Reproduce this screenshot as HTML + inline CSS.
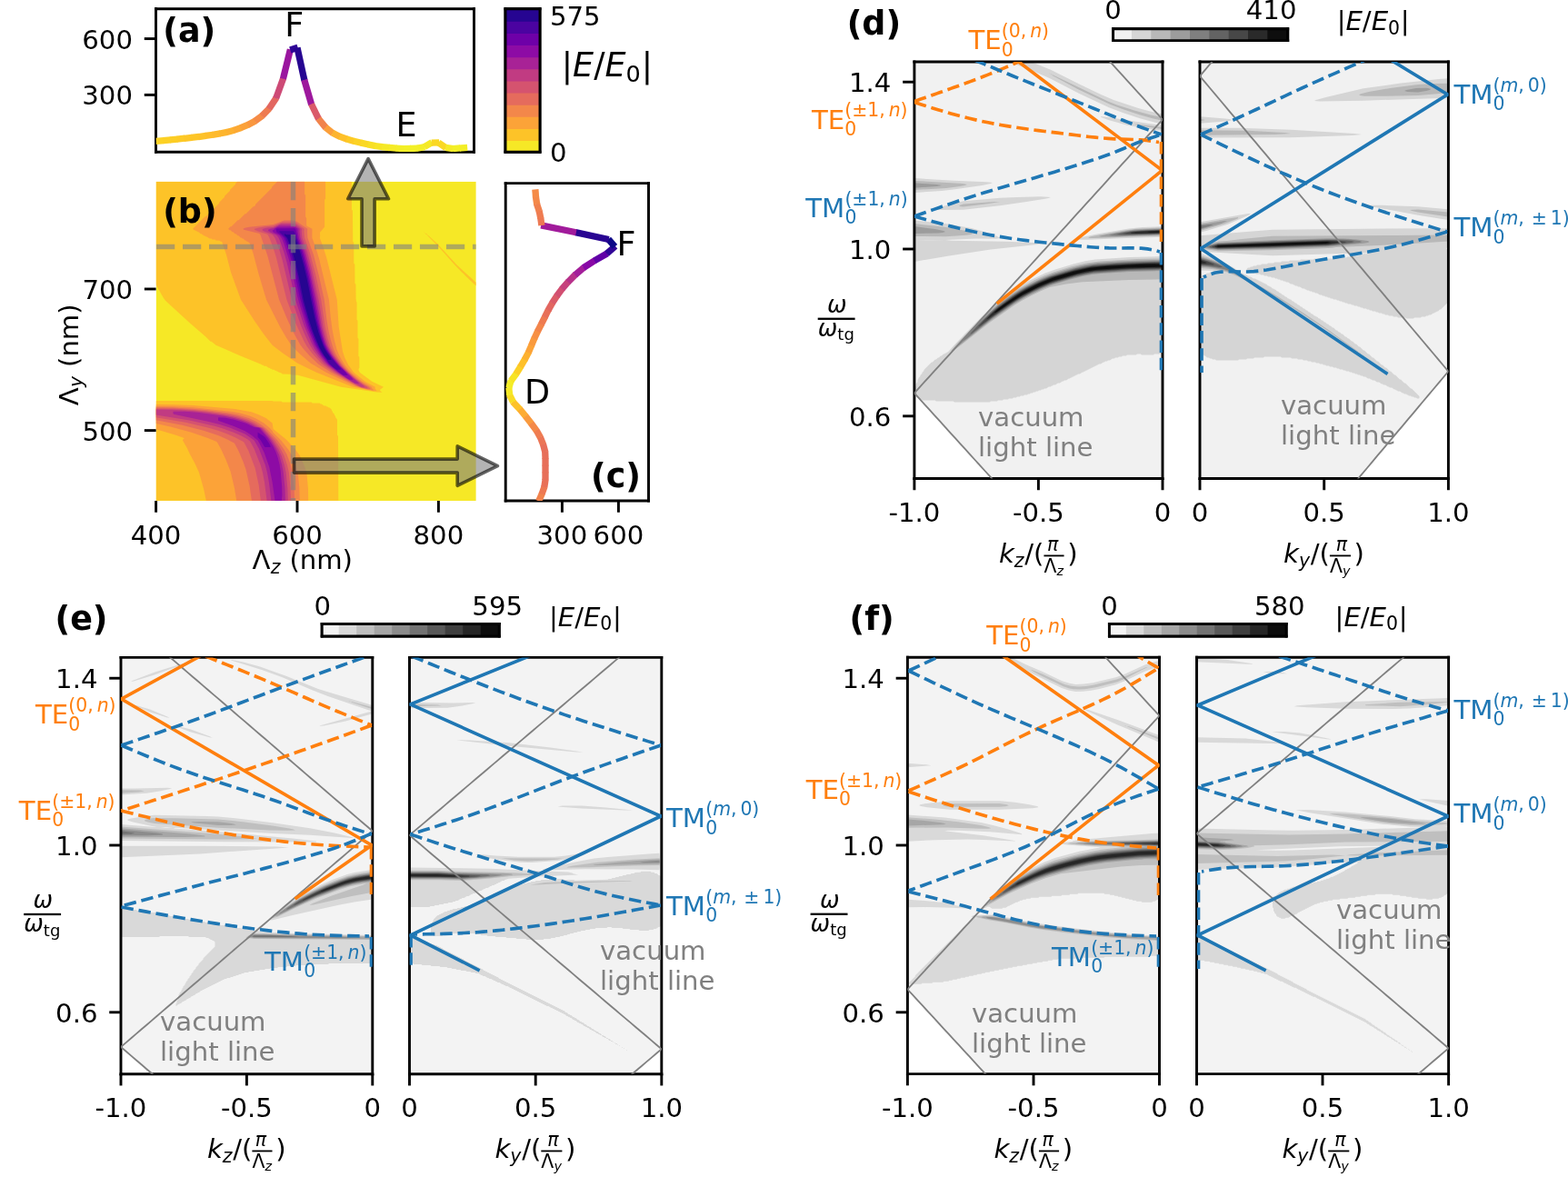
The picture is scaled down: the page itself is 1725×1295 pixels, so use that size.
<!DOCTYPE html>
<html><head><meta charset="utf-8"><title>figure</title><style>html,body{margin:0;padding:0;background:#fff;overflow:hidden}svg{display:block}</style></head><body>
<svg width="1725" height="1295" viewBox="0 0 496.8 372.96" version="1.1"><defs><style type="text/css">*{stroke-linejoin: round; stroke-linecap: butt}</style></defs><g id="figure_1"><g id="patch_1"><path d="M 0 372.96 L 496.8 372.96 496.8 0 0 0 z" style="fill: #ffffff"/></g><g id="axes_1"><g id="patch_2"><path d="M 49.39 48.15 L 150.19 48.15 150.19 2.79 49.39 2.79 49.39 48.15 z" style="fill: none"/></g><g id="matplotlib.axis_1"/><g id="matplotlib.axis_2"><g id="ytick_1"><g id="line2d_1"><defs><path id="m9aed2ce525" d="M 0 0 L -3.67 0" style="stroke: #000000; stroke-width: 0.84"/></defs><g><use xlink:href="#m9aed2ce525" x="49.39" y="12.27" style="stroke: #000000; stroke-width: 0.84"/></g></g><g id="text_1"><text style="font-size: 8.4px; font-family: 'DejaVu Sans', sans-serif; text-anchor: end" x="42.04" y="15.46" transform="rotate(-0 42.04 15.46)">600</text></g></g><g id="ytick_2"><g id="line2d_2"><g><use xlink:href="#m9aed2ce525" x="49.39" y="30.07" style="stroke: #000000; stroke-width: 0.84"/></g></g><g id="text_2"><text style="font-size: 8.4px; font-family: 'DejaVu Sans', sans-serif; text-anchor: end" x="42.04" y="33.26" transform="rotate(-0 42.04 33.26)">300</text></g></g></g><g id="patch_3"><path d="M 49.39 48.15 L 49.39 2.79" style="fill: none; stroke: #000000; stroke-width: 0.84; stroke-linejoin: miter; stroke-linecap: square"/></g><g id="patch_4"><path d="M 150.19 48.15 L 150.19 2.79" style="fill: none; stroke: #000000; stroke-width: 0.84; stroke-linejoin: miter; stroke-linecap: square"/></g><g id="patch_5"><path d="M 49.39 48.15 L 150.19 48.15" style="fill: none; stroke: #000000; stroke-width: 0.84; stroke-linejoin: miter; stroke-linecap: square"/></g><g id="patch_6"><path d="M 49.39 2.79 L 150.19 2.79" style="fill: none; stroke: #000000; stroke-width: 0.84; stroke-linejoin: miter; stroke-linecap: square"/></g><g id="LineCollection_1"><path d="M 49.42 44.76 L 51.86 44.53" clip-path="url(#pc8ce5147f1)" style="fill: none; stroke: #fcd225; stroke-width: 2.1"/><path d="M 51.66 44.55 L 54.1 44.31" clip-path="url(#pc8ce5147f1)" style="fill: none; stroke: #fcd025; stroke-width: 2.1"/><path d="M 53.9 44.33 L 56.33 44.08" clip-path="url(#pc8ce5147f1)" style="fill: none; stroke: #fccd25; stroke-width: 2.1"/><path d="M 56.13 44.1 L 58.57 43.84" clip-path="url(#pc8ce5147f1)" style="fill: none; stroke: #fdca26; stroke-width: 2.1"/><path d="M 58.37 43.86 L 60.81 43.59" clip-path="url(#pc8ce5147f1)" style="fill: none; stroke: #fdc627; stroke-width: 2.1"/><path d="M 60.61 43.62 L 63.05 43.33" clip-path="url(#pc8ce5147f1)" style="fill: none; stroke: #fdc527; stroke-width: 2.1"/><path d="M 62.85 43.35 L 65.28 43.02" clip-path="url(#pc8ce5147f1)" style="fill: none; stroke: #fdc229; stroke-width: 2.1"/><path d="M 65.09 43.05 L 67.52 42.7" clip-path="url(#pc8ce5147f1)" style="fill: none; stroke: #febd2a; stroke-width: 2.1"/><path d="M 67.32 42.73 L 69.76 42.32" clip-path="url(#pc8ce5147f1)" style="fill: none; stroke: #feba2c; stroke-width: 2.1"/><path d="M 69.56 42.35 L 72 41.86" clip-path="url(#pc8ce5147f1)" style="fill: none; stroke: #fdb52e; stroke-width: 2.1"/><path d="M 71.8 41.9 L 74.23 41.24" clip-path="url(#pc8ce5147f1)" style="fill: none; stroke: #fdb130; stroke-width: 2.1"/><path d="M 74.04 41.29 L 76.46 40.46" clip-path="url(#pc8ce5147f1)" style="fill: none; stroke: #fca934; stroke-width: 2.1"/><path d="M 76.27 40.53 L 78.7 39.51" clip-path="url(#pc8ce5147f1)" style="fill: none; stroke: #fba139; stroke-width: 2.1"/><path d="M 78.51 39.59 L 80.93 38.3" clip-path="url(#pc8ce5147f1)" style="fill: none; stroke: #f9973f; stroke-width: 2.1"/><path d="M 80.75 38.39 L 83.15 36.65" clip-path="url(#pc8ce5147f1)" style="fill: none; stroke: #f58b47; stroke-width: 2.1"/><path d="M 82.99 36.77 L 85.37 34.36" clip-path="url(#pc8ce5147f1)" style="fill: none; stroke: #ee7b51; stroke-width: 2.1"/><path d="M 85.22 34.51 L 87.57 30.97" clip-path="url(#pc8ce5147f1)" style="fill: none; stroke: #e26660; stroke-width: 2.1"/><path d="M 87.46 31.14 L 89.77 24.79" clip-path="url(#pc8ce5147f1)" style="fill: none; stroke: #cd4a76; stroke-width: 2.1"/><path d="M 89.7 24.98 L 91.99 15.64" clip-path="url(#pc8ce5147f1)" style="fill: none; stroke: #9a169f; stroke-width: 2.1"/><path d="M 91.94 15.83 L 94.37 15.06" clip-path="url(#pc8ce5147f1)" style="fill: none; stroke: #2f0596; stroke-width: 2.1"/><path d="M 94.18 15.12 L 96.46 25.51" clip-path="url(#pc8ce5147f1)" style="fill: none; stroke: #260591; stroke-width: 2.1"/><path d="M 96.41 25.31 L 98.71 33.17" clip-path="url(#pc8ce5147f1)" style="fill: none; stroke: #9d189d; stroke-width: 2.1"/><path d="M 98.65 32.98 L 100.98 37.76" clip-path="url(#pc8ce5147f1)" style="fill: none; stroke: #da5a6a; stroke-width: 2.1"/><path d="M 100.89 37.58 L 103.25 40.5" clip-path="url(#pc8ce5147f1)" style="fill: none; stroke: #f1834c; stroke-width: 2.1"/><path d="M 103.13 40.35 L 105.52 42.27" clip-path="url(#pc8ce5147f1)" style="fill: none; stroke: #fb9f3a; stroke-width: 2.1"/><path d="M 105.36 42.14 L 107.78 43.34" clip-path="url(#pc8ce5147f1)" style="fill: none; stroke: #fdb42f; stroke-width: 2.1"/><path d="M 107.6 43.25 L 110.03 44.12" clip-path="url(#pc8ce5147f1)" style="fill: none; stroke: #fec029; stroke-width: 2.1"/><path d="M 109.84 44.05 L 112.27 44.76" clip-path="url(#pc8ce5147f1)" style="fill: none; stroke: #fdca26; stroke-width: 2.1"/><path d="M 112.08 44.7 L 114.51 45.3" clip-path="url(#pc8ce5147f1)" style="fill: none; stroke: #fcd225; stroke-width: 2.1"/><path d="M 114.32 45.25 L 116.75 45.81" clip-path="url(#pc8ce5147f1)" style="fill: none; stroke: #fad824; stroke-width: 2.1"/><path d="M 116.55 45.77 L 118.99 46.26" clip-path="url(#pc8ce5147f1)" style="fill: none; stroke: #f8df25; stroke-width: 2.1"/><path d="M 118.79 46.22 L 121.23 46.57" clip-path="url(#pc8ce5147f1)" style="fill: none; stroke: #f7e425; stroke-width: 2.1"/><path d="M 121.03 46.54 L 123.47 46.8" clip-path="url(#pc8ce5147f1)" style="fill: none; stroke: #f5e926; stroke-width: 2.1"/><path d="M 123.27 46.78 L 125.71 47" clip-path="url(#pc8ce5147f1)" style="fill: none; stroke: #f5eb27; stroke-width: 2.1"/><path d="M 125.5 46.98 L 127.94 47.11" clip-path="url(#pc8ce5147f1)" style="fill: none; stroke: #f3ee27; stroke-width: 2.1"/><path d="M 127.74 47.1 L 130.18 47.09" clip-path="url(#pc8ce5147f1)" style="fill: none; stroke: #f3f027; stroke-width: 2.1"/><path d="M 129.98 47.09 L 132.42 46.95" clip-path="url(#pc8ce5147f1)" style="fill: none; stroke: #f3f027; stroke-width: 2.1"/><path d="M 132.22 46.96 L 134.65 46.54" clip-path="url(#pc8ce5147f1)" style="fill: none; stroke: #f3ee27; stroke-width: 2.1"/><path d="M 134.46 46.58 L 136.87 45.12" clip-path="url(#pc8ce5147f1)" style="fill: none; stroke: #f5e926; stroke-width: 2.1"/><path d="M 136.69 45.23 L 139.13 45.21" clip-path="url(#pc8ce5147f1)" style="fill: none; stroke: #fad824; stroke-width: 2.1"/><path d="M 138.93 45.22 L 141.33 46.87" clip-path="url(#pc8ce5147f1)" style="fill: none; stroke: #fad824; stroke-width: 2.1"/><path d="M 141.17 46.76 L 143.61 47.15" clip-path="url(#pc8ce5147f1)" style="fill: none; stroke: #f5eb27; stroke-width: 2.1"/><path d="M 143.41 47.12 L 145.85 46.94" clip-path="url(#pc8ce5147f1)" style="fill: none; stroke: #f3f027; stroke-width: 2.1"/><path d="M 145.64 46.96 L 148.08 46.74" clip-path="url(#pc8ce5147f1)" style="fill: none; stroke: #f3ee27; stroke-width: 2.1"/></g></g><g id="axes_2"><g id="patch_7"><path d="M 160.13 48.15 L 171.07 48.15 171.07 2.79 160.13 2.79 160.13 48.15 z" style="fill: none"/></g><g id="matplotlib.axis_3"/><g id="matplotlib.axis_4"/><g id="patch_8"><path d="M 160.13 48.15 L 160.13 2.79" style="fill: none; stroke: #000000; stroke-width: 0.84; stroke-linejoin: miter; stroke-linecap: square"/></g><g id="patch_9"><path d="M 171.07 48.15 L 171.07 2.79" style="fill: none; stroke: #000000; stroke-width: 0.84; stroke-linejoin: miter; stroke-linecap: square"/></g><g id="patch_10"><path d="M 160.13 48.15 L 171.07 48.15" style="fill: none; stroke: #000000; stroke-width: 0.84; stroke-linejoin: miter; stroke-linecap: square"/></g><g id="patch_11"><path d="M 160.13 2.79 L 171.07 2.79" style="fill: none; stroke: #000000; stroke-width: 0.84; stroke-linejoin: miter; stroke-linecap: square"/></g></g><g id="axes_3"><g id="patch_12"><path d="M 49.42 158.69 L 150.85 158.69 150.85 57.54 49.42 57.54 49.42 158.69 z" style="fill: none"/></g><g id="patch_13"><path d="M 49.42 57.54 L 150.85 57.54 150.85 158.69 49.42 158.69 z" clip-path="url(#p224a8b85fa)" style="fill: #f6e826"/></g><g id="patch_14"><path d="M 49.71 57.54 L 111.44 57.54 111.44 66.47 111.73 66.76 111.81 76.55 112.09 76.84 112.12 83.46 112.41 83.75 112.45 89.8 112.73 90.09 112.78 94.64 112.89 95.56 113.06 95.85 113.05 101.32 113.33 101.61 113.33 107.08 113.6 107.37 113.57 112.84 113.85 113.13 113.87 116.58 113.62 116.87 113.64 117.35 114.01 118.02 114.35 118.31 117.88 120.9 121.53 122.63 120.42 123.49 120.42 123.78 121.06 124.36 119.4 124.26 108.06 122.63 94.36 118.89 92.33 118.83 92.04 118.57 89.45 118.52 89.16 118.25 88.3 117.97 88.01 117.69 87.72 117.68 87.44 117.41 87.15 117.4 86.86 117.13 86.28 117.12 86 116.84 85.71 116.84 85.42 116.56 85.13 116.55 84.27 116 83.69 115.99 83.4 115.71 83.12 115.71 82.83 115.48 76.33 112.84 68.41 109.38 66.99 108.23 66.7 108.23 65.26 106.8 59.94 102.18 52.41 95.27 51.78 94.41 49.42 90.19 49.42 57.54 49.71 57.54 z M 134.38 73.55 L 134.58 73.67 134.38 73.73 134.38 73.55 z M 134.67 73.81 L 135.33 74.25 135.24 74.46 134.64 73.96 134.67 73.81 z M 135.53 74.43 L 138.74 77.41 144.75 83.92 150.8 89.53 150.8 90.57 147.34 87.28 143.88 83.73 139.03 78.28 135.3 74.53 135.53 74.43 z M 49.71 126.99 L 86.28 127.01 86.57 127.14 89.16 127.14 89.45 127.43 98.67 127.43 98.96 127.72 101.26 127.72 101.55 128.01 101.84 128.01 102.7 128.58 103.28 128.58 103.56 128.87 103.85 128.87 104.14 129.16 104.43 129.16 105.1 129.83 105.1 130.12 105.39 130.41 105.39 130.69 105.96 131.27 105.96 131.56 106.25 131.85 106.25 132.13 106.83 133 106.85 137.89 107.13 138.18 107.22 158.63 49.42 158.63 49.42 127.09 49.71 126.99 z" clip-path="url(#p224a8b85fa)" style="fill: #fdc328"/></g><g id="patch_15"><path d="M 75.05 57.69 L 75.2 57.54 103.13 57.54 103.13 63.01 102.84 63.3 102.84 71.94 101.36 73.67 101.43 74.82 101.32 75.4 102.5 78.57 103.47 81.73 106.78 94.98 107.34 103.62 108.57 111.4 109.25 113.41 110.39 115.72 112.07 118.02 115.68 120.9 118.85 122.63 118.83 123.21 119.36 123.78 119.12 123.9 118.25 123.91 111.63 122.54 100.26 118.02 94.32 115.14 89.67 111.97 86.28 109.38 83.59 105.93 80.77 101.89 76.32 94.98 73.17 86.34 71.67 80.58 70.29 76.55 69.87 76.53 69.58 76.24 68.43 76.2 68.14 75.91 67.28 75.89 66.99 75.6 66.41 75.59 65.55 75 65.26 75 64.97 74.7 64.68 74.7 63.82 74.11 63.53 74.1 62.96 73.53 62.67 73.53 62.38 73.24 62.09 73.24 61.8 72.95 61.52 72.95 61.08 72.52 64.97 68.63 65.26 68.63 69.44 64.45 69.44 64.17 71.16 62.44 71.16 62.15 72.89 60.42 72.89 60.13 74.62 58.41 74.62 58.12 75.05 57.69 z M 119.4 123.96 L 119.81 124.07 119.4 124.08 119.4 123.96 z M 49.71 128.19 L 55.18 128.21 61.23 128.44 74.48 129.6 79.66 130.55 81.96 131.39 84.27 132.51 86.28 134.07 86.57 135.94 90.73 139.33 93.39 142.21 94.91 144.23 96.23 147.11 97.16 149.7 97.62 154.89 97.68 158.63 65.32 158.63 64.52 154.89 63.05 149.7 61.74 146.82 60.17 143.94 59.24 141.93 57.91 139.62 57.87 139.33 58.37 139.05 58.16 138.76 55.73 137.89 49.42 135.99 49.42 128.2 49.71 128.19 z" clip-path="url(#p224a8b85fa)" style="fill: #fca338"/></g><g id="patch_16"><path d="M 87.72 57.69 L 87.87 57.54 96.51 57.54 96.51 61.57 96.8 61.86 96.8 68.77 97.08 69.06 97.12 71.37 97.23 71.65 98.91 72.52 98.89 75.4 100.16 78.85 101.11 82.02 104.23 94.98 104.72 100.25 105.28 104.49 105.87 107.51 106.73 110.82 107.31 112.27 108.17 113.9 109.32 115.74 110.46 117.16 111.57 118.31 114.74 120.9 117.67 122.63 117.98 123.21 118.31 123.49 118.25 123.66 115.95 123.32 112.78 122.48 103.36 118.02 98.48 115.14 95.11 112.26 92.48 109.67 90.75 107.08 88.74 103.62 84.39 94.98 81.81 86.34 80.31 80.58 79.16 77.13 78.51 76.51 78.22 76.5 77.93 76.2 77.64 76.18 77.07 75.59 76.78 75.58 76.49 75.29 76.2 75.28 75.63 74.68 75.34 74.68 74.76 74.1 74.48 74.1 73.9 73.53 73.61 73.53 73.04 72.95 72.75 72.95 72.32 72.52 73.04 71.8 73.32 71.8 75.34 69.78 75.63 69.78 77.64 67.77 77.93 67.77 80.24 65.46 80.52 65.46 80.96 65.03 80.96 64.74 86.14 59.56 86.14 59.27 87.72 57.69 z M 49.71 128.74 L 55.18 128.81 61.23 129.1 73.61 130.47 75.92 130.91 79.08 131.74 81.1 132.6 83.69 134.1 85.42 135.59 86.28 136.49 86.57 137.12 89.11 139.62 91.38 142.5 92.45 144.23 93.6 147.11 94.37 149.7 94.85 154.6 94.96 158.63 74.94 158.63 74.27 154.6 73.04 149.4 71.6 145.75 70.11 142.5 68.85 140.2 68.52 139.91 65.67 138.76 60.66 137.03 54.29 135.3 49.42 134.24 49.42 128.75 49.71 128.74 z" clip-path="url(#p224a8b85fa)" style="fill: #f3874a"/></g><g id="patch_17"><path d="M 90.03 69.85 L 92.62 69.83 93.48 69.99 94.35 70.43 97.43 72.52 97.35 73.38 97.47 75.4 99.37 80.87 101.14 87.78 102.74 94.98 103.51 101.32 104.14 105.02 104.75 107.65 105.63 110.53 106.43 112.26 107.28 113.7 108.68 115.72 109.65 116.87 110.75 118.02 113.08 120.04 115.08 121.52 116.93 122.63 117.38 123.21 117.1 123.35 116.24 123.27 114.22 122.76 112.78 122.18 104.92 118.02 100.93 115.43 98.18 112.84 95.87 110.25 95.04 109.09 93.13 105.64 91.08 101.32 88.43 94.98 84.8 81.16 82.45 74.25 82.01 73.96 77.27 72.81 77.01 72.52 77.61 72.23 78.98 71.94 86.57 71.11 90.03 69.85 z M 49.71 129.12 L 54.6 129.2 60.65 129.5 65.55 129.97 72.46 130.9 75.34 131.47 78.8 132.48 80.81 133.41 82.83 134.65 84.43 135.88 87.73 139.33 89.64 141.93 90.85 143.94 91.93 146.82 92.7 149.7 93.21 154.89 93.32 158.63 79.75 158.63 79.08 154.03 77.93 148.85 77.07 146.41 75.66 143.08 74.31 140.49 72.19 139.33 69.29 138.03 64.51 136.45 57.73 134.73 49.42 133.13 49.42 129.12 49.71 129.12 z" clip-path="url(#p224a8b85fa)" style="fill: #e56b5d"/></g><g id="patch_18"><path d="M 89.45 70.41 L 93.2 70.41 94.06 70.83 96.39 72.52 96.32 73.38 96.5 75.4 98.23 80.29 100.03 87.21 101.72 94.98 103.02 103.62 103.85 107.21 104.72 109.98 106.19 112.84 108.72 116.29 110.42 118.02 112.69 120.04 114.8 121.64 116.36 122.63 116.52 122.96 116.24 123.05 115.37 122.96 114.51 122.74 112.78 121.97 106.16 118.21 102.91 116.01 101.81 115.14 98.9 111.97 97.18 109.67 96.22 107.94 93.69 102.47 90.85 94.98 87.44 81.32 86.48 78.28 85.26 75.11 84.73 74.25 81.96 73.38 80.6 72.81 80.68 72.52 81.96 72.15 84.27 71.77 86.57 71.56 89.45 70.41 z M 49.71 129.44 L 55.47 129.56 61.23 129.89 66.41 130.46 72.46 131.35 75.34 131.99 78.51 132.97 80.52 133.93 82.65 135.3 83.51 135.59 86.92 139.33 88.72 141.93 89.94 144.23 91 147.4 91.53 149.7 92.02 154.6 92.16 158.63 82.63 158.63 81.96 153.6 80.81 148.28 78.71 142.79 77.33 140.2 77 139.91 74.19 138.47 71.48 137.32 69.11 136.45 66.14 135.59 58.8 133.86 49.42 132.29 49.42 129.44 49.71 129.44 z" clip-path="url(#p224a8b85fa)" style="fill: #d5536f"/></g><g id="patch_19"><path d="M 88.59 71.07 L 89.16 70.85 92.91 70.85 93.77 71.2 95.59 72.52 95.54 73.38 95.77 75.4 97.33 79.72 98.81 85.19 100.96 94.98 102.41 103.75 103.28 107.22 104.14 109.85 105.58 112.56 108.15 116.01 112.2 119.88 115.32 122.34 115.37 122.5 115.71 122.63 114.51 122.64 112.49 121.64 106.73 118.19 103.85 116.15 102.64 115.14 100.84 113.13 99.29 111.11 98.19 109.38 96.77 106.5 95.42 103.33 92.46 94.98 89.45 82.36 88.59 79.4 87.44 76.21 87.09 75.4 86.5 74.53 86.12 74.25 83.81 73.38 83.27 73.09 83.06 72.81 83.45 72.52 84.43 72.23 86.57 71.97 88.59 71.07 z M 49.71 129.77 L 54.38 129.83 60.05 130.12 65.26 130.64 71.31 131.53 74.48 132.2 77.36 133.05 79.66 134 81.8 135.3 83.03 135.59 84.88 137.61 86.49 139.62 88.16 142.21 89.24 144.52 90.12 147.4 90.6 149.7 91.12 154.89 91.23 158.63 84.56 158.63 83.81 152.87 83.22 149.7 82.58 147.4 80.52 142.17 79.27 139.91 78.51 139.27 76.6 138.18 74.02 137.03 70.88 135.88 67.99 135.01 60.08 133.19 49.42 131.5 49.42 129.77 49.71 129.77 z" clip-path="url(#p224a8b85fa)" style="fill: #c13b82"/></g><g id="patch_20"><path d="M 88.59 71.36 L 92.91 71.36 93.48 71.55 94.92 72.52 94.89 73.38 95.19 75.4 96.75 79.72 98.23 85.19 100.35 94.98 101.84 103.42 102.7 106.82 103.53 109.38 105.04 112.26 107.63 115.72 109.33 117.45 113.44 121.19 113.72 121.48 113.64 121.61 112.49 121.49 110.76 120.47 106.91 118.02 103.87 115.72 102.48 114.28 100.86 112.26 99.69 110.53 98.75 108.81 96.29 103.05 93.7 95.27 90.89 83.14 90.01 80.01 88.88 76.73 88.32 75.4 87.63 74.53 85.78 73.67 84.94 73.09 85 72.81 85.63 72.52 86.57 72.35 88.59 71.36 z M 54.89 130.4 L 58.6 130.41 62.53 130.69 71.03 131.85 73.79 132.42 76.49 133.19 78.8 134.04 81.06 135.3 82.59 135.59 85.74 139.33 87.53 142.21 88.45 144.23 89.29 147.11 89.79 149.7 90.29 154.89 90.39 158.63 85.93 158.63 85.23 152.87 84.66 149.7 84.05 147.4 82.06 142.21 80.6 139.62 79.95 139.08 77.64 137.53 73.02 135.59 69.35 134.44 65.55 133.47 55.04 131.27 54.82 130.98 54.89 130.4 z" clip-path="url(#p224a8b85fa)" style="fill: #a82296"/></g><g id="patch_21"><path d="M 88.01 71.9 L 92.91 71.86 93.48 72.02 94.3 72.52 94.33 73.38 94.71 75.4 96.53 80.58 98.16 86.92 99.84 94.98 101.26 102.75 102.12 106.17 102.99 108.87 104.14 111.3 105.87 113.82 107.66 116.01 111.5 119.75 111.92 120.38 110.76 120.3 109.9 119.78 107.24 118.02 104.29 115.72 103.43 114.85 101.61 112.55 99.68 109.38 97.34 103.91 95.07 97 94.27 94.12 92.91 87.59 91.76 82.91 90.03 77.32 89.38 75.69 89.02 75.11 88.47 74.53 86.78 73.67 86.41 73.38 86.29 73.09 86.86 72.71 86.94 72.52 88.01 71.9 z M 69.29 132.26 L 71.47 132.42 74.22 133 77.92 134.15 80.52 135.39 82.11 135.59 84.8 138.76 86.48 141.35 87.35 143.08 88.01 144.97 88.55 147.11 88.89 149.13 89.32 154.02 89.4 156.9 89.23 158.63 87.11 158.63 86.3 152.87 85.32 147.97 83.69 143.32 81.75 139.62 79.66 137.85 77.64 136.57 74.48 135.19 69.12 133.29 69.12 132.42 69.29 132.26 z" clip-path="url(#p224a8b85fa)" style="fill: #8d0ba5"/></g><g id="patch_22"><path d="M 87.72 72.4 L 93.2 72.38 93.62 72.52 94.23 74.82 94.27 75.4 95.83 79.72 97.1 84.33 98.05 88.36 100.76 102.18 101.55 105.36 102.65 108.81 103.58 110.82 105.09 113.13 107.18 115.72 109.53 118.02 110.19 118.94 108.75 118.84 107.5 118.02 104.31 115.43 102.02 112.55 100.31 109.67 98.21 104.77 95.97 97.86 95.01 94.41 92.91 84.62 91.18 78.53 89.96 75.4 89.12 74.53 87.76 73.67 87.58 73.38 87.48 72.52 87.72 72.4 z M 81.68 137.02 L 83.4 138.07 83.98 138.58 85.13 140.25 85.68 141.35 85.71 141.7 83.98 141.7 83.69 141.41 82.66 139.62 81.66 138.47 81.68 137.02 z" clip-path="url(#p224a8b85fa)" style="fill: #6e00a8"/></g><g id="patch_23"><path d="M 88.59 73.24 L 92.91 73.24 93.2 73.46 93.48 74.03 95.43 79.72 96.65 84.13 97.58 88.07 100.27 101.61 101.85 107.37 102.58 109.38 103.66 111.4 105.51 113.99 107.94 116.87 107.88 117.12 106.73 117.12 105.58 116.33 104.3 115.14 101.62 111.4 99.91 107.94 97.96 102.76 95.92 95.85 94.06 87 92.04 79.4 90.53 75.4 88.67 73.67 88.46 73.38 88.59 73.24 z" clip-path="url(#p224a8b85fa)" style="fill: #4b03a1"/></g><g id="patch_24"><path d="M 90.32 74.11 L 90.6 74.35 92.91 74.35 93.31 74.82 94.94 79.43 96.36 84.59 97.23 88.33 99.65 100.45 100.89 105.35 102.56 109.96 103.72 111.97 104.75 113.41 105 114.05 103.85 114.05 102.63 112.55 101.15 109.96 99.12 105.06 97.71 100.74 96.13 94.98 94.64 87.48 93.2 81.69 92.33 78.84 91.18 75.77 90.99 75.4 90.16 74.53 90.16 74.25 90.32 74.11 z" clip-path="url(#p224a8b85fa)" style="fill: #260591"/></g><g id="matplotlib.axis_5"><g id="xtick_1"><g id="line2d_3"><defs><path id="m3f14504601" d="M 0 0 L 0 3.67" style="stroke: #000000; stroke-width: 0.84"/></defs><g><use xlink:href="#m3f14504601" x="49.42" y="158.69" style="stroke: #000000; stroke-width: 0.84"/></g></g><g id="text_3"><text style="font-size: 8.4px; font-family: 'DejaVu Sans', sans-serif; text-anchor: middle" x="49.42" y="172.42" transform="rotate(-0 49.42 172.42)">400</text></g></g><g id="xtick_2"><g id="line2d_4"><g><use xlink:href="#m3f14504601" x="94.18" y="158.69" style="stroke: #000000; stroke-width: 0.84"/></g></g><g id="text_4"><text style="font-size: 8.4px; font-family: 'DejaVu Sans', sans-serif; text-anchor: middle" x="94.18" y="172.42" transform="rotate(-0 94.18 172.42)">600</text></g></g><g id="xtick_3"><g id="line2d_5"><g><use xlink:href="#m3f14504601" x="138.93" y="158.69" style="stroke: #000000; stroke-width: 0.84"/></g></g><g id="text_5"><text style="font-size: 8.4px; font-family: 'DejaVu Sans', sans-serif; text-anchor: middle" x="138.93" y="172.42" transform="rotate(-0 138.93 172.42)">800</text></g></g></g><g id="matplotlib.axis_6"><g id="ytick_3"><g id="line2d_6"><g><use xlink:href="#m9aed2ce525" x="49.42" y="91.58" style="stroke: #000000; stroke-width: 0.84"/></g></g><g id="text_6"><text style="font-size: 8.4px; font-family: 'DejaVu Sans', sans-serif; text-anchor: end" x="42.07" y="94.78" transform="rotate(-0 42.07 94.78)">700</text></g></g><g id="ytick_4"><g id="line2d_7"><g><use xlink:href="#m9aed2ce525" x="49.42" y="136.4" style="stroke: #000000; stroke-width: 0.84"/></g></g><g id="text_7"><text style="font-size: 8.4px; font-family: 'DejaVu Sans', sans-serif; text-anchor: end" x="42.07" y="139.59" transform="rotate(-0 42.07 139.59)">500</text></g></g></g><g id="line2d_8"><path d="M 49.54 78.22 L 150.85 78.22" clip-path="url(#p224a8b85fa)" style="fill: none; stroke-dasharray: 5.83,2.52; stroke-dashoffset: 0; stroke: #808080; stroke-opacity: 0.6; stroke-width: 1.57"/></g><g id="line2d_9"><path d="M 92.88 57.6 L 92.88 158.69" clip-path="url(#p224a8b85fa)" style="fill: none; stroke-dasharray: 5.83,2.52; stroke-dashoffset: 0; stroke: #808080; stroke-opacity: 0.6; stroke-width: 1.57"/></g></g><g id="axes_4"><g id="patch_25"><path d="M 160.19 158.69 L 205.49 158.69 205.49 58.06 160.19 58.06 160.19 158.69 z" style="fill: none"/></g><g id="matplotlib.axis_7"><g id="xtick_4"><g id="line2d_10"><g><use xlink:href="#m3f14504601" x="178.1" y="158.69" style="stroke: #000000; stroke-width: 0.84"/></g></g><g id="text_8"><text style="font-size: 8.4px; font-family: 'DejaVu Sans', sans-serif; text-anchor: middle" x="178.1" y="172.42" transform="rotate(-0 178.1 172.42)">300</text></g></g><g id="xtick_5"><g id="line2d_11"><g><use xlink:href="#m3f14504601" x="195.96" y="158.69" style="stroke: #000000; stroke-width: 0.84"/></g></g><g id="text_9"><text style="font-size: 8.4px; font-family: 'DejaVu Sans', sans-serif; text-anchor: middle" x="195.96" y="172.42" transform="rotate(-0 195.96 172.42)">600</text></g></g></g><g id="matplotlib.axis_8"/><g id="patch_26"><path d="M 160.19 158.69 L 160.19 58.06" style="fill: none; stroke: #000000; stroke-width: 0.84; stroke-linejoin: miter; stroke-linecap: square"/></g><g id="patch_27"><path d="M 205.49 158.69 L 205.49 58.06" style="fill: none; stroke: #000000; stroke-width: 0.84; stroke-linejoin: miter; stroke-linecap: square"/></g><g id="patch_28"><path d="M 160.19 158.69 L 205.49 158.69" style="fill: none; stroke: #000000; stroke-width: 0.84; stroke-linejoin: miter; stroke-linecap: square"/></g><g id="patch_29"><path d="M 160.19 58.06 L 205.49 58.06" style="fill: none; stroke: #000000; stroke-width: 0.84; stroke-linejoin: miter; stroke-linecap: square"/></g><g id="LineCollection_2"><path d="M 170.67 158.8 L 171.75 156.38" clip-path="url(#pe16f4d7ecf)" style="fill: none; stroke: #f1834c; stroke-width: 2.1"/><path d="M 171.67 156.56 L 172.53 154.13" clip-path="url(#pe16f4d7ecf)" style="fill: none; stroke: #ed7953; stroke-width: 2.1"/><path d="M 172.46 154.32 L 172.83 151.88" clip-path="url(#pe16f4d7ecf)" style="fill: none; stroke: #e97158; stroke-width: 2.1"/><path d="M 172.8 152.08 L 172.8 149.64" clip-path="url(#pe16f4d7ecf)" style="fill: none; stroke: #e76f5a; stroke-width: 2.1"/><path d="M 172.8 149.84 L 172.8 147.4" clip-path="url(#pe16f4d7ecf)" style="fill: none; stroke: #e76f5a; stroke-width: 2.1"/><path d="M 172.8 147.6 L 172.8 145.16" clip-path="url(#pe16f4d7ecf)" style="fill: none; stroke: #e76f5a; stroke-width: 2.1"/><path d="M 172.8 145.36 L 172.71 142.92" clip-path="url(#pe16f4d7ecf)" style="fill: none; stroke: #e76f5a; stroke-width: 2.1"/><path d="M 172.72 143.12 L 172.06 140.68" clip-path="url(#pe16f4d7ecf)" style="fill: none; stroke: #e76f5a; stroke-width: 2.1"/><path d="M 172.11 140.88 L 171.15 138.45" clip-path="url(#pe16f4d7ecf)" style="fill: none; stroke: #eb7556; stroke-width: 2.1"/><path d="M 171.22 138.64 L 169.86 136.22" clip-path="url(#pe16f4d7ecf)" style="fill: none; stroke: #ef7c51; stroke-width: 2.1"/><path d="M 169.96 136.4 L 168.17 133.99" clip-path="url(#pe16f4d7ecf)" style="fill: none; stroke: #f48948; stroke-width: 2.1"/><path d="M 168.29 134.16 L 166.43 131.76" clip-path="url(#pe16f4d7ecf)" style="fill: none; stroke: #f99a3e; stroke-width: 2.1"/><path d="M 166.56 131.92 L 164.59 129.52" clip-path="url(#pe16f4d7ecf)" style="fill: none; stroke: #fdac33; stroke-width: 2.1"/><path d="M 164.71 129.67 L 162.45 127.29" clip-path="url(#pe16f4d7ecf)" style="fill: none; stroke: #fdc229; stroke-width: 2.1"/><path d="M 162.59 127.43 L 161.39 125.01" clip-path="url(#pe16f4d7ecf)" style="fill: none; stroke: #f9dc24; stroke-width: 2.1"/><path d="M 161.48 125.19 L 161.18 122.75" clip-path="url(#pe16f4d7ecf)" style="fill: none; stroke: #f5e926; stroke-width: 2.1"/><path d="M 161.2 122.95 L 161.93 120.52" clip-path="url(#pe16f4d7ecf)" style="fill: none; stroke: #f4ed27; stroke-width: 2.1"/><path d="M 161.87 120.71 L 163.65 118.31" clip-path="url(#pe16f4d7ecf)" style="fill: none; stroke: #f7e425; stroke-width: 2.1"/><path d="M 163.53 118.47 L 165 116.06" clip-path="url(#pe16f4d7ecf)" style="fill: none; stroke: #fcd025; stroke-width: 2.1"/><path d="M 164.9 116.23 L 166.33 113.82" clip-path="url(#pe16f4d7ecf)" style="fill: none; stroke: #fec029; stroke-width: 2.1"/><path d="M 166.23 113.99 L 167.5 111.57" clip-path="url(#pe16f4d7ecf)" style="fill: none; stroke: #fdb130; stroke-width: 2.1"/><path d="M 167.4 111.75 L 168.45 109.32" clip-path="url(#pe16f4d7ecf)" style="fill: none; stroke: #fca338; stroke-width: 2.1"/><path d="M 168.37 109.51 L 169.36 107.08" clip-path="url(#pe16f4d7ecf)" style="fill: none; stroke: #f99a3e; stroke-width: 2.1"/><path d="M 169.29 107.27 L 170.42 104.85" clip-path="url(#pe16f4d7ecf)" style="fill: none; stroke: #f79044; stroke-width: 2.1"/><path d="M 170.34 105.03 L 171.56 102.61" clip-path="url(#pe16f4d7ecf)" style="fill: none; stroke: #f3854b; stroke-width: 2.1"/><path d="M 171.47 102.79 L 172.67 100.37" clip-path="url(#pe16f4d7ecf)" style="fill: none; stroke: #ee7b51; stroke-width: 2.1"/><path d="M 172.58 100.55 L 173.78 98.13" clip-path="url(#pe16f4d7ecf)" style="fill: none; stroke: #e87059; stroke-width: 2.1"/><path d="M 173.69 98.31 L 175.04 95.89" clip-path="url(#pe16f4d7ecf)" style="fill: none; stroke: #e26660; stroke-width: 2.1"/><path d="M 174.95 96.07 L 176.5 93.66" clip-path="url(#pe16f4d7ecf)" style="fill: none; stroke: #db5c68; stroke-width: 2.1"/><path d="M 176.39 93.82 L 178.18 91.42" clip-path="url(#pe16f4d7ecf)" style="fill: none; stroke: #d24f71; stroke-width: 2.1"/><path d="M 178.06 91.58 L 180.13 89.19" clip-path="url(#pe16f4d7ecf)" style="fill: none; stroke: #c6417d; stroke-width: 2.1"/><path d="M 180 89.34 L 182.37 86.96" clip-path="url(#pe16f4d7ecf)" style="fill: none; stroke: #b7318a; stroke-width: 2.1"/><path d="M 182.22 87.1 L 185.01 84.73" clip-path="url(#pe16f4d7ecf)" style="fill: none; stroke: #a31e9a; stroke-width: 2.1"/><path d="M 184.86 84.86 L 188.5 82.51" clip-path="url(#pe16f4d7ecf)" style="fill: none; stroke: #8808a6; stroke-width: 2.1"/><path d="M 188.33 82.62 L 192.43 80.28" clip-path="url(#pe16f4d7ecf)" style="fill: none; stroke: #6100a7; stroke-width: 2.1"/><path d="M 192.26 80.38 L 194.95 78.01" clip-path="url(#pe16f4d7ecf)" style="fill: none; stroke: #310597; stroke-width: 2.1"/><path d="M 194.8 78.14 L 192.75 75.75" clip-path="url(#pe16f4d7ecf)" style="fill: none; stroke: #0d0887; stroke-width: 2.1"/><path d="M 192.89 75.9 L 182.34 73.62" clip-path="url(#pe16f4d7ecf)" style="fill: none; stroke: #280592; stroke-width: 2.1"/><path d="M 182.54 73.66 L 171.42 71.38" clip-path="url(#pe16f4d7ecf)" style="fill: none; stroke: #a11b9b; stroke-width: 2.1"/><path d="M 171.62 71.42 L 171.28 68.98" clip-path="url(#pe16f4d7ecf)" style="fill: none; stroke: #ed7953; stroke-width: 2.1"/><path d="M 171.31 69.18 L 170.81 66.74" clip-path="url(#pe16f4d7ecf)" style="fill: none; stroke: #ef7c51; stroke-width: 2.1"/><path d="M 170.85 66.94 L 170.04 64.51" clip-path="url(#pe16f4d7ecf)" style="fill: none; stroke: #f0804e; stroke-width: 2.1"/><path d="M 170.11 64.7 L 169.75 62.26" clip-path="url(#pe16f4d7ecf)" style="fill: none; stroke: #f48849; stroke-width: 2.1"/><path d="M 169.78 62.46 L 169.59 60.01" clip-path="url(#pe16f4d7ecf)" style="fill: none; stroke: #f58b47; stroke-width: 2.1"/></g></g><g id="axes_5"><g id="patch_30"><path d="M 289.7 151.63 L 368.35 151.63 368.35 19.58 289.7 19.58 289.7 151.63 z" style="fill: none"/></g><g id="patch_31"><path d="M 289.7 19.3 L 368.61 19.3 368.61 151.78 314.37 151.78 313.8 151.2 313.8 150.91 310.92 148.03 310.92 147.74 308.04 144.86 308.04 144.58 305.16 141.7 305.16 141.41 302.28 138.53 302.28 138.24 299.68 135.65 299.68 135.36 296.8 132.48 296.8 132.19 293.92 129.31 293.92 129.02 290.97 126.14 290.97 125.86 289.41 124.22 289.41 19.3 289.7 19.3 z" clip-path="url(#p5f57fae615)" style="fill: #f1f1f1"/></g><g id="patch_32"><path d="M 321.38 19.3 L 325.67 19.3 327.72 20.01 332.9 22.08 342.23 26.78 348.84 29.95 352.84 31.68 360.65 34.27 364.93 35.42 368.32 36.16 368.52 37.44 368.38 39.17 368.32 39.29 366.02 38.78 361.41 37.55 355.94 35.79 351.33 34.06 341.83 29.57 332.51 24.77 326.56 22.18 321.38 20.2 321.22 19.3 321.38 19.3 z M 348.74 36.83 L 351.33 37.14 363.89 39.17 368.32 39.67 368.52 40.32 368.47 41.18 368.32 41.5 366.88 41.33 357.09 39.69 351.17 38.02 348.9 37.15 348.74 36.83 z M 289.7 56.47 L 302.08 57.27 312.74 57.65 314.47 57.89 313.86 58.18 311.12 58.75 302.08 60.07 298.34 60.48 289.7 61.03 289.51 60.19 289.46 58.75 289.51 57.31 289.7 56.47 z M 322.24 62.49 L 329.73 62.31 332.9 62.49 332.16 62.78 330.7 63.07 325.19 63.94 316.77 65.16 305.25 66.43 298.34 66.5 297.19 66.41 296.88 66.24 297.01 65.95 298.68 65.38 305.25 63.75 316.77 62.71 322.24 62.49 z M 289.7 69.82 L 299.49 70.84 308.13 72.38 313.73 74.02 315.95 74.88 316.77 75.46 315.62 75.66 309.28 75.61 299.49 76.03 290.21 76.03 295.75 76.13 299.49 76.03 301.51 76.25 318.79 76.56 327.23 76.9 331.17 77.18 313.89 79.06 300.64 81.07 289.7 82.91 289.54 79.49 289.7 76.03 289.51 74.88 289.46 72.86 289.51 70.85 289.7 69.82 z M 361.99 72 L 368.32 71.76 368.54 72.29 368.59 73.44 368.54 74.59 368.32 75.12 356.8 75.42 344.71 75.95 342.4 75.95 341.5 75.74 341.76 75.46 342.73 75.17 347.59 74.16 357.67 72.4 361.99 72 z M 357.96 81.5 L 368.32 81.23 368.44 81.5 368.61 85.68 368.61 111.6 368.32 111.6 367.46 112.18 365.73 112.18 365.44 112.46 361.7 112.46 361.41 112.18 360.26 112.18 359.97 112.46 357.09 112.46 356.8 112.75 355.65 112.75 355.36 113.04 354.5 113.04 354.21 113.33 353.35 113.33 353.06 113.62 352.48 113.62 351.62 114.19 351.04 114.19 350.76 114.48 350.18 114.48 349.89 114.77 349.6 114.77 348.74 115.34 348.16 115.34 347.88 115.63 347.59 115.63 347.3 115.92 347.01 115.92 346.72 116.21 346.44 116.21 346.15 116.5 345.86 116.5 345.57 116.78 345.28 116.78 345 117.07 344.71 117.07 344.42 117.36 344.13 117.36 343.84 117.65 343.56 117.65 343.27 117.94 342.98 117.94 342.12 118.51 341.54 118.51 341.25 118.8 340.96 118.8 340.68 119.09 340.39 119.09 340.1 119.38 339.81 119.38 339.52 119.66 339.24 119.66 338.95 119.95 338.66 119.95 337.8 120.53 337.22 120.53 336.93 120.82 336.64 120.82 335.78 121.39 335.2 121.39 334.34 121.97 333.76 121.97 333.48 122.26 333.19 122.26 332.9 122.54 332.32 122.54 331.46 123.12 330.88 123.12 330.6 123.41 330.02 123.41 329.73 123.7 329.16 123.7 328.87 123.98 328.29 123.98 328 124.27 327.43 124.27 327.14 124.56 326.56 124.56 326.28 124.85 325.7 124.85 325.41 125.14 324.55 125.14 324.26 125.42 323.4 125.42 323.11 125.71 322.24 125.71 321.96 126 321.09 126 320.8 126.29 319.65 126.29 319.36 126.58 317.92 126.58 317.64 126.86 316.2 126.86 315.91 127.15 313.89 127.15 313.6 127.44 302.37 127.44 302.08 127.15 296.61 127.15 296.32 126.86 292.29 126.86 292 126.58 291.43 126.49 291.08 126.14 291.08 125.86 289.93 124.7 289.84 122.69 290.13 122.4 290.13 121.82 290.71 120.96 290.71 120.38 291 120.1 291 119.81 291.57 119.23 291.57 118.94 292.15 118.37 292.15 118.08 292.72 117.5 292.72 117.22 295.17 114.77 295.46 114.77 296.32 113.9 296.61 113.9 297.19 113.33 297.48 113.33 298.05 112.75 298.34 112.75 298.92 112.18 299.2 112.18 299.49 111.89 299.78 111.89 300.07 111.6 300.36 111.53 303.33 108.29 311.01 100.38 315.91 95.69 319.36 93.11 322.24 91.17 326.28 88.86 331.17 86.54 334.34 85.36 340.1 83.66 343.84 82.76 347.01 82.24 357.96 81.5 z" clip-path="url(#p5f57fae615)" style="fill: #d5d5d5"/></g><g id="patch_33"><path d="M 331.75 23.02 L 332.07 23.04 331.75 23.02 z M 332.32 23.27 L 332.75 23.33 332.61 23.4 332.32 23.27 z M 332.9 23.5 L 333.44 23.62 333.19 23.72 332.84 23.62 332.9 23.5 z M 333.48 23.67 L 351.04 32.09 353.92 33.24 359.4 35.01 364.58 36.42 368.32 37.21 368.32 38.23 364.86 37.44 360.8 36.29 355.62 34.56 351.8 33.12 341.43 28.22 333.4 23.9 333.48 23.67 z M 358.24 39.15 L 359.44 39.17 358.24 39.15 z M 359.68 39.34 L 368.32 40.31 368.32 40.9 362.55 40.03 359.54 39.46 359.68 39.34 z M 289.7 57.29 L 304.96 58.17 306.43 58.46 305.71 58.75 304.17 59.04 299.78 59.62 289.7 60.21 289.55 58.75 289.7 57.29 z M 315.04 63.93 L 316.78 63.94 313.3 64.51 305.25 65.51 303.98 65.38 304.01 65.09 305.25 64.67 315.04 63.93 z M 289.7 70.88 L 298.63 71.84 301.57 72.29 306.01 73.15 307.84 73.73 308.16 74.02 307.61 74.3 306.12 74.5 299.78 74.92 289.7 74.87 289.54 72.86 289.7 70.88 z M 364.29 72.28 L 368.32 72.15 368.56 73.44 368.32 74.73 357.96 75.01 347.59 75.47 344.94 75.46 344.92 75.17 345.95 74.88 356.23 73 359.97 72.5 364.29 72.28 z M 360.26 82.08 L 368.32 81.9 368.56 83.81 368.47 87.55 368.32 88.52 357.67 88.67 342.98 89.36 337.8 89.99 332.61 91.03 329.87 92.16 326.88 93.6 323.65 95.33 321.32 96.77 313.11 102.53 303.81 109.89 301.8 111.23 301.51 111.34 301.35 111.17 303.24 108.86 309.57 102.4 313.03 98.98 316.2 96.11 322.53 91.66 327.72 88.8 330.88 87.34 333.76 86.22 339.52 84.49 344.13 83.38 348.45 82.77 360.26 82.08 z" clip-path="url(#p5f57fae615)" style="fill: #b8b8b8"/></g><g id="patch_34"><path d="M 289.7 57.99 L 296.81 58.46 298.36 58.75 296.81 59.04 289.7 59.51 289.7 57.99 z M 289.7 71.73 L 296.21 72.58 299.02 73.15 299.51 73.44 298.64 73.73 297.19 73.84 289.7 74.02 289.7 71.73 z M 363.72 72.56 L 368.32 72.41 368.52 73.44 368.32 74.47 352.2 75.01 349.03 75.04 348.09 74.88 350.54 74.3 357.67 73.03 359.97 72.75 363.72 72.56 z M 365.73 82.37 L 368.32 82.34 368.52 83.81 368.32 85.85 357.9 86.11 348.76 86.69 346.12 86.98 343.02 87.55 338.56 88.7 333.83 90.14 330.84 91.3 324.94 94.18 321.09 96.48 313.34 101.95 304.68 108.88 303.35 109.73 303.06 109.73 304.43 108 310.15 102.2 313.6 98.84 316.2 96.54 319.65 94.01 323.11 91.74 326.28 89.97 330.31 88.02 333.48 86.76 337.8 85.42 342.12 84.25 345.28 83.6 347.88 83.26 354.21 82.81 365.73 82.37 z" clip-path="url(#p5f57fae615)" style="fill: #9c9c9c"/></g><g id="patch_35"><path d="M 361.7 72.86 L 368.32 72.62 368.49 73.44 368.32 74.26 353.64 74.72 351.35 74.59 353.26 74.02 356.8 73.36 359.68 72.98 361.7 72.86 z M 357.96 82.93 L 368.32 82.67 368.49 83.81 368.32 85.52 357.18 85.82 346.44 86.61 344.24 86.98 340.52 87.84 332.91 90.14 330.1 91.3 327.09 92.74 324.35 94.18 321.48 95.9 314.47 100.8 306.12 107.42 304.96 108.14 304.91 108 305.66 107.14 310.12 102.53 313.6 99.15 316.2 96.86 319.65 94.34 322.82 92.24 325.12 90.9 328.58 89.14 331.75 87.74 334.34 86.8 340.1 85.09 343.56 84.26 347.88 83.58 357.96 82.93 z" clip-path="url(#p5f57fae615)" style="fill: #7f7f7f"/></g><g id="patch_36"><path d="M 365.16 72.86 L 368.32 72.77 368.45 73.44 368.32 74.11 355.65 74.44 353.55 74.3 355.78 73.73 358.82 73.25 365.16 72.86 z M 366.6 82.94 L 368.32 82.93 368.45 83.81 368.32 85.26 357.65 85.54 346.44 86.35 340.61 87.55 334.69 89.28 332.22 90.14 327.13 92.45 321.97 95.33 314.5 100.51 307.84 105.68 307.56 105.81 307.48 105.7 309.83 103.1 313.66 99.36 316.2 97.13 318.79 95.22 322.24 92.87 325.12 91.16 329.16 89.14 332.61 87.66 340.96 85.13 346.44 84.02 355.94 83.3 366.6 82.94 z" clip-path="url(#p5f57fae615)" style="fill: #636363"/></g><g id="patch_37"><path d="M 362.28 73.14 L 368.32 72.93 368.41 73.44 368.32 73.95 359.97 74.19 356.8 74.18 355.79 74.02 358.59 73.44 362.28 73.14 z M 363.72 83.22 L 368.32 83.17 368.41 83.81 368.32 85.02 358.24 85.27 346.72 86.07 343.84 86.56 340.81 87.26 332.61 89.76 328 91.78 322.99 94.46 318.61 97.34 310.72 103.11 310.15 103.46 310.03 103.39 312.13 101.09 315.33 98.11 320.8 94.05 323.4 92.39 325.99 90.95 329.73 89.11 332.9 87.79 340.68 85.44 346.15 84.29 353.92 83.65 363.72 83.22 z" clip-path="url(#p5f57fae615)" style="fill: #474747"/></g><g id="patch_38"><path d="M 365.16 73.15 L 368.32 73.07 368.32 73.81 359.97 74.03 358.53 73.95 358.19 73.73 359.97 73.43 365.16 73.15 z M 361.41 83.52 L 368.32 83.4 368.32 84.79 357.38 85.09 346.72 85.84 341.25 86.92 332.9 89.42 328.87 91.14 323.68 93.82 319.65 96.38 313.32 100.82 312.74 101.16 312.6 101.09 313.93 99.65 316.2 97.61 322.29 93.31 324.84 91.79 328.02 90.14 333.4 87.84 340.1 85.82 345.57 84.61 351.04 84.07 361.41 83.52 z" clip-path="url(#p5f57fae615)" style="fill: #2a2a2a"/></g><g id="patch_39"><path d="M 363.43 73.44 L 368.32 73.29 368.34 73.44 368.32 73.59 364.29 73.56 363.43 73.44 z M 360.26 73.72 L 361.99 73.73 360.26 73.72 z M 360.26 83.81 L 368.32 83.66 368.32 84.53 356.8 84.85 347.59 85.47 344.13 86 341.54 86.58 333.76 88.85 330.02 90.33 324.26 93.22 320.52 95.52 316.2 98.55 315.33 99.07 315.02 99.07 316.17 97.92 318.48 96.19 323.63 92.74 329.14 89.86 334.13 87.84 339.95 86.11 345 84.95 350.1 84.38 360.26 83.81 z" clip-path="url(#p5f57fae615)" style="fill: #0e0e0e"/></g><g id="matplotlib.axis_9"><g id="xtick_6"><g id="line2d_12"><g><use xlink:href="#m3f14504601" x="289.7" y="151.63" style="stroke: #000000; stroke-width: 0.84"/></g></g><g id="text_10"><text style="font-size: 8.4px; font-family: 'DejaVu Sans', sans-serif; text-anchor: middle" x="289.7" y="165.36" transform="rotate(-0 289.7 165.36)">-1.0</text></g></g><g id="xtick_7"><g id="line2d_13"><g><use xlink:href="#m3f14504601" x="329.01" y="151.63" style="stroke: #000000; stroke-width: 0.84"/></g></g><g id="text_11"><text style="font-size: 8.4px; font-family: 'DejaVu Sans', sans-serif; text-anchor: middle" x="329.01" y="165.36" transform="rotate(-0 329.01 165.36)">-0.5</text></g></g><g id="xtick_8"><g id="line2d_14"><g><use xlink:href="#m3f14504601" x="368.35" y="151.63" style="stroke: #000000; stroke-width: 0.84"/></g></g><g id="text_12"><text style="font-size: 8.4px; font-family: 'DejaVu Sans', sans-serif; text-anchor: middle" x="368.35" y="165.36" transform="rotate(-0 368.35 165.36)">0</text></g></g></g><g id="matplotlib.axis_10"><g id="ytick_5"><g id="line2d_15"><g><use xlink:href="#m9aed2ce525" x="289.7" y="25.98" style="stroke: #000000; stroke-width: 0.84"/></g></g><g id="text_13"><text style="font-size: 8.4px; font-family: 'DejaVu Sans', sans-serif; text-anchor: end" x="282.35" y="29.17" transform="rotate(-0 282.35 29.17)">1.4</text></g></g><g id="ytick_6"><g id="line2d_16"><g><use xlink:href="#m9aed2ce525" x="289.7" y="78.91" style="stroke: #000000; stroke-width: 0.84"/></g></g><g id="text_14"><text style="font-size: 8.4px; font-family: 'DejaVu Sans', sans-serif; text-anchor: end" x="282.35" y="82.1" transform="rotate(-0 282.35 82.1)">1.0</text></g></g><g id="ytick_7"><g id="line2d_17"><g><use xlink:href="#m9aed2ce525" x="289.7" y="131.85" style="stroke: #000000; stroke-width: 0.84"/></g></g><g id="text_15"><text style="font-size: 8.4px; font-family: 'DejaVu Sans', sans-serif; text-anchor: end" x="282.35" y="135.04" transform="rotate(-0 282.35 135.04)">0.6</text></g></g></g><g id="patch_40"><path d="M 289.7 151.63 L 289.7 19.58" style="fill: none; stroke: #000000; stroke-width: 0.84; stroke-linejoin: miter; stroke-linecap: square"/></g><g id="patch_41"><path d="M 368.35 151.63 L 368.35 19.58" style="fill: none; stroke: #000000; stroke-width: 0.84; stroke-linejoin: miter; stroke-linecap: square"/></g><g id="patch_42"><path d="M 289.7 151.63 L 368.35 151.63" style="fill: none; stroke: #000000; stroke-width: 0.84; stroke-linejoin: miter; stroke-linecap: square"/></g><g id="patch_43"><path d="M 289.7 19.58 L 368.35 19.58" style="fill: none; stroke: #000000; stroke-width: 0.84; stroke-linejoin: miter; stroke-linecap: square"/></g><g id="line2d_18"><path d="M 289.7 124.57 L 291.3 122.8 292.91 121.03 294.51 119.26 296.12 117.49 297.72 115.72 299.33 113.95 300.94 112.19 302.54 110.42 304.15 108.65 305.75 106.88 307.36 105.11 308.96 103.34 310.57 101.57 312.17 99.8 313.78 98.03 315.38 96.26 316.99 94.5 318.59 92.73 320.2 90.96 321.8 89.19 323.41 87.42 325.01 85.65 326.62 83.88 328.22 82.11 329.83 80.34 331.43 78.57 333.04 76.81 334.64 75.04 336.25 73.27 337.85 71.5 339.46 69.73 341.06 67.96 342.67 66.19 344.27 64.42 345.88 62.65 347.48 60.88 349.09 59.12 350.7 57.35 352.3 55.58 353.91 53.81 355.51 52.04 357.12 50.27 358.72 48.5 360.33 46.73 361.93 44.96 363.54 43.19 365.14 41.43 366.75 39.66 368.35 37.89" clip-path="url(#p5f57fae615)" style="fill: none; stroke: #808080; stroke-width: 0.53; stroke-linecap: square"/></g><g id="line2d_19"><path d="M 289.7 124.57 L 291.3 126.34 292.91 128.11 294.51 129.87 296.12 131.64 297.72 133.41 299.33 135.18 300.94 136.95 302.54 138.72 304.15 140.49 305.75 142.26 307.36 144.03 308.96 145.8 310.57 147.56 312.17 149.33 313.78 151.1 315.38 152.87 316.99 154.64 318.59 156.41 320.2 158.18 321.8 159.95 323.41 161.72 325.01 163.49 326.62 165.25 328.22 167.02 329.83 168.79 331.43 170.56 333.04 172.33 334.64 174.1 336.25 175.87 337.85 177.64 339.46 179.41 341.06 181.18 342.67 182.94 344.27 184.71 345.88 186.48 347.48 188.25 349.09 190.02 350.7 191.79 352.3 193.56 353.91 195.33 355.51 197.1 357.12 198.87 358.72 200.63 360.33 202.4 361.93 204.17 363.54 205.94 365.14 207.71 366.75 209.48 368.35 211.25" clip-path="url(#p5f57fae615)" style="fill: none; stroke: #808080; stroke-width: 0.53; stroke-linecap: square"/></g><g id="line2d_20"><path d="M 333.07 -1 L 334.64 0.74 336.25 2.51 337.85 4.28 339.46 6.05 341.06 7.82 342.67 9.58 344.27 11.35 345.88 13.12 347.48 14.89 349.09 16.66 350.7 18.43 352.3 20.2 353.91 21.97 355.51 23.74 357.12 25.5 358.72 27.27 360.33 29.04 361.93 30.81 363.54 32.58 365.14 34.35 366.75 36.12 368.35 37.89" clip-path="url(#p5f57fae615)" style="fill: none; stroke: #808080; stroke-width: 0.53; stroke-linecap: square"/></g><g id="line2d_21"><path d="M 321.98 19.01 L 368.21 54" clip-path="url(#p5f57fae615)" style="fill: none; stroke: #ff7f0e; stroke-width: 1.05; stroke-linecap: square"/></g><g id="line2d_22"><path d="M 368.21 54 L 316.22 95.9" clip-path="url(#p5f57fae615)" style="fill: none; stroke: #ff7f0e; stroke-width: 1.05; stroke-linecap: square"/></g><g id="line2d_23"><path d="M 289.73 32.11 L 290.62 31.8 291.5 31.49 292.39 31.18 293.28 30.87 294.17 30.56 295.06 30.25 295.95 29.93 296.83 29.62 297.72 29.31 298.61 28.99 299.5 28.68 300.38 28.37 301.27 28.05 302.16 27.74 303.04 27.42 303.93 27.1 304.81 26.78 305.7 26.46 306.58 26.14 307.47 25.81 308.35 25.48 309.23 25.15 310.11 24.82 310.99 24.48 311.87 24.14 312.74 23.8 313.62 23.45 314.49 23.1 315.36 22.74 316.23 22.38 317.1 22.01 317.96 21.64 318.83 21.27 319.69 20.9 320.55 20.52 321.42 20.15 322.28 19.77 323.14 19.39 324 19.01" clip-path="url(#p5f57fae615)" style="fill: none; stroke-dasharray: 3.88,1.68; stroke-dashoffset: 0; stroke: #ff7f0e; stroke-width: 1.05"/></g><g id="line2d_24"><path d="M 289.73 32.4 L 291.65 33.02 293.57 33.64 295.5 34.24 297.43 34.84 299.36 35.42 301.3 35.98 303.25 36.52 305.2 37.03 307.16 37.52 309.13 37.98 311.1 38.42 313.08 38.83 315.06 39.22 317.05 39.58 319.04 39.93 321.03 40.25 323.03 40.55 325.03 40.83 327.03 41.1 329.03 41.36 331.04 41.61 333.04 41.85 335.05 42.1 337.05 42.35 339.06 42.6 341.06 42.85 343.07 43.1 345.07 43.33 347.08 43.54 349.09 43.73 351.1 43.89 353.12 44.01 355.14 44.09 357.16 44.14 359.18 44.2 361.2 44.3 363.21 44.47 365.21 44.74 367.2 45.07" clip-path="url(#p5f57fae615)" style="fill: none; stroke-dasharray: 3.88,1.68; stroke-dashoffset: 0; stroke: #ff7f0e; stroke-width: 1.05"/></g><g id="line2d_25"><path d="M 367.92 44.93 L 367.92 78.05" clip-path="url(#p5f57fae615)" style="fill: none; stroke-dasharray: 3.88,1.68; stroke-dashoffset: 0; stroke: #ff7f0e; stroke-width: 1.05"/></g><g id="line2d_26"><path d="M 308.74 19.01 L 310.25 19.64 311.76 20.27 313.27 20.9 314.78 21.53 316.29 22.16 317.81 22.79 319.32 23.41 320.83 24.04 322.35 24.66 323.86 25.28 325.38 25.9 326.9 26.51 328.42 27.12 329.94 27.73 331.46 28.34 332.98 28.95 334.5 29.55 336.02 30.16 337.54 30.76 339.07 31.36 340.59 31.97 342.11 32.57 343.63 33.18 345.15 33.79 346.67 34.4 348.19 35.02 349.7 35.63 351.22 36.25 352.73 36.87 354.25 37.49 355.77 38.1 357.29 38.7 358.82 39.3 360.35 39.88 361.89 40.44 363.43 41 364.97 41.54 366.52 42.09 368.06 42.62" clip-path="url(#p5f57fae615)" style="fill: none; stroke-dasharray: 3.88,1.68; stroke-dashoffset: 0; stroke: #1f77b4; stroke-width: 1.05"/></g><g id="line2d_27"><path d="M 289.73 68.54 L 291.72 67.83 293.72 67.13 295.71 66.42 297.71 65.72 299.71 65.03 301.71 64.34 303.72 63.66 305.73 63 307.74 62.34 309.76 61.7 311.78 61.07 313.8 60.45 315.83 59.84 317.86 59.24 319.89 58.64 321.92 58.05 323.95 57.46 325.99 56.86 328.02 56.27 330.05 55.68 332.08 55.08 334.11 54.47 336.13 53.87 338.16 53.25 340.18 52.63 342.21 52 344.23 51.36 346.24 50.71 348.25 50.04 350.25 49.34 352.23 48.6 354.2 47.82 356.15 47.01 358.1 46.17 360.05 45.36 362.03 44.6 364.03 43.91 366.04 43.25 368.06 42.62" clip-path="url(#p5f57fae615)" style="fill: none; stroke-dasharray: 3.88,1.68; stroke-dashoffset: 0; stroke: #1f77b4; stroke-width: 1.05"/></g><g id="line2d_28"><path d="M 289.73 68.54 L 291.67 69.1 293.62 69.65 295.56 70.19 297.51 70.72 299.46 71.25 301.42 71.75 303.38 72.24 305.35 72.71 307.32 73.16 309.3 73.58 311.28 73.99 313.26 74.37 315.25 74.73 317.25 75.07 319.24 75.39 321.24 75.68 323.25 75.96 325.25 76.21 327.26 76.45 329.27 76.67 331.28 76.89 333.29 77.1 335.3 77.3 337.31 77.51 339.32 77.71 341.33 77.9 343.34 78.09 345.35 78.25 347.36 78.4 349.38 78.51 351.41 78.59 353.43 78.62 355.47 78.61 357.5 78.59 359.53 78.59 361.55 78.67 363.56 78.88 365.53 79.26 367.49 79.78" clip-path="url(#p5f57fae615)" style="fill: none; stroke-dasharray: 3.88,1.68; stroke-dashoffset: 0; stroke: #1f77b4; stroke-width: 1.05"/></g><g id="line2d_29"><path d="M 367.92 80.06 L 367.92 118.08" clip-path="url(#p5f57fae615)" style="fill: none; stroke-dasharray: 3.88,1.68; stroke-dashoffset: 0; stroke: #1f77b4; stroke-width: 1.05"/></g></g><g id="axes_6"><g id="patch_44"><path d="M 380.16 151.63 L 458.9 151.63 458.9 19.58 380.16 19.58 380.16 151.63 z" style="fill: none"/></g><g id="patch_45"><path d="M 380.16 19.3 L 459.07 19.3 459.07 117.31 458.88 117.5 458.88 117.79 457.44 119.23 457.44 119.52 455.71 121.25 455.71 121.54 454.27 122.98 454.27 123.26 452.83 124.7 452.83 124.99 451.39 126.43 451.39 126.72 449.66 128.45 449.66 128.74 448.22 130.18 448.22 130.46 446.78 131.9 446.78 132.19 445.06 133.92 445.06 134.21 443.62 135.65 443.62 135.94 442.18 137.38 442.18 137.66 440.45 139.39 440.45 139.68 439.01 141.12 439.01 141.41 437.57 142.85 437.57 143.14 435.84 144.86 435.84 145.15 434.4 146.59 434.4 146.88 432.96 148.32 432.96 148.61 431.23 150.34 431.23 150.62 430.08 151.78 379.87 151.78 379.87 19.3 380.16 19.3 z" clip-path="url(#p3cb20e0768)" style="fill: #f1f1f1"/></g><g id="patch_46"><path d="M 455.9 25.05 L 458.78 24.84 458.95 25.92 459 27.94 458.95 29.95 458.78 31.03 432 31.88 418.18 32.08 416.45 31.97 416.99 31.68 420.1 30.82 432 28.03 443.81 26.37 455.9 25.05 z M 380.16 36.9 L 387.36 37.49 389.5 37.73 390.53 38.02 389.5 38.3 387.36 38.54 380.16 39.13 379.96 38.02 380.16 36.9 z M 380.16 40.5 L 392.54 40.51 408.96 41.11 429.27 42.34 431.42 42.62 428.35 42.91 408.96 43.56 380.16 43.6 379.94 42.05 380.16 40.5 z M 433.73 65.05 L 438.05 65.02 449.28 65.47 458.78 66.28 458.98 67.39 458.94 69.12 458.78 69.66 449.28 68.16 435.61 65.66 434.24 65.38 433.44 65.09 433.73 65.05 z M 395.42 67.67 L 396.29 67.68 395.46 68.26 389.09 71.03 382.46 73.05 380.16 73.64 380.04 73.44 379.92 71.42 380.16 70.36 395.42 67.67 z M 424.22 72.57 L 458.78 72.33 458.97 74.3 458.91 77.76 458.78 78.58 458.21 78.62 458.68 79.2 458.66 79.49 459.07 79.92 459.07 95.18 458.64 95.62 458.64 95.9 456.48 98.06 456.19 98.06 455.62 98.64 455.33 98.64 455.04 98.93 454.75 98.93 454.46 99.22 454.18 99.22 453.31 99.79 452.74 99.79 452.45 100.08 451.87 100.08 451.58 100.37 450.43 100.37 450.14 100.66 448.13 100.66 447.84 100.94 445.54 100.94 445.25 100.66 442.94 100.66 442.66 100.37 441.5 100.37 441.22 100.08 440.06 100.08 439.78 99.79 438.91 99.79 438.62 99.5 438.05 99.5 437.76 99.22 436.9 99.22 436.61 98.93 436.03 98.93 435.74 98.64 434.88 98.64 434.59 98.35 434.02 98.35 433.73 98.06 433.15 98.06 432.86 97.78 432 97.78 431.71 97.49 431.14 97.49 430.85 97.2 430.27 97.2 429.98 96.91 429.12 96.91 428.83 96.62 428.26 96.62 427.97 96.34 427.1 96.34 426.82 96.05 426.24 96.05 425.95 95.76 425.38 95.76 425.09 95.47 424.51 95.47 424.22 95.18 423.65 95.18 423.36 94.9 422.5 94.9 422.21 94.61 421.63 94.61 421.34 94.32 420.77 94.32 420.48 94.03 419.9 94.03 419.62 93.74 419.04 93.74 418.75 93.46 418.18 93.46 417.31 92.88 416.74 92.88 416.45 92.59 415.87 92.59 415.58 92.3 415.01 92.3 414.72 92.02 414.14 92.02 413.86 91.73 413.57 91.73 413.28 91.44 412.7 91.44 411.84 90.86 411.26 90.86 410.98 90.58 410.4 90.58 410.11 90.29 409.82 90.29 409.54 90 408.96 90 408.1 89.42 407.52 89.42 407.23 89.14 406.66 89.14 406.37 88.85 405.79 88.85 405.5 88.56 404.93 88.56 404.64 88.27 404.06 88.27 403.78 87.98 402.91 87.98 402.62 87.7 401.76 87.7 401.47 87.41 400.61 87.41 400.32 87.12 399.46 87.12 399.17 86.83 398.02 86.83 397.73 86.54 396.86 86.54 396.58 86.26 396 86.26 395.71 85.97 395.14 85.97 394.99 85.82 394.99 85.25 395.42 84.82 396 84.82 396.29 84.53 396.86 84.53 397.15 84.24 398.02 84.24 398.3 83.95 399.46 83.95 399.74 83.66 401.47 83.66 401.76 83.38 403.49 83.38 403.78 83.09 405.79 83.09 406.08 82.8 408.38 82.8 408.67 82.51 411.84 82.51 412.13 82.22 416.16 82.22 416.45 81.93 422.5 81.93 422.78 81.63 426.53 81.64 426.82 81.33 428.83 81.34 429.12 81.03 430.56 81.03 430.85 80.71 431.71 80.72 432 80.39 433.15 80.4 433.15 80.11 403.2 81.02 380.16 79.73 380.11 79.49 379.98 76.9 380.16 74.63 403.2 72.77 424.22 72.57 z M 434.07 80.06 L 434.31 80.06 434.07 80.06 z M 380.16 80.22 L 383.62 81.42 388.22 83.41 390.82 84.79 394.27 87 394.85 87.12 395.71 87.7 396.29 87.7 397.15 88.27 397.73 88.27 398.02 88.56 398.3 88.56 398.59 88.85 398.88 88.85 399.17 89.14 399.46 89.14 399.74 89.42 400.03 89.42 400.32 89.71 400.61 89.71 400.9 90 401.18 90 401.76 90.58 402.05 90.58 402.34 90.86 402.62 90.86 403.2 91.44 403.49 91.44 403.78 91.73 404.06 91.73 404.64 92.3 404.93 92.3 405.5 92.88 405.79 92.88 406.37 93.46 406.66 93.46 407.23 94.03 407.52 94.03 408.1 94.61 408.38 94.61 408.67 94.9 408.96 94.9 409.54 95.47 409.82 95.47 410.4 96.05 410.69 96.05 411.26 96.62 411.55 96.62 412.13 97.2 412.42 97.2 412.99 97.78 413.28 97.78 413.86 98.35 414.14 98.35 414.72 98.93 415.01 98.93 415.58 99.5 415.87 99.5 416.45 100.08 416.74 100.08 417.02 100.37 417.31 100.37 417.89 100.94 418.18 100.94 418.75 101.52 419.04 101.52 419.62 102.1 419.9 102.1 420.48 102.67 420.77 102.67 421.34 103.25 421.63 103.25 422.21 103.82 422.5 103.82 423.36 104.69 423.65 104.69 424.22 105.26 424.51 105.26 425.09 105.84 425.38 105.84 426.24 106.7 426.53 106.7 427.1 107.28 427.39 107.28 428.26 108.14 428.54 108.14 429.41 109.01 429.7 109.01 430.56 109.87 430.85 109.87 432 111.02 432.29 111.02 433.44 112.18 433.73 112.18 434.88 113.33 435.17 113.33 436.32 114.48 436.61 114.48 437.76 115.63 438.05 115.63 438.91 116.5 439.2 116.5 440.35 117.65 440.64 117.65 441.79 118.8 442.08 118.8 443.52 120.24 443.81 120.24 444.96 121.39 445.25 121.39 446.98 123.12 447.26 123.12 449.71 125.57 449.71 126.14 449.57 126.29 448.99 126.29 448.7 126 448.13 126 447.84 125.71 447.26 125.71 446.98 125.42 446.4 125.42 446.11 125.14 445.82 125.14 445.54 124.85 444.96 124.85 444.67 124.56 444.38 124.56 443.52 123.98 442.94 123.98 442.66 123.7 442.37 123.7 442.08 123.41 441.79 123.41 440.93 122.83 440.35 122.83 440.06 122.54 439.78 122.54 438.91 121.97 438.34 121.97 438.05 121.68 437.76 121.68 436.9 121.1 436.32 121.1 435.46 120.53 434.88 120.53 434.59 120.24 434.3 120.24 434.02 119.95 433.44 119.95 432.58 119.38 432 119.38 431.71 119.09 431.14 119.09 430.85 118.8 430.27 118.8 429.98 118.51 429.41 118.51 429.12 118.22 428.54 118.22 428.26 117.94 427.68 117.94 427.39 117.65 426.53 117.65 426.24 117.36 425.66 117.36 425.38 117.07 424.51 117.07 424.22 116.78 423.65 116.78 423.36 116.5 422.5 116.5 422.21 116.21 421.34 116.21 421.06 115.92 420.19 115.92 419.9 115.63 419.33 115.63 419.04 115.34 418.18 115.34 417.89 115.06 417.02 115.06 416.74 114.77 415.58 114.77 415.3 114.48 414.43 114.48 414.14 114.19 412.99 114.19 412.7 113.9 411.26 113.9 410.98 113.62 409.25 113.62 408.96 113.33 406.08 113.33 405.79 113.04 400.61 113.04 400.32 113.33 397.44 113.33 397.15 113.62 395.14 113.62 394.85 113.9 392.54 113.9 392.26 114.19 385.34 114.19 385.06 113.9 384.19 113.9 383.9 113.62 383.33 113.62 383.04 113.33 382.46 113.33 381.89 112.75 381.6 112.75 380.74 111.89 380.45 111.89 380.02 111.46 380.02 111.17 379.87 111.02 379.87 88.27 380.74 87.41 381.02 87.41 381.31 87.12 381.6 87.12 382.46 86.54 383.04 86.54 383.33 86.24 384.19 86.23 384.31 86.11 384.16 85.82 380.16 85.65 379.97 84.96 379.89 82.94 379.97 80.93 380.16 80.22 z" clip-path="url(#p3cb20e0768)" style="fill: #d5d5d5"/></g><g id="patch_47"><path d="M 454.46 26.48 L 458.78 26.39 458.78 29.48 449.28 30.22 438.91 30.44 432.29 30.42 430.76 30.24 430.71 29.95 431.39 29.66 433.68 29.09 440.46 27.94 449.28 26.81 454.46 26.48 z M 380.16 37.66 L 381.89 38.02 380.16 38.37 380.16 37.66 z M 380.16 41.28 L 395.42 41.39 407.06 42.05 408.96 42.34 403.78 42.65 380.16 42.82 380.16 41.28 z M 446.69 66.52 L 449.28 66.39 458.78 67.24 458.78 68.7 449.28 67.24 447.35 66.82 446.69 66.52 z M 392.26 68.83 L 392.31 69.12 391.77 69.41 387.94 70.94 380.74 73.02 380.16 73.15 380.06 72.86 379.98 71.71 380.16 70.85 388.8 69.32 392.26 68.83 z M 442.37 74.59 L 458.78 74.42 458.78 76.49 452.31 76.9 436.86 77.76 423.31 78.34 422.21 78.53 417.89 78.75 402.34 79.26 385.92 79.54 382.18 78.96 381.03 78.62 380.74 78.34 381.02 77.98 381.89 77.56 382.75 77.25 383.41 77.18 383.62 76.99 384.52 76.9 384.77 76.7 385.72 76.61 385.92 76.45 388.78 76.32 393.47 75.74 403.2 74.84 442.37 74.59 z M 380.16 80.91 L 382.75 81.68 385.63 82.77 389.09 84.29 391.68 85.74 397.73 89.68 405.22 94.14 413.28 99.36 421.32 104.83 430.4 111.46 430.27 111.61 429.98 111.47 420.48 104.71 410.98 98.42 404.06 94.06 397.73 90.35 391.38 87.26 388.39 86.11 383.98 85.25 380.16 84.98 379.93 82.94 380.16 80.91 z M 430.56 111.61 L 430.8 111.74 430.56 111.84 430.4 111.74 430.56 111.61 z M 430.85 111.81 L 431.19 112.03 431.14 112.26 430.78 112.03 430.85 111.81 z M 431.42 112.24 L 431.55 112.32 431.42 112.44 431.18 112.32 431.42 112.24 z M 431.71 112.48 L 431.96 112.61 431.71 112.68 431.6 112.61 431.71 112.48 z M 432 112.68 L 432.34 112.9 432.29 113.05 431.96 112.9 432 112.68 z M 432.58 113.11 L 432.7 113.18 432.58 113.28 432.4 113.18 432.58 113.11 z M 432.86 113.36 L 433.12 113.47 432.86 113.52 432.86 113.36 z M 433.15 113.61 L 433.49 113.76 433.44 113.87 433.14 113.76 433.15 113.61 z M 433.73 113.98 L 433.85 114.05 433.73 114.12 433.6 114.05 433.73 113.98 z M 434.02 114.24 L 434.26 114.34 434.02 114.37 434.02 114.24 z M 434.59 114.59 L 434.59 114.7 434.39 114.62 434.59 114.59 z M 434.88 114.85 L 434.99 114.91 434.88 114.96 434.79 114.91 434.88 114.85 z M 435.17 115.14 L 435.37 115.2 435.17 115.14 z M 435.74 115.46 L 435.62 115.49 435.74 115.46 z M 436.03 115.73 L 436.12 115.78 436.03 115.73 z" clip-path="url(#p3cb20e0768)" style="fill: #b8b8b8"/></g><g id="patch_48"><path d="M 448.7 27.9 L 451.87 27.88 452.49 27.94 453.35 28.22 452.98 28.51 451.9 28.8 449.28 29.21 445.94 29.09 444.96 28.8 445.56 28.51 448.7 27.9 z M 387.94 69.96 L 388.8 69.98 386.93 70.85 380.16 72.82 380.03 72 380.16 71.18 387.94 69.96 z M 414.14 75.74 L 420.48 75.54 425.95 75.62 429.98 75.87 433.32 76.32 433.92 76.61 433.32 76.9 432 77.12 420.48 78.26 403.2 78.88 385.92 79.23 382.75 78.78 382.07 78.62 381.54 78.34 381.74 78.05 382.46 77.74 385.92 76.86 403.2 76.07 414.14 75.74 z M 380.16 81.33 L 383.9 82.47 388.8 84.49 392.2 86.4 395.14 88.46 394.57 88.42 390.53 86.56 387.55 85.54 383.62 84.83 380.16 84.56 379.97 82.94 380.16 81.33 z" clip-path="url(#p3cb20e0768)" style="fill: #9c9c9c"/></g><g id="patch_49"><path d="M 383.04 71.11 L 384.42 71.14 382.99 71.71 380.16 72.51 380.16 71.49 383.04 71.11 z M 412.99 76.03 L 420.48 75.8 423.94 75.84 427.97 75.99 430.77 76.32 431.52 76.61 430.77 76.9 420.48 77.99 403.2 78.61 385.92 79.01 383.33 78.65 382.38 78.34 382.49 78.05 383.18 77.76 385.92 77.08 412.99 76.03 z M 380.16 81.65 L 383.04 82.47 385.87 83.52 389.11 84.96 391.04 86.11 390.82 86.24 390.53 86.18 387.94 85.33 385.34 84.81 382.45 84.38 380.16 84.24 380.01 82.94 380.16 81.65 z" clip-path="url(#p3cb20e0768)" style="fill: #7f7f7f"/></g><g id="patch_50"><path d="M 420.19 76.02 L 426.53 76.18 428.15 76.32 429.12 76.61 428.23 76.9 426.12 77.18 420.48 77.78 403.2 78.41 385.92 78.82 383.62 78.45 383.25 78.34 383.23 78.05 385.92 77.27 403.2 76.54 420.19 76.02 z M 380.16 81.92 L 384.43 83.23 386.47 84.1 387.36 84.67 386.5 84.69 382.75 84.15 380.16 83.97 380.04 82.94 380.16 81.92 z" clip-path="url(#p3cb20e0768)" style="fill: #636363"/></g><g id="patch_51"><path d="M 417.02 76.31 L 420.48 76.21 423.36 76.28 426.63 76.61 425.99 76.9 420.48 77.59 403.2 78.22 385.92 78.65 384.17 78.34 383.98 78.05 385.92 77.44 417.02 76.31 z M 380.16 82.18 L 382.84 82.94 384.83 83.81 384.19 83.98 380.16 83.71 380.16 82.18 z" clip-path="url(#p3cb20e0768)" style="fill: #474747"/></g><g id="patch_52"><path d="M 413.57 76.6 L 420.48 76.41 423.85 76.61 423.89 76.9 420.48 77.39 403.2 78.03 385.92 78.48 385.14 78.34 384.74 78.05 385.92 77.62 388.86 77.47 413.57 76.6 z M 380.16 82.45 L 382.45 83.23 381.89 83.44 380.16 83.44 380.16 82.45 z" clip-path="url(#p3cb20e0768)" style="fill: #2a2a2a"/></g><g id="patch_53"><path d="M 410.69 76.9 L 420.48 76.64 421.68 76.9 420.06 77.18 403.2 77.83 385.92 78.25 385.52 78.05 385.92 77.85 386.93 77.76 410.69 76.9 z" clip-path="url(#p3cb20e0768)" style="fill: #0e0e0e"/></g><g id="matplotlib.axis_11"><g id="xtick_9"><g id="line2d_30"><g><use xlink:href="#m3f14504601" x="380.16" y="151.63" style="stroke: #000000; stroke-width: 0.84"/></g></g><g id="text_16"><text style="font-size: 8.4px; font-family: 'DejaVu Sans', sans-serif; text-anchor: middle" x="380.16" y="165.36" transform="rotate(-0 380.16 165.36)">0</text></g></g><g id="xtick_10"><g id="line2d_31"><g><use xlink:href="#m3f14504601" x="419.53" y="151.63" style="stroke: #000000; stroke-width: 0.84"/></g></g><g id="text_17"><text style="font-size: 8.4px; font-family: 'DejaVu Sans', sans-serif; text-anchor: middle" x="419.53" y="165.36" transform="rotate(-0 419.53 165.36)">0.5</text></g></g><g id="xtick_11"><g id="line2d_32"><g><use xlink:href="#m3f14504601" x="458.9" y="151.63" style="stroke: #000000; stroke-width: 0.84"/></g></g><g id="text_18"><text style="font-size: 8.4px; font-family: 'DejaVu Sans', sans-serif; text-anchor: middle" x="458.9" y="165.36" transform="rotate(-0 458.9 165.36)">1.0</text></g></g></g><g id="matplotlib.axis_12"/><g id="patch_54"><path d="M 380.16 151.63 L 380.16 19.58" style="fill: none; stroke: #000000; stroke-width: 0.84; stroke-linejoin: miter; stroke-linecap: square"/></g><g id="patch_55"><path d="M 458.9 151.63 L 458.9 19.58" style="fill: none; stroke: #000000; stroke-width: 0.84; stroke-linejoin: miter; stroke-linecap: square"/></g><g id="patch_56"><path d="M 380.16 151.63 L 458.9 151.63" style="fill: none; stroke: #000000; stroke-width: 0.84; stroke-linejoin: miter; stroke-linecap: square"/></g><g id="patch_57"><path d="M 380.16 19.58 L 458.9 19.58" style="fill: none; stroke: #000000; stroke-width: 0.84; stroke-linejoin: miter; stroke-linecap: square"/></g><g id="line2d_33"><path d="M 380.16 24.12 L 381.77 22.22 383.37 20.31 384.98 18.4 386.59 16.49 388.19 14.58 389.8 12.67 391.41 10.76 393.02 8.85 394.62 6.94 396.23 5.03 397.84 3.12 399.44 1.21 401.05 -0.7 401.3 -1" clip-path="url(#p3cb20e0768)" style="fill: none; stroke: #808080; stroke-width: 0.53; stroke-linecap: square"/></g><g id="line2d_34"><path d="M 380.16 211.25 L 381.77 209.34 383.37 207.43 384.98 205.52 386.59 203.61 388.19 201.7 389.8 199.79 391.41 197.88 393.02 195.97 394.62 194.06 396.23 192.15 397.84 190.24 399.44 188.33 401.05 186.43 402.66 184.52 404.26 182.61 405.87 180.7 407.48 178.79 409.08 176.88 410.69 174.97 412.3 173.06 413.91 171.15 415.51 169.24 417.12 167.33 418.73 165.42 420.33 163.51 421.94 161.6 423.55 159.69 425.15 157.78 426.76 155.87 428.37 153.97 429.97 152.06 431.58 150.15 433.19 148.24 434.8 146.33 436.4 144.42 438.01 142.51 439.62 140.6 441.22 138.69 442.83 136.78 444.44 134.87 446.04 132.96 447.65 131.05 449.26 129.14 450.86 127.23 452.47 125.32 454.08 123.41 455.69 121.51 457.29 119.6 458.9 117.69" clip-path="url(#p3cb20e0768)" style="fill: none; stroke: #808080; stroke-width: 0.53; stroke-linecap: square"/></g><g id="line2d_35"><path d="M 380.16 24.12 L 381.77 26.03 383.37 27.94 384.98 29.85 386.59 31.76 388.19 33.67 389.8 35.58 391.41 37.49 393.02 39.4 394.62 41.31 396.23 43.22 397.84 45.13 399.44 47.04 401.05 48.95 402.66 50.86 404.26 52.77 405.87 54.68 407.48 56.59 409.08 58.49 410.69 60.4 412.3 62.31 413.91 64.22 415.51 66.13 417.12 68.04 418.73 69.95 420.33 71.86 421.94 73.77 423.55 75.68 425.15 77.59 426.76 79.5 428.37 81.41 429.97 83.32 431.58 85.23 433.19 87.14 434.8 89.05 436.4 90.95 438.01 92.86 439.62 94.77 441.22 96.68 442.83 98.59 444.44 100.5 446.04 102.41 447.65 104.32 449.26 106.23 450.86 108.14 452.47 110.05 454.08 111.96 455.69 113.87 457.29 115.78 458.9 117.69" clip-path="url(#p3cb20e0768)" style="fill: none; stroke: #808080; stroke-width: 0.53; stroke-linecap: square"/></g><g id="line2d_36"><path d="M 380.45 78.77 L 458.64 29.95" clip-path="url(#p3cb20e0768)" style="fill: none; stroke: #1f77b4; stroke-width: 1.05; stroke-linecap: square"/></g><g id="line2d_37"><path d="M 458.64 29.95 L 440.64 19.01" clip-path="url(#p3cb20e0768)" style="fill: none; stroke: #1f77b4; stroke-width: 1.05; stroke-linecap: square"/></g><g id="line2d_38"><path d="M 380.45 78.77 L 439.2 118.22" clip-path="url(#p3cb20e0768)" style="fill: none; stroke: #1f77b4; stroke-width: 1.05; stroke-linecap: square"/></g><g id="line2d_39"><path d="M 380.45 42.62 L 381.79 42.03 383.13 41.43 384.47 40.84 385.81 40.24 387.15 39.64 388.49 39.04 389.83 38.44 391.17 37.84 392.5 37.23 393.84 36.62 395.17 36.01 396.5 35.39 397.83 34.77 399.16 34.15 400.49 33.53 401.82 32.9 403.15 32.28 404.48 31.66 405.8 31.03 407.13 30.41 408.46 29.79 409.79 29.17 411.13 28.55 412.46 27.94 413.79 27.33 415.13 26.72 416.47 26.12 417.8 25.52 419.14 24.92 420.48 24.32 421.83 23.72 423.17 23.13 424.51 22.54 425.85 21.95 427.2 21.36 428.54 20.77 429.89 20.18 431.23 19.6 432.58 19.01" clip-path="url(#p3cb20e0768)" style="fill: none; stroke-dasharray: 3.88,1.68; stroke-dashoffset: 0; stroke: #1f77b4; stroke-width: 1.05"/></g><g id="line2d_40"><path d="M 380.45 42.62 L 382.39 43.57 384.32 44.51 386.26 45.45 388.2 46.39 390.14 47.33 392.08 48.26 394.03 49.19 395.98 50.11 397.93 51.02 399.89 51.93 401.84 52.82 403.81 53.71 405.78 54.59 407.75 55.45 409.73 56.31 411.71 57.15 413.7 57.98 415.7 58.8 417.69 59.6 419.7 60.4 421.71 61.18 423.72 61.95 425.74 62.7 427.76 63.45 429.79 64.17 431.82 64.89 433.86 65.6 435.9 66.29 437.94 66.97 439.99 67.64 442.04 68.31 444.09 68.97 446.14 69.62 448.2 70.26 450.26 70.9 452.31 71.54 454.37 72.18 456.44 72.81 458.5 73.44" clip-path="url(#p3cb20e0768)" style="fill: none; stroke-dasharray: 3.88,1.68; stroke-dashoffset: 0; stroke: #1f77b4; stroke-width: 1.05"/></g><g id="line2d_41"><path d="M 458.5 73.44 L 456.56 74.02 454.62 74.59 452.68 75.16 450.74 75.72 448.8 76.27 446.85 76.8 444.9 77.31 442.94 77.8 440.98 78.26 439.01 78.69 437.03 79.1 435.05 79.49 433.06 79.85 431.08 80.21 429.08 80.55 427.09 80.88 425.1 81.21 423.11 81.55 421.11 81.88 419.12 82.23 417.13 82.57 415.15 82.93 413.16 83.29 411.18 83.67 409.2 84.05 407.22 84.44 405.24 84.83 403.26 85.19 401.27 85.52 399.27 85.79 397.25 85.99 395.22 86.1 393.17 86.1 391.1 86.05 389.05 86.03 387.03 86.13 385.06 86.42 383.16 87 381.31 87.84" clip-path="url(#p3cb20e0768)" style="fill: none; stroke-dasharray: 3.88,1.68; stroke-dashoffset: 0; stroke: #1f77b4; stroke-width: 1.05"/></g><g id="line2d_42"><path d="M 380.74 88.13 L 380.74 118.08" clip-path="url(#p3cb20e0768)" style="fill: none; stroke-dasharray: 3.88,1.68; stroke-dashoffset: 0; stroke: #1f77b4; stroke-width: 1.05"/></g></g><g id="axes_7"><g id="patch_58"><path d="M 38.3 340.33 L 118.02 340.33 118.02 208.34 38.3 208.34 38.3 340.33 z" style="fill: none"/></g><g id="patch_59"><path d="M 38.3 208.05 L 118.08 208.05 118.08 340.53 48.58 340.53 47.81 339.76 47.52 339.76 45.5 337.75 45.22 337.75 43.49 336.02 43.2 336.02 41.47 334.29 41.18 334.29 39.46 332.56 39.17 332.56 38.02 331.41 38.02 208.05 38.3 208.05 z" clip-path="url(#pf8c3f317d9)" style="fill: #f3f3f3"/></g><g id="patch_60"><path d="M 72.29 208.9 L 73.03 208.92 72.29 208.9 z M 73.44 209.08 L 77.13 209.78 82.37 211.22 91.01 214.35 100.8 218.33 117.79 223.45 117.99 224.18 117.81 225.33 117.94 225.62 117.85 226.2 109.44 228.53 102.55 229.94 101.38 230.03 101.21 229.94 117.75 225.33 103.68 220.53 99.07 218.74 89.28 214.55 82.94 212.26 73.16 209.2 73.44 209.08 z M 60.77 209.48 L 60.61 209.49 60.77 209.48 z M 59.62 209.76 L 60.05 209.78 59.62 209.76 z M 58.75 210.02 L 59.3 210.07 58.75 210.17 58.52 210.07 58.75 210.02 z M 57.6 210.34 L 58.46 210.19 58.51 210.36 48.96 213.84 42.34 215.85 41.76 215.94 41.51 215.83 49.05 212.95 57.6 210.34 z M 40.9 216.09 L 41.46 216.12 40.9 216.09 z M 40.32 216.38 L 40.13 216.4 40.32 216.38 z M 42.34 223.3 L 42.62 223.32 42.34 223.3 z M 42.91 223.53 L 43.59 223.6 47.52 224.79 53.72 227.35 52.99 227.35 47.52 225.65 42.84 223.6 42.91 223.53 z M 54.14 227.6 L 54.37 227.64 54.14 227.6 z M 54.43 229.63 L 54.79 229.65 54.43 229.63 z M 55.3 229.85 L 60.48 231.12 66.68 233.4 66.82 233.55 67.45 233.68 66.65 233.68 60.48 231.98 55.06 229.94 55.3 229.85 z M 100.22 230.22 L 100.94 230.23 100.22 230.22 z M 67.97 233.94 L 67.73 233.97 67.97 233.94 z M 42.91 249.81 L 53.28 249.65 54.53 249.81 50.64 250.68 46.37 251.34 38.3 251.88 38.09 250.96 38.16 250.1 38.3 249.82 42.91 249.81 z M 47.52 258.44 L 48.96 258.26 65.66 258.63 69.12 258.76 75.74 259.4 86.4 260.68 98.21 262.42 106.02 263.92 111.96 265.36 111.46 265.5 110.59 265.47 98.21 264.6 86.4 264.06 55.58 262.33 54.96 262.48 69.98 263.57 92.66 265.65 100.23 266.52 100.17 266.8 72 266.75 38.3 266.41 38.11 265.65 38.04 263.92 38.12 261.91 38.3 261.21 48.38 261.98 49.67 261.91 48.1 261.78 42.11 260.47 40.39 259.89 40.48 259.6 41.48 259.32 47.52 258.44 z M 50.95 262.2 L 52.99 262.3 54.83 262.2 52.42 262.07 50.95 262.2 z M 38.3 268.03 L 63.36 268.02 87.84 268.3 91.54 268.53 63.36 270.54 38.3 271.68 38.13 269.97 38.3 268.03 z M 117.22 275.71 L 118.08 275.62 118.08 284.94 112.61 285.76 107.65 286.68 93.6 289.77 86.4 291.55 85.35 291.57 85.31 291.28 85.5 291 86.98 289.59 91.58 286.23 95.04 283.94 101.38 280.51 105.41 278.74 110.02 277.08 112.61 276.43 117.22 275.71 z M 38.3 287.68 L 38.88 287.68 39.17 287.97 41.18 287.97 41.47 288.26 43.2 288.26 43.49 288.55 45.5 288.55 45.79 288.84 47.52 288.84 47.81 289.12 49.25 289.12 49.54 289.41 50.69 289.41 50.98 289.7 52.13 289.7 52.42 289.99 53.57 289.99 53.86 290.28 55.01 290.28 55.3 290.56 56.45 290.56 56.74 290.85 58.18 290.85 58.46 291.14 59.62 291.14 59.9 291.43 61.34 291.43 61.63 291.72 63.07 291.72 63.36 292 64.8 292 65.09 292.29 66.24 292.29 66.53 292.58 67.97 292.58 68.26 292.87 69.7 292.87 69.98 293.16 71.14 293.16 71.42 293.44 72.86 293.44 73.15 293.73 74.59 293.73 74.88 294.02 76.32 294.02 76.61 294.31 77.76 294.31 78.05 294.6 79.49 294.6 79.78 294.88 81.79 294.88 82.08 295.17 84.96 295.17 85.25 295.46 88.13 295.46 88.42 295.64 117.79 296.32 118.04 297.04 117.94 305.11 117.79 305.25 104.26 305.25 103.97 305.54 98.5 305.54 98.21 305.83 93.89 305.83 93.6 306.12 91.01 306.12 90.72 306.4 88.13 306.4 87.84 306.69 85.82 306.69 85.54 306.98 84.1 306.98 83.81 307.27 82.37 307.27 82.08 307.56 80.64 307.56 80.35 307.84 78.91 307.84 78.62 308.13 77.47 308.13 77.18 308.42 76.61 308.42 76.32 308.71 75.74 308.71 75.46 309 74.88 309 74.59 309.28 74.02 309.28 73.73 309.57 73.15 309.57 72.86 309.86 72 309.86 71.71 310.15 71.14 310.15 70.85 310.44 70.56 310.44 70.27 310.72 69.98 310.72 69.7 311.01 69.41 311.01 69.12 311.3 68.83 311.3 68.54 311.59 68.26 311.59 67.97 311.88 67.68 311.88 67.39 312.16 67.1 312.16 66.82 312.45 66.53 312.45 66.24 312.74 65.95 312.74 65.66 313.03 65.38 313.03 65.09 313.32 64.8 313.32 64.51 313.6 64.22 313.6 63.94 313.89 63.65 313.89 63.07 314.47 62.78 314.47 62.5 314.76 62.21 314.76 61.63 315.33 61.34 315.33 61.06 315.62 60.77 315.62 60.19 316.2 59.9 316.2 59.62 316.48 59.33 316.48 58.75 317.06 58.46 317.06 58.18 317.35 57.89 317.35 57.31 317.92 57.02 317.92 56.74 318.21 56.45 318.21 55.87 318.79 55.73 318.64 55.73 318.07 56.02 317.78 56.02 317.2 56.3 316.92 56.3 316.05 56.59 315.76 56.59 315.19 56.88 314.9 56.88 314.61 57.46 314.04 57.46 313.75 57.74 313.46 57.74 313.17 58.03 312.88 58.03 312.6 58.61 312.02 58.61 311.73 58.9 311.44 58.9 311.16 59.47 310.58 59.47 310.29 60.05 309.72 60.05 309.43 60.62 308.85 60.62 308.56 61.2 307.99 61.2 307.7 62.06 306.84 62.06 306.55 62.93 305.68 62.93 305.4 64.37 303.96 64.37 303.67 68.11 299.92 68.11 298.48 67.68 298.05 67.39 298.05 67.1 297.76 66.82 297.76 65.95 297.19 65.38 297.19 65.09 296.9 59.9 296.9 59.62 296.61 50.69 296.61 50.4 296.9 38.3 296.9 38.16 296.76 38.16 287.83 38.3 287.68 z" clip-path="url(#pf8c3f317d9)" style="fill: #d9d9d9"/></g><g id="patch_61"><path d="M 109.73 221.86 L 110.04 221.88 109.73 221.86 z M 110.59 222.11 L 111.1 222.16 110.88 222.23 110.41 222.16 110.59 222.11 z M 111.46 222.35 L 117.79 224.08 117.79 224.62 111.19 222.45 111.46 222.35 z M 38.3 250.34 L 44.35 250.43 45.79 250.68 43.74 250.96 38.3 251.36 38.3 250.34 z M 48.1 259.28 L 48.96 259.17 55.3 259.24 69.12 259.6 76.9 260.4 86.31 261.62 91.64 262.48 92.97 262.77 93.59 263.06 91.01 263.19 85.41 263.06 69.12 262.26 48.96 260.96 46.79 260.47 45.96 260.18 45.74 259.89 46.37 259.6 48.1 259.28 z M 38.3 261.94 L 68.39 264.21 77.52 265.08 81.54 265.65 78.62 265.91 69.7 265.96 38.3 265.68 38.1 263.92 38.3 261.94 z M 116.93 276.28 L 118.08 276.16 118.08 282.77 111.46 283.94 99.32 286.68 98.21 286.75 98.14 286.68 99.33 286.1 105.12 283.8 115.97 280.05 114.93 280.05 114.62 280.25 113.3 280.34 110.67 280.92 107.09 282.07 100.25 284.66 93.85 287.54 88.13 290.44 86.4 290.97 86.29 290.71 87.55 289.48 93.02 285.66 95.9 283.9 101.38 281.02 105.98 279.05 110.02 277.62 112.61 276.97 116.93 276.28 z M 80.35 295.85 L 83.52 295.8 117.79 296.62 117.95 297.33 117.79 297.81 80.64 297.49 78.34 297.24 77.88 297.04 78.91 296.35 80.35 295.85 z" clip-path="url(#pf8c3f317d9)" style="fill: #bfbfbf"/></g><g id="patch_62"><path d="M 60.77 260.45 L 63.94 260.34 69.12 260.39 72.24 260.76 73.99 261.04 74.88 261.33 73.15 261.47 69.12 261.47 61.62 260.76 60.53 260.47 60.77 260.45 z M 38.3 262.44 L 60.27 264.21 64.89 264.79 64.93 265.08 58.18 265.27 38.3 265.18 38.16 263.92 38.3 262.44 z M 117.5 276.57 L 118.08 276.51 118.08 279.33 114.57 279.76 111.59 280.34 107.73 281.49 99.49 284.66 93.86 287.25 88.13 290.16 87.55 290.31 87.26 290.23 87.51 289.84 88.17 289.27 94.46 285.03 98.5 282.8 102.53 280.81 106.85 279.06 110.3 277.88 114.05 277.05 117.5 276.57 z M 80.06 296.15 L 80.64 296.01 84.38 296.05 117.79 296.87 117.87 297.33 117.79 297.57 80.64 297.27 78.77 297.04 78.69 296.76 80.06 296.15 z" clip-path="url(#pf8c3f317d9)" style="fill: #a6a6a6"/></g><g id="patch_63"><path d="M 38.3 262.86 L 49.75 263.92 51.47 264.21 51.6 264.5 46.94 264.74 38.3 264.75 38.3 262.86 z M 117.22 276.85 L 118.08 276.77 118.08 279.07 114.75 279.48 111.74 280.05 107.82 281.2 99.6 284.37 89.37 289.27 88.7 289.57 88.3 289.56 91.01 287.53 94.75 285.08 99.07 282.74 103.1 280.81 107.42 279.11 110.3 278.14 113.76 277.36 117.22 276.85 z M 79.78 296.44 L 80.64 296.19 83.52 296.22 114.58 297.04 113.18 297.22 109.44 297.28 80.64 297.1 79.26 296.76 79.78 296.44 z" clip-path="url(#pf8c3f317d9)" style="fill: #8c8c8c"/></g><g id="patch_64"><path d="M 38.3 263.31 L 42.72 263.92 41.53 264.21 38.3 264.3 38.3 263.31 z M 116.35 277.17 L 118.08 276.99 118.08 278.85 115.22 279.19 112.07 279.76 108.03 280.92 100.51 283.78 91.13 288.12 90.65 288.12 92.18 286.96 95.04 285.11 99.94 282.51 103.68 280.78 108 279.11 110.59 278.28 113.47 277.62 116.35 277.17 z M 80.35 296.43 L 85.54 296.44 95.03 296.76 92.45 296.91 80.64 296.91 80.01 296.76 80.35 296.43 z" clip-path="url(#pf8c3f317d9)" style="fill: #737373"/></g><g id="patch_65"><path d="M 115.78 277.43 L 118.08 277.18 118.08 278.66 112.9 279.41 109.2 280.34 100.8 283.46 93.6 286.7 93.31 286.77 93.02 286.68 94.71 285.52 97.29 284.08 103.68 280.98 110.3 278.55 112.61 277.98 115.78 277.43 z" clip-path="url(#pf8c3f317d9)" style="fill: #595959"/></g><g id="patch_66"><path d="M 117.22 277.44 L 118.08 277.36 118.08 278.48 113.76 279.06 109.73 279.99 101.95 282.79 96.24 285.24 95.73 285.24 98.78 283.51 101.67 282.07 108.05 279.48 112.03 278.29 117.22 277.44 z M 95.33 285.5 L 95.52 285.52 95.33 285.5 z" clip-path="url(#pf8c3f317d9)" style="fill: #3f3f3f"/></g><g id="patch_67"><path d="M 116.35 277.74 L 118.08 277.58 118.08 278.27 114.34 278.75 111.17 279.38 108.29 280.22 102.45 282.36 101.66 282.51 101.65 282.36 103.47 281.49 109.5 279.19 112.81 278.32 116.35 277.74 z M 101.38 282.59 L 101.63 282.64 101.15 282.64 101.38 282.59 z" clip-path="url(#pf8c3f317d9)" style="fill: #262626"/></g><g id="matplotlib.axis_13"><g id="xtick_12"><g id="line2d_43"><g><use xlink:href="#m3f14504601" x="38.3" y="340.33" style="stroke: #000000; stroke-width: 0.84"/></g></g><g id="text_19"><text style="font-size: 8.4px; font-family: 'DejaVu Sans', sans-serif; text-anchor: middle" x="38.3" y="354.06" transform="rotate(-0 38.3 354.06)">-1.0</text></g></g><g id="xtick_13"><g id="line2d_44"><g><use xlink:href="#m3f14504601" x="78.16" y="340.33" style="stroke: #000000; stroke-width: 0.84"/></g></g><g id="text_20"><text style="font-size: 8.4px; font-family: 'DejaVu Sans', sans-serif; text-anchor: middle" x="78.16" y="354.06" transform="rotate(-0 78.16 354.06)">-0.5</text></g></g><g id="xtick_14"><g id="line2d_45"><g><use xlink:href="#m3f14504601" x="118.02" y="340.33" style="stroke: #000000; stroke-width: 0.84"/></g></g><g id="text_21"><text style="font-size: 8.4px; font-family: 'DejaVu Sans', sans-serif; text-anchor: middle" x="118.02" y="354.06" transform="rotate(-0 118.02 354.06)">0</text></g></g></g><g id="matplotlib.axis_14"><g id="ytick_8"><g id="line2d_46"><g><use xlink:href="#m9aed2ce525" x="38.3" y="214.91" style="stroke: #000000; stroke-width: 0.84"/></g></g><g id="text_22"><text style="font-size: 8.4px; font-family: 'DejaVu Sans', sans-serif; text-anchor: end" x="30.95" y="218.1" transform="rotate(-0 30.95 218.1)">1.4</text></g></g><g id="ytick_9"><g id="line2d_47"><g><use xlink:href="#m9aed2ce525" x="38.3" y="267.84" style="stroke: #000000; stroke-width: 0.84"/></g></g><g id="text_23"><text style="font-size: 8.4px; font-family: 'DejaVu Sans', sans-serif; text-anchor: end" x="30.95" y="271.03" transform="rotate(-0 30.95 271.03)">1.0</text></g></g><g id="ytick_10"><g id="line2d_48"><g><use xlink:href="#m9aed2ce525" x="38.3" y="320.77" style="stroke: #000000; stroke-width: 0.84"/></g></g><g id="text_24"><text style="font-size: 8.4px; font-family: 'DejaVu Sans', sans-serif; text-anchor: end" x="30.95" y="323.97" transform="rotate(-0 30.95 323.97)">0.6</text></g></g></g><g id="patch_68"><path d="M 38.3 340.33 L 38.3 208.34" style="fill: none; stroke: #000000; stroke-width: 0.84; stroke-linejoin: miter; stroke-linecap: square"/></g><g id="patch_69"><path d="M 118.02 340.33 L 118.02 208.34" style="fill: none; stroke: #000000; stroke-width: 0.84; stroke-linejoin: miter; stroke-linecap: square"/></g><g id="patch_70"><path d="M 38.3 340.33 L 118.02 340.33" style="fill: none; stroke: #000000; stroke-width: 0.84; stroke-linejoin: miter; stroke-linecap: square"/></g><g id="patch_71"><path d="M 38.3 208.34 L 118.02 208.34" style="fill: none; stroke: #000000; stroke-width: 0.84; stroke-linejoin: miter; stroke-linecap: square"/></g><g id="line2d_49"><path d="M 38.3 331.76 L 39.93 330.36 41.56 328.97 43.18 327.57 44.81 326.17 46.44 324.78 48.07 323.38 49.69 321.98 51.32 320.59 52.95 319.19 54.57 317.8 56.2 316.4 57.83 315 59.45 313.61 61.08 312.21 62.71 310.81 64.33 309.42 65.96 308.02 67.59 306.63 69.22 305.23 70.84 303.83 72.47 302.44 74.1 301.04 75.72 299.64 77.35 298.25 78.98 296.85 80.6 295.46 82.23 294.06 83.86 292.66 85.48 291.27 87.11 289.87 88.74 288.47 90.36 287.08 91.99 285.68 93.62 284.28 95.25 282.89 96.87 281.49 98.5 280.1 100.13 278.7 101.75 277.3 103.38 275.91 105.01 274.51 106.63 273.11 108.26 271.72 109.89 270.32 111.51 268.93 113.14 267.53 114.77 266.13 116.4 264.74 118.02 263.34" clip-path="url(#pf8c3f317d9)" style="fill: none; stroke: #808080; stroke-width: 0.53; stroke-linecap: square"/></g><g id="line2d_50"><path d="M 38.3 331.76 L 39.93 333.15 41.56 334.55 43.18 335.95 44.81 337.34 46.44 338.74 48.07 340.14 49.69 341.53 51.32 342.93 52.95 344.32 54.57 345.72 56.2 347.12 57.83 348.51 59.45 349.91 61.08 351.31 62.71 352.7 64.33 354.1 65.96 355.5 67.59 356.89 69.22 358.29 70.84 359.68 72.47 361.08 74.1 362.48 75.72 363.87 77.35 365.27 78.98 366.67 80.6 368.06 82.23 369.46 83.86 370.85 85.48 372.25 87.11 373.65 87.48 373.96" clip-path="url(#pf8c3f317d9)" style="fill: none; stroke: #808080; stroke-width: 0.53; stroke-linecap: square"/></g><g id="line2d_51"><path d="M 38.3 194.92 L 39.93 196.32 41.56 197.72 43.18 199.11 44.81 200.51 46.44 201.9 48.07 203.3 49.69 204.7 51.32 206.09 52.95 207.49 54.57 208.89 56.2 210.28 57.83 211.68 59.45 213.07 61.08 214.47 62.71 215.87 64.33 217.26 65.96 218.66 67.59 220.06 69.22 221.45 70.84 222.85 72.47 224.24 74.1 225.64 75.72 227.04 77.35 228.43 78.98 229.83 80.6 231.23 82.23 232.62 83.86 234.02 85.48 235.41 87.11 236.81 88.74 238.21 90.36 239.6 91.99 241 93.62 242.4 95.25 243.79 96.87 245.19 98.5 246.59 100.13 247.98 101.75 249.38 103.38 250.77 105.01 252.17 106.63 253.57 108.26 254.96 109.89 256.36 111.51 257.76 113.14 259.15 114.77 260.55 116.4 261.94 118.02 263.34" clip-path="url(#pf8c3f317d9)" style="fill: none; stroke: #808080; stroke-width: 0.53; stroke-linecap: square"/></g><g id="line2d_52"><path d="M 38.45 221.47 L 63.36 207.94" clip-path="url(#pf8c3f317d9)" style="fill: none; stroke: #ff7f0e; stroke-width: 1.05; stroke-linecap: square"/></g><g id="line2d_53"><path d="M 38.45 221.47 L 117.79 267.84" clip-path="url(#pf8c3f317d9)" style="fill: none; stroke: #ff7f0e; stroke-width: 1.05; stroke-linecap: square"/></g><g id="line2d_54"><path d="M 117.79 267.84 L 93.89 284.54" clip-path="url(#pf8c3f317d9)" style="fill: none; stroke: #ff7f0e; stroke-width: 1.05; stroke-linecap: square"/></g><g id="line2d_55"><path d="M 65.09 207.94 L 66.45 208.47 67.81 209.01 69.17 209.55 70.53 210.09 71.89 210.63 73.25 211.17 74.61 211.72 75.97 212.26 77.32 212.81 78.68 213.36 80.03 213.92 81.39 214.47 82.74 215.04 84.09 215.6 85.44 216.17 86.78 216.74 88.13 217.32 89.47 217.9 90.81 218.48 92.16 219.06 93.5 219.65 94.84 220.24 96.18 220.82 97.52 221.41 98.86 221.99 100.2 222.58 101.55 223.15 102.89 223.73 104.24 224.3 105.59 224.87 106.94 225.43 108.29 225.99 109.65 226.54 111 227.09 112.36 227.64 113.72 228.19 115.08 228.73 116.43 229.28 117.79 229.82" clip-path="url(#pf8c3f317d9)" style="fill: none; stroke-dasharray: 3.88,1.68; stroke-dashoffset: 0; stroke: #ff7f0e; stroke-width: 1.05"/></g><g id="line2d_56"><path d="M 117.79 229.82 L 115.77 230.56 113.75 231.29 111.73 232.03 109.71 232.76 107.69 233.49 105.67 234.22 103.64 234.95 101.62 235.68 99.6 236.4 97.57 237.12 95.55 237.84 93.52 238.56 91.49 239.28 89.46 239.99 87.43 240.69 85.4 241.4 83.37 242.1 81.34 242.8 79.3 243.49 77.27 244.18 75.23 244.87 73.19 245.56 71.15 246.24 69.11 246.93 67.07 247.6 65.03 248.28 62.99 248.95 60.95 249.62 58.91 250.29 56.86 250.96 54.82 251.62 52.77 252.29 50.73 252.95 48.68 253.61 46.64 254.27 44.59 254.92 42.54 255.58 40.49 256.24 38.45 256.9" clip-path="url(#pf8c3f317d9)" style="fill: none; stroke-dasharray: 3.88,1.68; stroke-dashoffset: 0; stroke: #ff7f0e; stroke-width: 1.05"/></g><g id="line2d_57"><path d="M 38.45 256.9 L 40.42 257.39 42.39 257.89 44.36 258.38 46.33 258.87 48.3 259.36 50.28 259.83 52.25 260.3 54.23 260.76 56.21 261.2 58.2 261.63 60.19 262.05 62.18 262.45 64.17 262.84 66.17 263.22 68.17 263.58 70.17 263.93 72.17 264.26 74.18 264.58 76.19 264.89 78.2 265.19 80.21 265.48 82.22 265.75 84.24 266.01 86.26 266.26 88.27 266.49 90.29 266.72 92.32 266.93 94.34 267.12 96.36 267.3 98.39 267.47 100.41 267.62 102.44 267.76 104.46 267.89 106.49 268 108.52 268.09 110.55 268.18 112.58 268.26 114.61 268.34 116.64 268.42" clip-path="url(#pf8c3f317d9)" style="fill: none; stroke-dasharray: 3.88,1.68; stroke-dashoffset: 0; stroke: #ff7f0e; stroke-width: 1.05"/></g><g id="line2d_58"><path d="M 117.65 268.42 L 117.65 283.97" clip-path="url(#pf8c3f317d9)" style="fill: none; stroke-dasharray: 3.88,1.68; stroke-dashoffset: 0; stroke: #ff7f0e; stroke-width: 1.05"/></g><g id="line2d_59"><path d="M 38.45 236.16 L 40.46 235.48 42.47 234.8 44.49 234.11 46.5 233.43 48.51 232.74 50.52 232.05 52.52 231.36 54.53 230.66 56.54 229.96 58.54 229.25 60.54 228.54 62.54 227.82 64.54 227.09 66.53 226.36 68.52 225.62 70.51 224.88 72.5 224.13 74.49 223.38 76.48 222.63 78.47 221.88 80.45 221.12 82.44 220.37 84.43 219.62 86.42 218.87 88.41 218.13 90.4 217.39 92.39 216.65 94.38 215.91 96.38 215.18 98.37 214.45 100.37 213.72 102.37 212.99 104.36 212.27 106.36 211.54 108.36 210.82 110.36 210.1 112.35 209.38 114.35 208.66 116.35 207.94" clip-path="url(#pf8c3f317d9)" style="fill: none; stroke-dasharray: 3.88,1.68; stroke-dashoffset: 0; stroke: #1f77b4; stroke-width: 1.05"/></g><g id="line2d_60"><path d="M 38.45 236.16 L 40.44 237.01 42.43 237.86 44.42 238.7 46.41 239.53 48.41 240.36 50.41 241.17 52.42 241.97 54.43 242.75 56.45 243.51 58.48 244.25 60.51 244.97 62.55 245.67 64.6 246.36 66.66 247.03 68.71 247.69 70.77 248.35 72.83 249 74.89 249.65 76.95 250.3 79.01 250.96 81.06 251.63 83.11 252.31 85.16 253.01 87.2 253.72 89.23 254.45 91.26 255.2 93.28 255.95 95.31 256.71 97.33 257.46 99.36 258.22 101.39 258.96 103.42 259.68 105.46 260.39 107.51 261.08 109.56 261.76 111.61 262.43 113.67 263.08 115.73 263.74 117.79 264.38" clip-path="url(#pf8c3f317d9)" style="fill: none; stroke-dasharray: 3.88,1.68; stroke-dashoffset: 0; stroke: #1f77b4; stroke-width: 1.05"/></g><g id="line2d_61"><path d="M 117.79 264.1 L 115.84 264.93 113.89 265.76 111.93 266.56 109.95 267.33 107.96 268.06 105.96 268.75 103.94 269.42 101.92 270.06 99.89 270.68 97.86 271.29 95.82 271.88 93.78 272.46 91.74 273.02 89.69 273.58 87.65 274.13 85.6 274.68 83.55 275.22 81.5 275.75 79.44 276.28 77.39 276.81 75.34 277.34 73.28 277.87 71.23 278.39 69.17 278.92 67.12 279.45 65.07 279.98 63.02 280.51 60.96 281.05 58.91 281.59 56.87 282.14 54.82 282.68 52.77 283.23 50.72 283.79 48.68 284.34 46.63 284.9 44.58 285.46 42.54 286.02 40.49 286.58 38.45 287.14" clip-path="url(#pf8c3f317d9)" style="fill: none; stroke-dasharray: 3.88,1.68; stroke-dashoffset: 0; stroke: #1f77b4; stroke-width: 1.05"/></g><g id="line2d_62"><path d="M 38.45 287.42 L 40.44 287.79 42.44 288.16 44.43 288.53 46.43 288.9 48.43 289.26 50.42 289.62 52.42 289.98 54.42 290.33 56.42 290.68 58.42 291.02 60.42 291.35 62.42 291.68 64.43 292 66.43 292.32 68.44 292.63 70.44 292.93 72.45 293.22 74.46 293.51 76.47 293.79 78.48 294.06 80.5 294.32 82.51 294.57 84.53 294.81 86.54 295.05 88.56 295.26 90.58 295.47 92.6 295.66 94.62 295.83 96.65 295.98 98.67 296.11 100.7 296.22 102.72 296.31 104.75 296.39 106.78 296.45 108.81 296.5 110.84 296.55 112.87 296.58 114.9 296.61 116.93 296.64" clip-path="url(#pf8c3f317d9)" style="fill: none; stroke-dasharray: 3.88,1.68; stroke-dashoffset: 0; stroke: #1f77b4; stroke-width: 1.05"/></g><g id="line2d_63"><path d="M 117.65 296.93 L 117.65 307.01" clip-path="url(#pf8c3f317d9)" style="fill: none; stroke-dasharray: 3.88,1.68; stroke-dashoffset: 0; stroke: #1f77b4; stroke-width: 1.05"/></g></g><g id="axes_8"><g id="patch_72"><path d="M 129.74 340.33 L 209.61 340.33 209.61 208.34 129.74 208.34 129.74 340.33 z" style="fill: none"/></g><g id="patch_73"><path d="M 129.74 208.05 L 209.81 208.05 209.81 332.28 209.52 332.56 209.23 332.56 207.5 334.29 207.22 334.29 205.78 335.73 205.49 335.73 203.76 337.46 203.47 337.46 202.03 338.9 201.74 338.9 200.11 340.53 129.46 340.53 129.46 208.05 129.74 208.05 z" clip-path="url(#pe54c856542)" style="fill: #f3f3f3"/></g><g id="patch_74"><path d="M 129.74 222.56 L 143.57 222.75 149.62 222.6 150.7 222.74 146.45 223.64 141.84 224.25 129.74 224.42 129.54 223.6 129.74 222.56 z M 144.72 234.51 L 149.01 234.55 161.42 235.34 174.41 236.85 184.73 238.29 182.65 238.29 161.14 236.41 144.72 234.51 z M 178.13 255.28 L 184.46 255.28 191.95 255.86 200.53 256.72 198 256.75 184.18 256.21 176.65 255.57 178.13 255.28 z M 188.21 269.1 L 188.5 269.11 188.21 269.1 z M 187.63 269.33 L 188.03 269.4 185.04 270.92 180.72 272.08 176.69 272.74 168.62 273.3 164.88 273.23 157.97 272.43 153.79 271.7 150.5 270.84 151.92 270.75 157.1 271.18 164.02 271.54 175.82 271.48 178.7 271.24 181.3 270.85 185.33 270.05 187.63 269.33 z M 205.49 270.54 L 208.94 270.35 209.2 273.14 208.94 275.7 200.59 275.46 185.33 275.37 173.03 275.73 173.28 276.02 179.99 276.31 181.3 276.64 181.58 276.86 183.27 277.17 170.16 277.75 161.14 278.45 159.98 278.8 159.7 279.05 159.12 279.06 158.26 279.62 157.97 279.62 157.68 279.91 157.39 279.91 157.1 280.2 156.82 280.2 156.53 280.48 155.95 280.48 155.66 280.77 155.38 280.77 154.51 281.35 153.94 281.35 153.65 281.64 153.36 281.64 152.5 282.21 151.92 282.21 151.63 282.5 151.34 282.5 150.48 283.08 149.9 283.08 149.62 283.36 149.33 283.36 148.46 283.94 147.89 283.94 147.02 284.52 146.45 284.52 146.16 284.8 145.87 284.8 145.01 285.38 144.43 285.38 144.14 285.67 143.57 285.67 143.28 285.96 142.13 285.96 141.84 286.24 140.69 286.24 140.4 286.53 139.25 286.53 138.96 286.82 137.81 286.82 137.52 287.11 136.37 287.11 136.08 287.4 130.03 287.4 129.89 287.25 129.88 280.63 129.48 277.75 129.52 276.02 129.74 274.89 155.38 275.22 171.5 275.95 172.65 275.73 172.08 275.59 172.01 275.44 175.26 274.58 182.11 273.14 188.21 272.05 192.53 271.55 205.49 270.54 z M 130.65 279.76 L 131.77 279.76 130.65 279.76 z M 203.18 276.13 L 206.06 276.11 206.35 276.43 207.22 276.43 207.5 276.74 208.08 276.74 208.66 277.32 208.94 277.32 209.81 278.18 209.81 292.87 208.94 293.73 208.66 293.73 207.79 294.31 207.22 294.31 206.93 294.6 205.78 294.6 205.49 294.88 202.61 294.88 202.32 294.6 199.73 294.6 199.44 294.31 197.42 294.31 197.14 294.02 193.97 294.02 193.68 293.73 192.53 293.73 192.24 294.02 188.78 294.02 188.5 294.31 187.06 294.31 186.77 294.6 185.62 294.6 185.33 294.88 184.18 294.88 183.89 295.17 183.02 295.17 182.74 295.46 181.87 295.46 181.58 295.75 180.72 295.75 180.43 296.04 179.86 296.04 179.57 296.32 178.7 296.32 178.42 296.61 177.55 296.61 177.26 296.9 176.11 296.9 175.82 297.19 174.67 297.19 174.38 297.48 172.37 297.48 172.08 297.76 166.9 297.76 166.61 297.48 163.73 297.48 163.44 297.19 160.56 297.19 160.27 296.9 157.1 296.9 156.82 296.61 154.51 296.61 154.22 296.32 152.5 296.32 152.21 296.04 150.77 296.04 150.48 295.75 148.18 295.75 147.89 295.46 145.3 295.46 145.01 295.75 143.28 295.75 142.99 296.04 141.84 296.04 141.55 296.32 140.4 296.32 140.11 296.61 137.52 296.61 137.23 296.32 136.94 296.32 136.8 296.18 136.8 295.89 136.51 295.6 136.51 293.01 136.8 292.72 136.8 292.44 137.09 292.15 137.09 291.86 137.38 291.57 137.38 291.28 138.67 289.99 138.96 289.99 139.25 289.7 139.54 289.7 139.82 289.41 140.11 289.41 140.98 288.84 141.55 288.84 141.84 288.55 142.42 288.55 142.7 288.26 143.28 288.26 143.57 287.97 144.72 287.97 145.01 287.68 145.87 287.68 146.16 287.4 147.02 287.4 147.31 287.11 148.18 287.11 148.46 286.82 149.04 286.82 149.9 286.24 150.48 286.24 150.77 285.96 151.06 285.96 151.92 285.38 152.5 285.38 152.78 285.09 153.07 285.09 153.36 284.8 153.65 284.8 153.94 284.52 154.22 284.52 154.51 284.23 154.8 284.23 155.09 283.94 155.38 283.94 155.95 283.56 156.18 283.22 158.83 282.21 159.41 282.14 159.7 281.92 160.27 281.88 160.56 281.64 161.14 281.61 161.42 281.35 162 281.34 162.29 281.06 162.86 281.06 163.15 280.77 163.73 280.77 164.02 280.48 164.88 280.48 165.17 280.2 165.74 280.2 166.03 279.91 166.9 279.91 167.18 279.62 168.05 279.62 168.34 279.33 169.49 279.33 169.78 279.04 171.22 279.04 171.5 278.76 173.81 278.76 174.1 278.47 178.42 278.47 178.7 278.76 181.87 278.76 182.16 278.98 192.53 278.71 192.82 278.47 193.68 278.47 193.97 278.18 194.83 278.18 195.12 277.89 195.98 277.89 196.27 277.6 197.14 277.6 197.42 277.32 198.29 277.32 198.58 277.03 199.73 277.03 200.02 276.74 200.88 276.74 201.17 276.45 202.9 276.44 203.18 276.13 z M 130.03 296.61 L 130.32 296.9 130.9 296.9 131.18 297.19 131.76 297.19 132.05 297.48 132.62 297.48 132.91 297.76 133.49 297.76 133.78 298.05 134.35 298.05 134.64 298.34 135.22 298.34 136.08 298.92 136.66 298.92 136.94 299.2 137.52 299.2 137.81 299.49 138.38 299.49 138.67 299.78 138.96 299.78 139.25 300.07 139.54 300.07 139.82 300.36 140.11 300.36 140.69 300.93 140.98 300.93 141.26 301.22 141.55 301.22 141.84 301.51 142.13 301.51 142.42 301.8 142.7 301.8 142.99 302.08 143.28 302.08 143.57 302.37 143.86 302.37 144.14 302.66 144.43 302.66 144.72 302.95 145.01 302.95 145.3 303.24 145.58 303.24 145.87 303.52 146.16 303.52 146.45 303.81 146.74 303.81 147.31 304.39 147.6 304.39 147.89 304.68 148.18 304.68 148.46 304.96 148.75 304.96 149.04 305.25 149.33 305.25 149.62 305.54 149.9 305.54 150.19 305.83 150.48 305.83 150.77 306.12 151.06 306.12 151.34 306.4 151.63 306.4 151.92 306.69 152.21 306.69 152.5 306.98 152.78 306.98 153.36 307.56 153.65 307.56 153.94 307.84 154.22 307.84 154.51 308.13 154.8 308.13 155.09 308.42 155.38 308.42 155.66 308.71 155.95 308.71 156.24 309 156.53 309 156.82 309.28 157.1 309.28 157.39 309.57 157.68 309.57 158.26 310.15 158.54 310.15 158.83 310.44 159.12 310.44 159.41 310.72 159.7 310.72 159.98 311.01 160.27 311.01 160.56 311.3 160.85 311.3 161.14 311.59 161.42 311.59 161.71 311.88 162 311.88 162.29 312.16 162.58 312.16 162.86 312.45 163.15 312.45 163.44 312.74 163.73 312.74 164.02 313.03 164.3 313.03 164.59 313.32 164.88 313.32 165.17 313.6 165.46 313.6 165.74 313.89 166.03 313.89 166.32 314.18 166.61 314.18 166.9 314.47 167.18 314.47 167.47 314.76 167.76 314.76 168.05 315.04 168.34 315.04 168.62 315.33 168.91 315.33 169.2 315.62 169.49 315.62 169.78 315.91 170.06 315.91 170.35 316.2 170.64 316.2 170.93 316.48 171.22 316.48 171.5 316.77 171.79 316.77 172.08 317.06 172.37 317.06 172.66 317.35 172.94 317.35 173.23 317.64 173.52 317.64 173.81 317.92 174.1 317.92 174.38 318.21 174.67 318.21 174.96 318.5 175.25 318.5 175.54 318.79 175.82 318.79 176.11 319.08 176.4 319.08 176.69 319.36 176.98 319.36 177.26 319.65 177.55 319.65 177.84 319.94 178.13 319.94 178.42 320.23 178.7 320.23 179.28 320.8 179.57 320.8 180.14 321.38 180.43 321.38 180.72 321.67 181.01 321.67 181.58 322.24 181.87 322.24 182.16 322.53 182.45 322.53 183.02 323.11 183.31 323.11 183.89 323.68 184.18 323.68 184.46 323.97 184.75 323.97 185.33 324.55 185.62 324.55 186.19 325.12 186.48 325.12 186.77 325.41 187.06 325.41 187.63 325.99 187.92 325.99 188.5 326.56 188.78 326.56 189.07 326.85 189.36 326.85 189.94 327.43 190.22 327.43 190.66 327.86 190.51 328 190.22 328 189.94 327.72 189.65 327.72 189.36 327.43 189.07 327.43 188.5 326.85 188.21 326.85 187.92 326.56 187.63 326.56 187.34 326.28 187.06 326.28 186.48 325.7 186.19 325.7 185.9 325.41 185.62 325.41 185.33 325.12 185.04 325.12 184.46 324.55 184.18 324.55 183.89 324.26 183.6 324.26 183.31 323.97 183.02 323.97 182.45 323.4 182.16 323.4 181.87 323.11 181.58 323.11 181.01 322.53 180.72 322.53 180.43 322.24 180.14 322.24 179.86 321.96 179.57 321.96 178.99 321.38 178.7 321.38 178.42 321.09 178.13 321.09 177.84 320.8 177.55 320.8 177.26 320.52 176.98 320.52 176.69 320.23 176.4 320.23 176.11 319.94 175.82 319.94 175.54 319.65 175.25 319.65 174.96 319.36 174.67 319.36 173.81 318.79 173.23 318.79 172.94 318.5 172.66 318.5 172.37 318.21 172.08 318.21 171.79 317.92 171.5 317.92 171.22 317.64 170.93 317.64 170.64 317.35 170.35 317.35 170.06 317.06 169.78 317.06 169.49 316.77 169.2 316.77 168.91 316.48 168.62 316.48 168.34 316.2 168.05 316.2 167.76 315.91 167.47 315.91 167.18 315.62 166.9 315.62 166.61 315.33 166.32 315.33 166.03 315.04 165.74 315.04 165.46 314.76 165.17 314.76 164.88 314.47 164.59 314.47 164.3 314.18 164.02 314.18 163.73 313.89 163.44 313.89 163.15 313.6 162.86 313.6 162.58 313.32 162.29 313.32 162 313.03 161.71 313.03 160.85 312.45 160.27 312.45 159.98 312.16 159.7 312.16 159.41 311.88 159.12 311.88 158.26 311.3 157.68 311.3 157.39 311.01 157.1 311.01 156.82 310.72 156.53 310.72 155.66 310.15 155.09 310.15 154.8 309.86 154.51 309.86 153.65 309.28 153.07 309.28 152.78 309 152.5 309 151.63 308.42 150.77 308.42 150.48 308.13 149.33 308.13 149.04 307.84 147.89 307.84 147.6 307.56 146.16 307.56 145.87 307.27 144.72 307.27 144.43 306.98 143.28 306.98 142.99 306.69 141.84 306.69 141.55 306.4 139.54 306.4 139.25 306.12 136.66 306.12 136.37 305.83 133.78 305.83 133.49 305.54 131.18 305.54 130.9 305.25 130.03 305.25 129.89 305.11 129.89 296.76 130.03 296.61 z M 190.8 328 L 191.09 328 191.38 328.29 191.66 328.29 192.1 328.72 191.95 328.87 191.66 328.87 191.38 328.58 191.09 328.58 190.66 328.15 190.8 328 z M 192.24 328.87 L 192.53 328.87 192.67 329.01 192.53 329.16 192.24 329.16 192.1 329.01 192.24 328.87 z M 192.82 329.16 L 193.1 329.16 193.54 329.59 193.39 329.73 193.1 329.73 192.67 329.3 192.82 329.16 z M 193.68 329.73 L 193.97 329.73 194.11 329.88 193.97 330.02 193.68 330.02 193.54 329.88 193.68 329.73 z M 194.26 330.02 L 194.4 330.16 194.26 330.31 194.11 330.16 194.26 330.02 z M 194.83 330.31 L 194.98 330.45 194.83 330.6 194.69 330.45 194.83 330.31 z M 195.12 330.6 L 195.41 330.6 195.55 330.74 195.41 330.88 195.12 330.88 194.98 330.74 195.12 330.6 z M 195.7 330.88 L 195.84 331.03 195.7 331.17 195.55 331.03 195.7 330.88 z M 196.27 331.17 L 196.42 331.32 196.27 331.46 196.13 331.32 196.27 331.17 z M 197.14 331.75 L 197.28 331.89 197.14 332.04 196.99 331.89 197.14 331.75 z M 197.71 332.04 L 197.86 332.18 197.71 332.32 197.57 332.18 197.71 332.04 z M 198.58 332.61 L 198.72 332.76 198.58 332.9 198.43 332.76 198.58 332.61 z" clip-path="url(#pe54c856542)" style="fill: #d9d9d9"/></g><g id="patch_75"><path d="M 129.74 223.15 L 138.53 223.32 139.97 223.6 129.74 223.84 129.74 223.15 z M 158.83 271.97 L 178.25 271.99 176.63 272.28 173.44 272.56 167.18 272.89 162.8 272.56 158.83 271.97 z M 208.94 271.96 L 209.12 273.14 208.94 274.15 200.59 274.29 187.06 274.84 179.51 274.87 180.1 274.58 181.63 274.29 189.36 273.25 200.3 272.38 208.94 271.96 z M 129.74 275.81 L 138.67 275.81 144.72 276.15 161.14 276.45 170.11 276.88 170.67 277.17 162.58 277.57 155.38 278.38 146.45 279.05 139.25 278.88 129.74 278.88 129.51 277.46 129.74 275.81 z M 200.88 278.9 L 207.88 278.9 200.88 278.9 z M 189.65 279.18 L 199.44 279.04 200.42 279.19 178.42 279.92 169.78 280.4 168.11 280.34 172.66 279.66 178.13 279.42 189.65 279.18 z" clip-path="url(#pe54c856542)" style="fill: #bfbfbf"/></g><g id="patch_76"><path d="M 204.62 272.55 L 208.94 272.33 209.05 273.14 208.94 273.73 189.94 274.21 188.5 274.19 187.89 274 196.34 273.14 204.62 272.55 z M 129.74 276.11 L 138.67 276.12 147.02 276.53 159.41 276.72 162.13 276.88 162.47 277.17 155.38 278.07 146.45 278.75 139.25 278.57 129.74 278.57 129.54 277.46 129.74 276.11 z" clip-path="url(#pe54c856542)" style="fill: #a6a6a6"/></g><g id="patch_77"><path d="M 206.06 272.85 L 208.94 272.69 208.94 273.37 203.76 273.37 202.68 273.14 206.06 272.85 z M 129.74 276.34 L 138.96 276.36 145.3 276.71 155.38 276.89 159.12 277.17 158.05 277.46 155.66 277.78 146.45 278.52 138.96 278.34 129.74 278.34 129.58 277.46 129.74 276.34 z" clip-path="url(#pe54c856542)" style="fill: #8c8c8c"/></g><g id="patch_78"><path d="M 129.74 276.53 L 138.96 276.54 145.01 276.89 154.22 277.14 154.77 277.17 155.3 277.46 150.75 278.04 146.16 278.34 139.25 278.16 129.74 278.16 129.61 277.46 129.74 276.53 z" clip-path="url(#pe54c856542)" style="fill: #737373"/></g><g id="patch_79"><path d="M 129.74 276.69 L 138.96 276.71 152.35 277.46 151.17 277.75 145.87 278.17 139.25 277.99 129.74 277.99 129.65 277.46 129.74 276.69 z" clip-path="url(#pe54c856542)" style="fill: #595959"/></g><g id="patch_80"><path d="M 129.74 276.85 L 138.96 276.87 148.73 277.46 148.62 277.75 145.87 277.98 139.25 277.83 129.74 277.83 129.74 276.85 z" clip-path="url(#pe54c856542)" style="fill: #3f3f3f"/></g><g id="patch_81"><path d="M 129.74 277.05 L 138.38 277.05 144.46 277.46 144.14 277.74 129.74 277.64 129.74 277.05 z" clip-path="url(#pe54c856542)" style="fill: #262626"/></g><g id="matplotlib.axis_15"><g id="xtick_15"><g id="line2d_64"><g><use xlink:href="#m3f14504601" x="129.74" y="340.33" style="stroke: #000000; stroke-width: 0.84"/></g></g><g id="text_25"><text style="font-size: 8.4px; font-family: 'DejaVu Sans', sans-serif; text-anchor: middle" x="129.74" y="354.06" transform="rotate(-0 129.74 354.06)">0</text></g></g><g id="xtick_16"><g id="line2d_65"><g><use xlink:href="#m3f14504601" x="169.69" y="340.33" style="stroke: #000000; stroke-width: 0.84"/></g></g><g id="text_26"><text style="font-size: 8.4px; font-family: 'DejaVu Sans', sans-serif; text-anchor: middle" x="169.69" y="354.06" transform="rotate(-0 169.69 354.06)">0.5</text></g></g><g id="xtick_17"><g id="line2d_66"><g><use xlink:href="#m3f14504601" x="209.61" y="340.33" style="stroke: #000000; stroke-width: 0.84"/></g></g><g id="text_27"><text style="font-size: 8.4px; font-family: 'DejaVu Sans', sans-serif; text-anchor: middle" x="209.61" y="354.06" transform="rotate(-0 209.61 354.06)">1.0</text></g></g></g><g id="matplotlib.axis_16"/><g id="patch_82"><path d="M 129.74 340.33 L 129.74 208.34" style="fill: none; stroke: #000000; stroke-width: 0.84; stroke-linejoin: miter; stroke-linecap: square"/></g><g id="patch_83"><path d="M 209.61 340.33 L 209.61 208.34" style="fill: none; stroke: #000000; stroke-width: 0.84; stroke-linejoin: miter; stroke-linecap: square"/></g><g id="patch_84"><path d="M 129.74 340.33 L 209.61 340.33" style="fill: none; stroke: #000000; stroke-width: 0.84; stroke-linejoin: miter; stroke-linecap: square"/></g><g id="patch_85"><path d="M 129.74 208.34 L 209.61 208.34" style="fill: none; stroke: #000000; stroke-width: 0.84; stroke-linejoin: miter; stroke-linecap: square"/></g><g id="line2d_67"><path d="M 129.74 264.66 L 131.37 263.28 133 261.9 134.63 260.52 136.26 259.13 137.89 257.75 139.52 256.37 141.15 254.98 142.78 253.6 144.41 252.22 146.04 250.84 147.67 249.45 149.3 248.07 150.93 246.69 152.56 245.31 154.19 243.92 155.82 242.54 157.45 241.16 159.08 239.77 160.71 238.39 162.34 237.01 163.97 235.63 165.6 234.24 167.23 232.86 168.86 231.48 170.49 230.09 172.12 228.71 173.75 227.33 175.38 225.95 177.01 224.56 178.64 223.18 180.27 221.8 181.9 220.42 183.53 219.03 185.16 217.65 186.79 216.27 188.42 214.88 190.05 213.5 191.68 212.12 193.31 210.74 194.94 209.35 196.57 207.97 198.2 206.59 199.83 205.2 201.46 203.82 203.09 202.44 204.72 201.06 206.35 199.67 207.98 198.29 209.61 196.91" clip-path="url(#pe54c856542)" style="fill: none; stroke: #808080; stroke-width: 0.53; stroke-linecap: square"/></g><g id="line2d_68"><path d="M 160.64 373.96 L 160.71 373.9 162.34 372.52 163.97 371.14 165.6 369.75 167.23 368.37 168.86 366.99 170.49 365.61 172.12 364.22 173.75 362.84 175.38 361.46 177.01 360.08 178.64 358.69 180.27 357.31 181.9 355.93 183.53 354.54 185.16 353.16 186.79 351.78 188.42 350.4 190.05 349.01 191.68 347.63 193.31 346.25 194.94 344.86 196.57 343.48 198.2 342.1 199.83 340.72 201.46 339.33 203.09 337.95 204.72 336.57 206.35 335.19 207.98 333.8 209.61 332.42" clip-path="url(#pe54c856542)" style="fill: none; stroke: #808080; stroke-width: 0.53; stroke-linecap: square"/></g><g id="line2d_69"><path d="M 129.74 264.66 L 131.37 266.05 133 267.43 134.63 268.81 136.26 270.2 137.89 271.58 139.52 272.96 141.15 274.34 142.78 275.73 144.41 277.11 146.04 278.49 147.67 279.87 149.3 281.26 150.93 282.64 152.56 284.02 154.19 285.41 155.82 286.79 157.45 288.17 159.08 289.55 160.71 290.94 162.34 292.32 163.97 293.7 165.6 295.09 167.23 296.47 168.86 297.85 170.49 299.23 172.12 300.62 173.75 302 175.38 303.38 177.01 304.76 178.64 306.15 180.27 307.53 181.9 308.91 183.53 310.3 185.16 311.68 186.79 313.06 188.42 314.44 190.05 315.83 191.68 317.21 193.31 318.59 194.94 319.97 196.57 321.36 198.2 322.74 199.83 324.12 201.46 325.51 203.09 326.89 204.72 328.27 206.35 329.65 207.98 331.04 209.61 332.42" clip-path="url(#pe54c856542)" style="fill: none; stroke: #808080; stroke-width: 0.53; stroke-linecap: square"/></g><g id="line2d_70"><path d="M 130.03 223.2 L 167.62 207.94" clip-path="url(#pe54c856542)" style="fill: none; stroke: #1f77b4; stroke-width: 1.05; stroke-linecap: square"/></g><g id="line2d_71"><path d="M 130.03 223.2 L 209.38 258.62" clip-path="url(#pe54c856542)" style="fill: none; stroke: #1f77b4; stroke-width: 1.05; stroke-linecap: square"/></g><g id="line2d_72"><path d="M 209.38 258.62 L 130.03 296.35" clip-path="url(#pe54c856542)" style="fill: none; stroke: #1f77b4; stroke-width: 1.05; stroke-linecap: square"/></g><g id="line2d_73"><path d="M 130.03 296.35 L 151.49 307.3" clip-path="url(#pe54c856542)" style="fill: none; stroke: #1f77b4; stroke-width: 1.05; stroke-linecap: square"/></g><g id="line2d_74"><path d="M 130.46 207.94 L 132.45 208.75 134.44 209.57 136.43 210.38 138.42 211.2 140.41 212.01 142.41 212.82 144.4 213.62 146.39 214.42 148.39 215.22 150.39 216.01 152.39 216.8 154.39 217.58 156.4 218.35 158.41 219.12 160.42 219.88 162.43 220.63 164.45 221.38 166.47 222.12 168.49 222.85 170.52 223.57 172.54 224.29 174.57 225 176.61 225.7 178.64 226.4 180.68 227.08 182.72 227.76 184.76 228.43 186.8 229.1 188.85 229.76 190.9 230.41 192.95 231.06 195 231.71 197.05 232.35 199.1 232.99 201.16 233.63 203.21 234.26 205.27 234.9 207.32 235.53 209.38 236.16" clip-path="url(#pe54c856542)" style="fill: none; stroke-dasharray: 3.88,1.68; stroke-dashoffset: 0; stroke: #1f77b4; stroke-width: 1.05"/></g><g id="line2d_75"><path d="M 209.38 236.16 L 207.33 236.86 205.29 237.56 203.25 238.27 201.21 238.97 199.17 239.68 197.13 240.39 195.09 241.1 193.05 241.82 191.01 242.54 188.98 243.27 186.95 244 184.92 244.74 182.89 245.48 180.87 246.24 178.85 247 176.83 247.76 174.81 248.54 172.8 249.32 170.78 250.1 168.77 250.89 166.76 251.67 164.74 252.46 162.73 253.24 160.71 254.01 158.7 254.78 156.67 255.54 154.65 256.29 152.62 257.03 150.59 257.76 148.55 258.47 146.5 259.16 144.46 259.84 142.4 260.51 140.35 261.17 138.29 261.83 136.23 262.47 134.16 263.11 132.1 263.75 130.03 264.38" clip-path="url(#pe54c856542)" style="fill: none; stroke-dasharray: 3.88,1.68; stroke-dashoffset: 0; stroke: #1f77b4; stroke-width: 1.05"/></g><g id="line2d_76"><path d="M 130.03 264.38 L 132.04 265.04 134.05 265.7 136.07 266.36 138.08 267.02 140.09 267.67 142.11 268.32 144.12 268.96 146.14 269.6 148.16 270.23 150.18 270.85 152.21 271.47 154.23 272.07 156.26 272.68 158.29 273.28 160.32 273.88 162.34 274.48 164.37 275.08 166.4 275.69 168.43 276.3 170.45 276.91 172.48 277.53 174.5 278.16 176.52 278.8 178.54 279.43 180.56 280.06 182.58 280.68 184.61 281.29 186.64 281.88 188.68 282.45 190.73 282.98 192.78 283.49 194.84 283.97 196.9 284.42 198.97 284.86 201.05 285.28 203.13 285.68 205.21 286.08 207.29 286.46 209.38 286.85" clip-path="url(#pe54c856542)" style="fill: none; stroke-dasharray: 3.88,1.68; stroke-dashoffset: 0; stroke: #1f77b4; stroke-width: 1.05"/></g><g id="line2d_77"><path d="M 209.38 286.85 L 207.38 287.22 205.38 287.58 203.38 287.95 201.38 288.31 199.38 288.67 197.38 289.03 195.37 289.39 193.37 289.74 191.37 290.08 189.36 290.43 187.36 290.76 185.35 291.09 183.35 291.41 181.34 291.73 179.33 292.04 177.32 292.34 175.31 292.63 173.29 292.92 171.28 293.2 169.26 293.47 167.25 293.73 165.23 293.99 163.21 294.23 161.19 294.46 159.17 294.68 157.15 294.89 155.12 295.08 153.1 295.25 151.07 295.4 149.04 295.53 147.01 295.64 144.98 295.74 142.95 295.81 140.92 295.88 138.89 295.93 136.85 295.97 134.82 296 132.79 296.04 130.75 296.06" clip-path="url(#pe54c856542)" style="fill: none; stroke-dasharray: 3.88,1.68; stroke-dashoffset: 0; stroke: #1f77b4; stroke-width: 1.05"/></g><g id="line2d_78"><path d="M 130.18 296.35 L 130.18 307.01" clip-path="url(#pe54c856542)" style="fill: none; stroke-dasharray: 3.88,1.68; stroke-dashoffset: 0; stroke: #1f77b4; stroke-width: 1.05"/></g></g><g id="axes_9"><g id="patch_86"><path d="M 287.54 340.3 L 367.34 340.3 367.34 208.28 287.54 208.28 287.54 340.3 z" style="fill: none"/></g><g id="patch_87"><path d="M 287.54 207.99 L 367.6 207.99 367.6 340.47 312.5 340.47 309.91 337.88 309.91 337.59 306.45 334.14 306.45 333.85 303.28 330.68 303.28 330.39 299.83 326.94 299.83 326.65 296.66 323.48 296.66 323.19 293.2 319.74 293.2 319.45 289.75 315.99 289.75 315.71 287.25 313.21 287.25 207.99 287.54 207.99 z" clip-path="url(#p68291be35b)" style="fill: #f3f3f3"/></g><g id="patch_88"><path d="M 319.8 207.99 L 325.08 210.59 330.16 212.75 336.5 215.76 338.8 216.53 340.82 216.84 343.41 216.75 346.29 216.35 353.49 214.66 355.98 213.75 362.71 210.66 366.16 209.61 367.32 209.36 367.48 210.59 367.32 211.2 363.03 212.6 356.08 215.96 353.49 216.97 348.6 218.2 345.72 218.78 343.12 219.1 340.82 219.17 338.52 218.76 336.21 217.93 327.28 213.56 319.8 209.22 319.64 208.57 319.8 207.99 z M 342.84 224.39 L 343.15 224.41 342.84 224.39 z M 343.41 224.57 L 345 224.99 354.07 228.08 367.32 232.96 367.52 233.91 367.39 235.07 367.32 235.19 354.07 229.7 344.41 225.27 343.27 224.7 343.41 224.57 z M 287.54 241.83 L 293.51 242.27 295.03 242.55 287.54 243.16 287.34 242.55 287.54 241.83 z M 301.08 253.77 L 316.92 253.78 321.52 254.25 326.14 254.94 328.8 255.51 329.02 255.8 327.21 256.09 316.63 256.56 300.79 256.55 293.79 255.8 292.01 255.51 291.28 255.26 291.28 255.15 291.55 254.94 292.98 254.65 301.08 253.77 z M 287.54 258.17 L 299.35 259.08 310.87 260.66 314.61 261.48 319.25 262.71 322.92 263.87 323.65 264.15 323.83 264.44 313.7 263.58 303.96 263.14 300.21 263.15 299.32 263.29 311.51 264.73 320.23 266.17 321.71 266.46 321.52 266.55 311.73 266.08 306.55 265.98 296.18 266.15 287.54 266.58 287.29 260.7 287.35 258.97 287.54 258.17 z M 365.01 264.13 L 367.32 263.92 367.48 264.73 367.58 266.75 367.6 284.46 367.03 285.03 366.74 285.03 365.88 285.61 365.3 285.61 365.01 285.9 361.84 285.9 361.56 285.61 360.12 285.61 359.83 285.32 358.96 285.32 358.68 285.03 357.81 285.03 357.52 284.75 356.66 284.75 356.37 284.46 355.51 284.46 355.22 284.17 354.36 284.17 354.07 283.88 353.2 283.88 352.92 283.59 351.76 283.59 351.48 283.31 350.04 283.31 349.75 283.02 341.68 283.02 341.4 283.31 339.09 283.31 338.8 283.59 336.5 283.59 336.21 283.88 333.33 283.88 333.04 284.17 329.3 284.17 329.01 284.46 326.71 284.46 326.42 284.75 325.27 284.75 324.98 285.03 324.12 285.03 323.83 285.32 323.25 285.32 322.96 285.61 322.68 285.61 322.39 285.9 321.81 285.9 321.52 286.19 321.24 286.19 320.95 286.47 320.66 286.47 320.37 286.76 320.08 286.76 319.8 287.05 319.51 287.05 318.64 287.63 317.78 287.63 317.49 287.91 314.32 287.91 313.46 287.34 312.88 287.32 311.73 287.91 311.13 288.06 311.12 287.77 311.51 287.19 313 285.47 315.19 283.27 317.49 281.3 322.39 277.54 326.42 275.3 330.74 273.21 334.2 271.85 341.97 269.78 348.8 268.47 337.94 267.7 335.64 267.29 336.5 267 339.67 266.67 339.96 266.46 341.19 266.17 365.01 264.13 z M 287.54 285.02 L 293.01 285.39 299.35 286.06 302.01 286.62 306.14 287.77 305.68 287.89 301.65 287.63 293.59 287.45 287.54 287.53 287.38 286.33 287.54 285.02 z M 308.56 290.03 L 314.04 289.86 318.07 290.49 327.42 292.38 340.06 294.11 355.86 295.83 367.32 296.6 367.56 297.27 367.46 302.75 367.32 302.89 364.44 302.89 364.15 303.18 350.04 303.18 349.75 303.47 341.97 303.47 341.68 303.75 335.35 303.75 335.06 304.04 333.62 304.04 333.33 304.33 332.18 304.33 331.89 304.62 330.45 304.62 330.16 304.91 328.72 304.91 328.44 305.19 327.28 305.19 327 305.48 325.56 305.48 325.27 305.77 324.12 305.77 323.83 306.06 322.39 306.06 322.1 306.35 320.95 306.35 320.66 306.63 319.51 306.63 319.22 306.92 318.07 306.92 317.78 307.21 316.63 307.21 316.34 307.5 315.19 307.5 314.9 307.79 313.75 307.79 313.46 308.07 312.31 308.07 312.02 308.36 311.16 308.36 310.87 308.65 309.72 308.65 309.43 308.94 308.56 308.94 308.28 309.23 307.12 309.23 306.84 309.51 305.97 309.51 305.68 309.8 304.53 309.8 304.24 310.09 303.38 310.09 303.09 310.38 301.94 310.38 301.65 310.67 300.79 310.67 300.5 310.95 299.06 310.95 298.77 311.24 295.6 311.24 295.32 311.53 292.15 311.53 291.86 311.82 288.12 311.82 287.97 311.67 287.97 311.39 289.99 309.37 289.99 309.08 305.97 293.1 306.26 293.1 308.42 290.94 308.35 290.65 307.67 290.36 308.56 290.03 z M 309.04 290.94 L 309.14 291.04 309.55 290.94 309.14 290.85 309.04 290.94 z" clip-path="url(#p68291be35b)" style="fill: #d9d9d9"/></g><g id="patch_89"><path d="M 364.15 211.15 L 363.93 211.16 364.15 211.15 z M 363 211.44 L 363.62 211.45 361.84 212.24 356.73 214.91 354.06 216.06 347.21 217.79 343.7 218.34 341.97 218.45 339.95 218.36 338.62 218.07 336.92 217.5 329.15 213.75 326.63 212.31 327.07 212.31 330.08 213.47 335.06 215.88 337.36 216.83 339.38 217.39 341.68 217.57 343.99 217.41 346.29 217.07 353.78 215.3 356.08 214.47 363 211.44 z M 355.22 229.29 L 354.96 229.31 355.22 229.29 z M 355.8 229.55 L 356.12 229.59 355.8 229.55 z M 356.37 229.81 L 356.92 229.88 356.66 229.96 356.29 229.88 356.37 229.81 z M 356.95 230.14 L 357.69 230.17 367.08 233.63 367.32 233.73 367.32 234.43 356.95 230.14 z M 287.54 242.31 L 288.62 242.55 287.54 242.67 287.54 242.31 z M 300.79 254.65 L 316.63 254.62 318.99 254.94 319.66 255.23 318.58 255.51 316.63 255.7 301.08 255.7 299.65 255.51 298.73 255.23 299.13 254.94 300.79 254.65 z M 287.54 259 L 296.18 259.61 303.56 260.41 311.16 261.56 313.38 262.14 314.01 262.43 313.17 262.59 311.16 262.61 299.64 262.22 287.54 262.29 287.38 260.7 287.54 259 z M 360.69 266.15 L 367.32 265.91 367.54 267.03 367.46 268.19 367.55 270.2 367.49 273.08 367.32 274.11 361.56 274.18 355.22 274.59 336.21 276.83 331.24 278.27 326.66 279.99 319.64 283.16 312.88 286.9 312.31 287.1 312.21 286.91 313.11 285.75 315.19 283.69 318.07 281.3 321.52 278.71 322.96 277.79 326.13 276.09 331.03 273.79 334.2 272.6 342.84 270.33 348.88 269.2 355.38 268.47 353.55 268.19 345.72 268 342.55 267.79 338.11 267.32 339.09 267.03 345.43 266.54 360.69 266.15 z M 309.43 290.32 L 311.44 290.16 314.32 290.19 318.07 290.79 329.15 292.95 349.88 295.55 359.26 296.41 367.32 296.9 367.48 297.56 367.32 298.09 358.96 297.66 349.17 296.82 336.5 295.38 329.59 294.5 326.13 293.92 318.77 292.38 313.75 291.6 311.16 291.05 309.63 290.65 309.21 290.36 309.43 290.32 z" clip-path="url(#p68291be35b)" style="fill: #bfbfbf"/></g><g id="patch_90"><path d="M 287.54 259.64 L 293.65 260.12 298.28 260.7 299.67 260.99 298.98 261.27 287.54 261.64 287.54 259.64 z M 358.39 266.45 L 367.32 266.24 367.51 267.03 367.36 268.19 367.52 270.2 367.32 272.2 362.54 272.22 361.84 272.37 358.53 272.51 350.08 273.37 344.86 274.23 339.82 275.39 332.52 277.4 328.42 278.84 320.67 282.3 313.75 286.09 313.46 286.18 313.29 286.04 314.25 284.89 316.05 283.25 319.22 280.74 322.1 278.7 327.57 275.79 333.04 273.47 339.96 271.49 346.58 270.05 350.9 269.42 363.41 268.19 345.72 267.78 340.64 267.32 341.77 267.03 345.43 266.77 358.39 266.45 z M 312.6 290.36 L 315.48 290.57 327.86 292.96 336.21 294.12 353.78 296.16 367.32 297.14 367.4 297.56 367.32 297.86 367.1 297.85 354.07 297.02 343.12 295.92 329.59 294.25 311.85 290.94 310.87 290.65 311.44 290.43 312.6 290.36 z" clip-path="url(#p68291be35b)" style="fill: #a6a6a6"/></g><g id="patch_91"><path d="M 367.03 266.45 L 367.32 266.45 367.42 266.75 367.48 267.32 367.32 268.09 346.44 267.61 343.17 267.32 344.43 267.03 345.72 266.94 367.03 266.45 z M 362.13 268.75 L 367.32 268.57 367.48 270.2 367.32 271.72 360.69 271.98 350.04 273.02 344.52 273.95 339.55 275.1 332.33 277.11 328.34 278.55 320.7 282.01 314.9 285.21 314.61 285.3 314.37 285.18 315.44 284.03 317.78 282.12 322.39 278.81 328.15 275.84 333.04 273.82 340.24 271.78 346.87 270.36 353.49 269.5 362.13 268.75 z M 312.6 290.63 L 314.04 290.58 316.34 290.9 327.28 293.07 337.36 294.49 352.05 296.26 357.81 296.84 360.59 296.99 360.12 297.11 356.66 296.99 349.78 296.41 329.94 294.11 326.38 293.53 317.49 291.72 314.04 291.21 312.85 290.94 312.41 290.65 312.6 290.63 z M 360.98 297.21 L 364.52 297.27 360.98 297.21 z" clip-path="url(#p68291be35b)" style="fill: #8c8c8c"/></g><g id="patch_92"><path d="M 360.69 266.74 L 367.32 266.6 367.44 267.32 367.32 267.92 345.84 267.32 349.2 267.03 360.69 266.74 z M 362.13 269.04 L 367.32 268.86 367.45 270.2 367.32 271.43 360.98 271.67 350.9 272.63 345.98 273.37 340.69 274.52 333.29 276.54 329.11 277.98 320.95 281.66 315.99 284.31 315.56 284.31 318.64 281.68 322.68 278.88 328.72 275.84 333.91 273.81 341.4 271.79 347.16 270.6 353.49 269.79 362.13 269.04 z" clip-path="url(#p68291be35b)" style="fill: #737373"/></g><g id="patch_93"><path d="M 355.8 267.03 L 367.32 266.75 367.4 267.32 367.32 267.78 359.76 267.61 352.1 267.32 355.8 267.03 z M 361.56 269.33 L 367.32 269.12 367.41 270.2 367.32 271.17 360.69 271.43 351.19 272.34 346.58 273 342.02 273.95 336.43 275.39 330.76 277.11 325.86 279.13 318.07 282.89 317.78 282.97 317.62 282.87 320.05 280.86 322.68 279.1 328.72 276.09 333.91 274.07 341.11 272.12 346.87 270.91 351.19 270.29 361.56 269.33 z" clip-path="url(#p68291be35b)" style="fill: #595959"/></g><g id="patch_94"><path d="M 362.13 267.03 L 367.32 266.9 367.37 267.32 367.32 267.63 358.36 267.32 362.13 267.03 z M 360.98 269.62 L 367.32 269.37 367.32 270.91 360.98 271.16 353.49 271.84 348.31 272.47 342.84 273.51 337.08 274.96 331.32 276.67 327.57 278.14 320.37 281.45 319.8 281.62 319.74 281.43 322.5 279.42 326.42 277.39 331.03 275.35 335.19 273.95 341.75 272.22 347.43 271.07 351.68 270.49 360.98 269.62 z" clip-path="url(#p68291be35b)" style="fill: #3f3f3f"/></g><g id="patch_95"><path d="M 364.72 267.31 L 367.32 267.11 367.33 267.32 367.32 267.42 364.72 267.31 z M 360.69 269.91 L 367.32 269.65 367.32 270.63 360.98 270.88 354.07 271.5 348.88 272.1 343.99 272.98 338.23 274.36 332.18 276.1 327.57 277.86 322.43 280.28 321.81 280.4 321.72 280.28 322.47 279.71 324.62 278.55 330.17 275.96 333.25 274.81 338.24 273.37 344.27 271.93 349.18 271.07 360.69 269.91 z" clip-path="url(#p68291be35b)" style="fill: #262626"/></g><g id="matplotlib.axis_17"><g id="xtick_18"><g id="line2d_79"><g><use xlink:href="#m3f14504601" x="287.54" y="340.3" style="stroke: #000000; stroke-width: 0.84"/></g></g><g id="text_28"><text style="font-size: 8.4px; font-family: 'DejaVu Sans', sans-serif; text-anchor: middle" x="287.54" y="354.03" transform="rotate(-0 287.54 354.03)">-1.0</text></g></g><g id="xtick_19"><g id="line2d_80"><g><use xlink:href="#m3f14504601" x="327.46" y="340.3" style="stroke: #000000; stroke-width: 0.84"/></g></g><g id="text_29"><text style="font-size: 8.4px; font-family: 'DejaVu Sans', sans-serif; text-anchor: middle" x="327.46" y="354.03" transform="rotate(-0 327.46 354.03)">-0.5</text></g></g><g id="xtick_20"><g id="line2d_81"><g><use xlink:href="#m3f14504601" x="367.34" y="340.3" style="stroke: #000000; stroke-width: 0.84"/></g></g><g id="text_30"><text style="font-size: 8.4px; font-family: 'DejaVu Sans', sans-serif; text-anchor: middle" x="367.34" y="354.03" transform="rotate(-0 367.34 354.03)">0</text></g></g></g><g id="matplotlib.axis_18"><g id="ytick_11"><g id="line2d_82"><g><use xlink:href="#m9aed2ce525" x="287.54" y="214.91" style="stroke: #000000; stroke-width: 0.84"/></g></g><g id="text_31"><text style="font-size: 8.4px; font-family: 'DejaVu Sans', sans-serif; text-anchor: end" x="280.19" y="218.1" transform="rotate(-0 280.19 218.1)">1.4</text></g></g><g id="ytick_12"><g id="line2d_83"><g><use xlink:href="#m9aed2ce525" x="287.54" y="267.84" style="stroke: #000000; stroke-width: 0.84"/></g></g><g id="text_32"><text style="font-size: 8.4px; font-family: 'DejaVu Sans', sans-serif; text-anchor: end" x="280.19" y="271.03" transform="rotate(-0 280.19 271.03)">1.0</text></g></g><g id="ytick_13"><g id="line2d_84"><g><use xlink:href="#m9aed2ce525" x="287.54" y="320.77" style="stroke: #000000; stroke-width: 0.84"/></g></g><g id="text_33"><text style="font-size: 8.4px; font-family: 'DejaVu Sans', sans-serif; text-anchor: end" x="280.19" y="323.97" transform="rotate(-0 280.19 323.97)">0.6</text></g></g></g><g id="patch_96"><path d="M 287.54 340.3 L 287.54 208.28" style="fill: none; stroke: #000000; stroke-width: 0.84; stroke-linejoin: miter; stroke-linecap: square"/></g><g id="patch_97"><path d="M 367.34 340.3 L 367.34 208.28" style="fill: none; stroke: #000000; stroke-width: 0.84; stroke-linejoin: miter; stroke-linecap: square"/></g><g id="patch_98"><path d="M 287.54 340.3 L 367.34 340.3" style="fill: none; stroke: #000000; stroke-width: 0.84; stroke-linejoin: miter; stroke-linecap: square"/></g><g id="patch_99"><path d="M 287.54 208.28 L 367.34 208.28" style="fill: none; stroke: #000000; stroke-width: 0.84; stroke-linejoin: miter; stroke-linecap: square"/></g><g id="line2d_85"><path d="M 287.54 313.5 L 289.17 311.73 290.8 309.96 292.43 308.19 294.05 306.42 295.68 304.65 297.31 302.88 298.94 301.11 300.57 299.34 302.2 297.58 303.83 295.81 305.45 294.04 307.08 292.27 308.71 290.5 310.34 288.73 311.97 286.96 313.6 285.19 315.23 283.42 316.86 281.65 318.48 279.89 320.11 278.12 321.74 276.35 323.37 274.58 325 272.81 326.63 271.04 328.26 269.27 329.88 267.5 331.51 265.73 333.14 263.96 334.77 262.2 336.4 260.43 338.03 258.66 339.66 256.89 341.29 255.12 342.91 253.35 344.54 251.58 346.17 249.81 347.8 248.04 349.43 246.27 351.06 244.51 352.69 242.74 354.31 240.97 355.94 239.2 357.57 237.43 359.2 235.66 360.83 233.89 362.46 232.12 364.09 230.35 365.72 228.58 367.34 226.82" clip-path="url(#p68291be35b)" style="fill: none; stroke: #808080; stroke-width: 0.53; stroke-linecap: square"/></g><g id="line2d_86"><path d="M 287.54 313.5 L 289.17 315.26 290.8 317.03 292.43 318.8 294.05 320.57 295.68 322.34 297.31 324.11 298.94 325.88 300.57 327.65 302.2 329.42 303.83 331.19 305.45 332.95 307.08 334.72 308.71 336.49 310.34 338.26 311.97 340.03 313.6 341.8 315.23 343.57 316.86 345.34 318.48 347.11 320.11 348.88 321.74 350.64 323.37 352.41 325 354.18 326.63 355.95 328.26 357.72 329.88 359.49 331.51 361.26 333.14 363.03 334.77 364.8 336.4 366.57 338.03 368.33 339.66 370.1 341.29 371.87 342.91 373.64 343.21 373.96" clip-path="url(#p68291be35b)" style="fill: none; stroke: #808080; stroke-width: 0.53; stroke-linecap: square"/></g><g id="line2d_87"><path d="M 287.54 140.14 L 289.17 141.9 290.8 143.67 292.43 145.44 294.05 147.21 295.68 148.98 297.31 150.75 298.94 152.52 300.57 154.29 302.2 156.06 303.83 157.83 305.45 159.59 307.08 161.36 308.71 163.13 310.34 164.9 311.97 166.67 313.6 168.44 315.23 170.21 316.86 171.98 318.48 173.75 320.11 175.52 321.74 177.28 323.37 179.05 325 180.82 326.63 182.59 328.26 184.36 329.88 186.13 331.51 187.9 333.14 189.67 334.77 191.44 336.4 193.21 338.03 194.97 339.66 196.74 341.29 198.51 342.91 200.28 344.54 202.05 346.17 203.82 347.8 205.59 349.43 207.36 351.06 209.13 352.69 210.9 354.31 212.66 355.94 214.43 357.57 216.2 359.2 217.97 360.83 219.74 362.46 221.51 364.09 223.28 365.72 225.05 367.34 226.82" clip-path="url(#p68291be35b)" style="fill: none; stroke: #808080; stroke-width: 0.53; stroke-linecap: square"/></g><g id="line2d_88"><path d="M 317.95 207.94 L 367.06 242.5" clip-path="url(#p68291be35b)" style="fill: none; stroke: #ff7f0e; stroke-width: 1.05; stroke-linecap: square"/></g><g id="line2d_89"><path d="M 367.06 242.5 L 314.21 284.54" clip-path="url(#p68291be35b)" style="fill: none; stroke: #ff7f0e; stroke-width: 1.05; stroke-linecap: square"/></g><g id="line2d_90"><path d="M 287.86 250.56 L 289.93 249.64 292 248.73 294.07 247.8 296.13 246.88 298.19 245.94 300.25 244.99 302.3 244.04 304.35 243.07 306.39 242.08 308.42 241.08 310.44 240.07 312.46 239.04 314.47 238.01 316.49 236.97 318.5 235.94 320.52 234.91 322.54 233.89 324.56 232.88 326.6 231.89 328.65 230.92 330.7 229.97 332.77 229.05 334.85 228.14 336.93 227.24 339.01 226.35 341.1 225.46 343.18 224.56 345.25 223.64 347.31 222.71 349.35 221.75 351.39 220.75 353.4 219.72 355.39 218.65 357.36 217.54 359.32 216.4 361.26 215.24 363.2 214.07 365.13 212.88 367.06 211.68" clip-path="url(#p68291be35b)" style="fill: none; stroke-dasharray: 3.88,1.68; stroke-dashoffset: 0; stroke: #ff7f0e; stroke-width: 1.05"/></g><g id="line2d_91"><path d="M 367.06 211.68 L 360.58 207.94" clip-path="url(#p68291be35b)" style="fill: none; stroke-dasharray: 3.88,1.68; stroke-dashoffset: 0; stroke: #ff7f0e; stroke-width: 1.05"/></g><g id="line2d_92"><path d="M 287.86 250.85 L 289.82 251.49 291.79 252.14 293.76 252.78 295.73 253.42 297.7 254.06 299.67 254.69 301.64 255.31 303.62 255.94 305.59 256.55 307.57 257.16 309.55 257.75 311.54 258.34 313.52 258.92 315.51 259.49 317.51 260.05 319.5 260.6 321.5 261.14 323.5 261.67 325.51 262.18 327.52 262.69 329.53 263.18 331.55 263.66 333.56 264.12 335.59 264.57 337.61 265 339.64 265.4 341.68 265.79 343.72 266.15 345.76 266.49 347.8 266.8 349.85 267.08 351.91 267.34 353.96 267.57 356.02 267.79 358.08 267.99 360.14 268.18 362.21 268.36 364.27 268.53 366.34 268.7" clip-path="url(#p68291be35b)" style="fill: none; stroke-dasharray: 3.88,1.68; stroke-dashoffset: 0; stroke: #ff7f0e; stroke-width: 1.05"/></g><g id="line2d_93"><path d="M 367.06 268.7 L 367.06 283.97" clip-path="url(#p68291be35b)" style="fill: none; stroke-dasharray: 3.88,1.68; stroke-dashoffset: 0; stroke: #ff7f0e; stroke-width: 1.05"/></g><g id="line2d_94"><path d="M 287.86 212.54 L 297.79 207.94" clip-path="url(#p68291be35b)" style="fill: none; stroke-dasharray: 3.88,1.68; stroke-dashoffset: 0; stroke: #1f77b4; stroke-width: 1.05"/></g><g id="line2d_95"><path d="M 287.86 212.54 L 289.88 213.52 291.91 214.49 293.94 215.47 295.96 216.44 297.99 217.4 300.03 218.36 302.06 219.32 304.1 220.27 306.14 221.21 308.19 222.14 310.23 223.07 312.29 223.98 314.35 224.88 316.41 225.77 318.47 226.66 320.54 227.54 322.61 228.41 324.69 229.28 326.76 230.15 328.83 231.02 330.9 231.89 332.97 232.77 335.04 233.65 337.11 234.54 339.17 235.44 341.23 236.36 343.27 237.28 345.32 238.23 347.35 239.19 349.37 240.18 351.37 241.18 353.37 242.22 355.35 243.28 357.32 244.36 359.28 245.46 361.23 246.58 363.18 247.71 365.12 248.84 367.06 249.98" clip-path="url(#p68291be35b)" style="fill: none; stroke-dasharray: 3.88,1.68; stroke-dashoffset: 0; stroke: #1f77b4; stroke-width: 1.05"/></g><g id="line2d_96"><path d="M 367.06 249.98 L 364.97 250.68 362.89 251.39 360.81 252.1 358.73 252.83 356.67 253.57 354.61 254.34 352.56 255.13 350.53 255.96 348.52 256.81 346.52 257.71 344.53 258.65 342.57 259.62 340.61 260.61 338.65 261.61 336.7 262.62 334.75 263.63 332.79 264.62 330.83 265.6 328.85 266.54 326.85 267.45 324.84 268.34 322.82 269.19 320.79 270.02 318.75 270.83 316.7 271.63 314.65 272.41 312.59 273.18 310.53 273.94 308.47 274.69 306.4 275.44 304.34 276.2 302.28 276.95 300.22 277.71 298.16 278.46 296.09 279.22 294.03 279.97 291.97 280.73 289.92 281.48 287.86 282.24" clip-path="url(#p68291be35b)" style="fill: none; stroke-dasharray: 3.88,1.68; stroke-dashoffset: 0; stroke: #1f77b4; stroke-width: 1.05"/></g><g id="line2d_97"><path d="M 287.86 282.53 L 289.84 283.04 291.83 283.54 293.82 284.05 295.8 284.56 297.79 285.07 299.78 285.59 301.76 286.11 303.74 286.63 305.73 287.16 307.71 287.69 309.69 288.23 311.67 288.76 313.66 289.3 315.64 289.83 317.62 290.35 319.61 290.86 321.6 291.36 323.6 291.84 325.59 292.3 327.6 292.74 329.6 293.15 331.62 293.54 333.64 293.9 335.66 294.23 337.69 294.53 339.73 294.81 341.77 295.07 343.81 295.3 345.85 295.51 347.89 295.7 349.94 295.87 351.99 296.01 354.04 296.14 356.09 296.25 358.14 296.34 360.19 296.43 362.24 296.5 364.29 296.57 366.34 296.64" clip-path="url(#p68291be35b)" style="fill: none; stroke-dasharray: 3.88,1.68; stroke-dashoffset: 0; stroke: #1f77b4; stroke-width: 1.05"/></g><g id="line2d_98"><path d="M 367.06 296.93 L 367.06 307.01" clip-path="url(#p68291be35b)" style="fill: none; stroke-dasharray: 3.88,1.68; stroke-dashoffset: 0; stroke: #1f77b4; stroke-width: 1.05"/></g></g><g id="axes_10"><g id="patch_100"><path d="M 379.15 340.3 L 458.96 340.3 458.96 208.28 379.15 208.28 379.15 340.3 z" style="fill: none"/></g><g id="patch_101"><path d="M 379.15 207.99 L 459.22 207.99 459.22 331.93 458.64 332.51 458.35 332.51 456.62 334.23 456.34 334.23 454.9 335.67 454.61 335.67 452.88 337.4 452.59 337.4 450.86 339.13 450.58 339.13 449.23 340.47 378.86 340.47 378.86 207.99 379.15 207.99 z" clip-path="url(#p82ff4634b5)" style="fill: #f3f3f3"/></g><g id="patch_102"><path d="M 379.15 208.46 L 388.94 209.11 396.89 210.3 396.72 210.46 395.28 210.47 379.15 209.72 379 209.15 379.15 208.46 z M 400.18 212.88 L 403.34 212.78 406.69 213.18 407.82 213.47 403.34 213.49 400.18 212.88 z M 456.91 221.24 L 458.93 221.12 459.12 222.39 458.93 223.57 446.54 224.51 441.65 224.66 426.38 224.58 414.14 224.12 409.97 223.83 411.07 223.55 426.38 222.39 456.91 221.24 z M 403.06 231.89 L 406.8 231.87 411.98 232.3 416.3 233.04 421.74 234.2 421.49 234.3 420.34 234.22 403.06 231.89 z M 379.15 233.62 L 394.7 234 404.24 235.07 406.06 235.35 406.22 235.57 406.63 235.64 379.15 235.25 378.96 234.49 379.15 233.62 z M 422.06 234.46 L 422.9 234.49 422.06 234.46 z M 449.71 253.19 L 452.02 253.19 458.93 253.76 459.07 254.07 459.1 254.94 458.93 255.38 451.7 253.79 449.71 253.19 z M 410.54 256.65 L 414.58 256.63 426.38 257.34 440.5 258.64 448.41 259.55 458.93 260.1 459.12 260.99 458.93 261.8 457.14 261.85 458.93 261.96 459.08 262.71 459.15 265.59 458.99 267.9 459.22 269.77 459.22 282.15 459.07 282.3 459.07 282.59 458.06 283.59 457.78 283.59 457.2 284.17 456.91 284.17 456.62 284.46 456.05 284.46 455.76 284.75 454.03 284.75 453.74 285.03 452.02 285.03 451.73 284.75 449.42 284.75 449.14 284.46 447.41 284.46 447.12 284.17 445.68 284.17 445.39 283.88 443.66 283.88 443.38 283.59 441.36 283.59 441.07 283.31 435.89 283.31 435.6 283.59 433.3 283.59 433.01 283.88 431.28 283.88 430.99 284.17 429.55 284.17 429.26 284.46 427.25 284.46 426.96 284.75 424.66 284.75 424.37 285.03 422.35 285.03 422.06 285.32 420.91 285.32 420.62 285.61 419.47 285.61 419.18 285.9 418.32 285.9 418.03 286.19 417.46 286.19 417.17 286.47 416.59 286.47 416.3 286.76 416.02 286.76 415.73 287.05 415.44 287.05 415.15 287.34 414.86 287.34 414.58 287.63 414.29 287.63 414 287.91 413.71 287.91 413.42 288.2 413.14 288.2 412.85 288.49 412.56 288.49 412.27 288.78 411.98 288.78 411.7 289.07 411.41 289.07 410.83 289.64 410.54 289.64 409.68 290.22 409.1 290.22 408.24 290.79 407.38 290.79 407.09 291.08 405.94 291.08 405.65 290.79 405.36 290.79 405.07 290.51 404.78 290.51 404.35 290.07 404.35 289.79 403.78 289.21 403.78 288.92 403.49 288.63 403.49 287.77 403.2 287.48 403.2 285.75 403.06 285.51 385.78 293.12 385.65 292.95 386.22 292.67 404.21 283.75 405.36 282.73 405.65 282.73 405.94 282.44 406.22 282.44 407.09 281.87 407.66 281.87 407.95 281.58 408.53 281.58 408.82 281.29 409.39 281.26 409.68 281 410.26 280.91 426.7 273.37 426.38 273.25 424.22 273.37 406.22 274.74 379.15 275.53 378.96 273.66 379.02 269.34 378.88 267.61 378.96 263.87 379.15 262.49 403.34 263.11 409.68 263.14 426.38 262.95 452.43 262.14 446.83 262.03 438.19 261.18 414.97 257.53 410.54 256.65 z M 424.46 268.19 L 397.99 269.34 404.21 269.5 409.1 269.45 441.15 268.19 436.46 268.04 424.46 268.19 z M 429.17 273.37 L 415.44 279.71 416.02 279.85 416.3 279.51 417.17 279.56 417.46 279.27 418.32 279.27 418.61 278.99 419.18 278.99 419.47 278.7 420.05 278.7 420.34 278.41 420.91 278.41 421.78 277.83 422.35 277.83 422.64 277.55 422.93 277.55 423.22 277.26 423.5 277.26 423.79 276.97 424.08 276.97 424.37 276.68 424.66 276.68 424.94 276.39 425.23 276.39 425.52 276.11 425.81 276.11 426.38 275.53 426.67 275.53 426.96 275.24 427.25 275.24 427.54 274.95 427.82 274.95 428.4 274.38 428.69 274.38 428.98 274.08 429.26 274.08 429.55 273.76 429.84 273.76 430.19 273.37 430.13 273.14 429.17 273.37 z M 385.2 293.2 L 385.49 293.12 385.65 293.24 385.2 293.35 385.09 293.24 385.2 293.2 z M 384.62 293.49 L 385 293.53 384.62 293.6 384.53 293.53 384.62 293.49 z M 384.05 293.79 L 384.35 293.82 384.05 293.79 z M 383.47 294.09 L 383.57 294.11 383.47 294.09 z M 379.73 296.84 L 380.3 296.84 380.59 297.13 380.88 297.13 381.74 297.71 382.32 297.71 382.61 297.99 382.9 297.99 383.18 298.28 383.47 298.28 384.34 298.86 384.91 298.86 385.2 299.15 385.49 299.15 386.35 299.72 386.93 299.72 387.22 300.01 387.5 300.01 387.79 300.3 388.08 300.3 388.37 300.59 388.66 300.59 389.52 301.16 390.1 301.16 390.38 301.45 390.67 301.45 390.96 301.74 391.25 301.74 391.54 302.03 391.82 302.03 392.11 302.31 392.4 302.31 392.69 302.6 392.98 302.6 393.26 302.89 393.55 302.89 393.84 303.18 394.13 303.18 394.42 303.47 394.7 303.47 394.99 303.75 395.28 303.75 395.57 304.04 395.86 304.04 396.14 304.33 396.43 304.33 396.72 304.62 397.01 304.62 397.3 304.91 397.58 304.91 397.87 305.19 398.16 305.19 398.45 305.48 398.74 305.48 399.02 305.77 399.31 305.77 399.6 306.06 399.89 306.06 400.18 306.35 400.46 306.35 400.75 306.63 401.04 306.63 401.33 306.92 401.62 306.92 401.9 307.21 402.19 307.21 402.48 307.5 402.77 307.5 403.06 307.79 403.34 307.79 403.63 308.07 403.92 308.07 404.21 308.36 404.5 308.36 405.07 308.94 405.36 308.94 405.65 309.23 405.94 309.23 406.22 309.51 406.51 309.51 406.8 309.8 407.09 309.8 407.38 310.09 407.66 310.09 407.95 310.38 408.24 310.38 408.53 310.67 408.82 310.67 409.1 310.95 409.39 310.95 409.97 311.53 410.26 311.53 410.54 311.82 410.83 311.82 411.12 312.11 411.41 312.11 411.7 312.39 411.98 312.39 412.27 312.68 412.56 312.68 412.85 312.97 413.14 312.97 413.42 313.26 413.71 313.26 414.29 313.83 414.58 313.83 414.86 314.12 415.15 314.12 415.44 314.41 415.73 314.41 416.02 314.7 416.3 314.7 416.59 314.99 416.88 314.99 417.17 315.27 417.46 315.27 417.74 315.56 418.03 315.56 418.32 315.85 418.61 315.85 418.9 316.14 419.18 316.14 419.47 316.43 419.76 316.43 420.05 316.71 420.34 316.71 420.62 317 420.91 317 421.2 317.29 421.49 317.29 421.78 317.58 422.06 317.58 422.35 317.87 422.64 317.87 422.93 318.15 423.22 318.15 423.5 318.44 423.79 318.44 424.08 318.73 424.37 318.73 424.66 319.02 424.94 319.02 425.23 319.31 425.52 319.31 425.81 319.59 426.1 319.59 426.38 319.88 426.67 319.88 426.96 320.17 427.25 320.17 427.54 320.46 427.82 320.46 428.11 320.75 428.4 320.75 428.69 321.03 428.98 321.03 429.26 321.32 429.55 321.32 429.84 321.61 430.13 321.61 430.42 321.9 430.7 321.9 430.99 322.19 431.28 322.19 431.57 322.47 431.86 322.47 432.14 322.76 432.43 322.76 433.01 323.34 433.3 323.34 433.87 323.91 434.16 323.91 435.02 324.78 435.31 324.78 435.89 325.35 436.18 325.35 436.75 325.93 437.04 325.93 437.62 326.51 437.9 326.51 438.48 327.08 438.77 327.08 439.63 327.95 439.92 327.95 440.5 328.52 440.78 328.52 441.36 329.1 441.65 329.1 442.22 329.67 442.51 329.67 442.94 330.11 442.8 330.25 442.51 330.25 442.22 329.96 441.94 329.96 441.36 329.39 441.07 329.39 440.5 328.81 440.21 328.81 439.92 328.52 439.63 328.52 439.06 327.95 438.77 327.95 438.19 327.37 437.9 327.37 437.33 326.79 437.04 326.79 436.75 326.51 436.46 326.51 435.89 325.93 435.6 325.93 435.02 325.35 434.74 325.35 434.45 325.07 434.16 325.07 433.58 324.49 433.3 324.49 432.72 323.91 432.43 323.91 432.14 323.63 431.86 323.63 431.57 323.34 431.28 323.34 430.99 323.05 430.7 323.05 430.42 322.76 430.13 322.76 429.84 322.47 429.55 322.47 429.26 322.19 428.98 322.19 428.69 321.9 428.4 321.9 428.11 321.61 427.82 321.61 427.54 321.32 427.25 321.32 426.96 321.03 426.67 321.03 426.38 320.75 426.1 320.75 425.81 320.46 425.52 320.46 425.23 320.17 424.94 320.17 424.66 319.88 424.37 319.88 424.08 319.59 423.79 319.59 423.5 319.31 423.22 319.31 422.93 319.02 422.64 319.02 422.35 318.73 422.06 318.73 421.78 318.44 421.49 318.44 421.2 318.15 420.91 318.15 420.62 317.87 420.34 317.87 420.05 317.58 419.76 317.58 419.47 317.29 419.18 317.29 418.9 317 418.61 317 418.32 316.71 418.03 316.71 417.74 316.43 417.46 316.43 416.59 315.85 416.02 315.85 415.73 315.56 415.44 315.56 415.15 315.27 414.86 315.27 414.58 314.99 414.29 314.99 414 314.7 413.71 314.7 413.42 314.41 413.14 314.41 412.85 314.12 412.56 314.12 412.27 313.83 411.98 313.83 411.7 313.55 411.41 313.55 410.54 312.97 409.97 312.97 409.68 312.68 409.39 312.68 409.1 312.39 408.82 312.39 408.53 312.11 408.24 312.11 407.95 311.82 407.66 311.82 407.38 311.53 407.09 311.53 406.22 310.95 405.65 310.95 405.36 310.67 405.07 310.67 404.78 310.38 404.5 310.38 404.21 310.09 403.92 310.09 403.63 309.8 403.34 309.8 403.06 309.51 402.77 309.51 402.48 309.23 402.19 309.23 401.33 308.65 400.75 308.65 400.46 308.36 399.6 308.36 399.31 308.07 398.45 308.07 398.16 307.79 397.3 307.79 397.01 307.5 395.86 307.5 395.57 307.21 394.7 307.21 394.42 306.92 393.26 306.92 392.98 306.63 392.11 306.63 391.82 306.35 390.67 306.35 390.38 306.06 389.23 306.06 388.94 305.77 387.79 305.77 387.5 305.48 386.35 305.48 386.06 305.19 384.91 305.19 384.62 304.91 383.47 304.91 383.18 304.62 381.74 304.62 381.46 304.33 380.02 304.33 379.58 303.9 379.58 296.99 379.73 296.84 z M 443.09 330.25 L 443.38 330.25 443.81 330.68 443.66 330.83 443.38 330.83 442.94 330.39 443.09 330.25 z M 443.95 330.83 L 444.1 330.97 443.95 331.11 443.81 330.97 443.95 330.83 z M 444.24 331.11 L 444.53 331.11 444.67 331.26 444.53 331.4 444.24 331.4 444.1 331.26 444.24 331.11 z M 444.82 331.4 L 444.96 331.55 444.82 331.69 444.67 331.55 444.82 331.4 z M 445.1 331.69 L 445.39 331.69 445.54 331.83 445.39 331.98 445.1 331.98 444.96 331.83 445.1 331.69 z M 445.68 331.98 L 445.82 332.12 445.68 332.27 445.54 332.12 445.68 331.98 z M 446.26 332.27 L 446.4 332.41 446.26 332.55 446.11 332.41 446.26 332.27 z M 446.54 332.55 L 446.69 332.7 446.54 332.84 446.4 332.7 446.54 332.55 z M 447.12 332.84 L 447.26 332.99 447.12 333.13 446.98 332.99 447.12 332.84 z M 447.41 333.13 L 447.55 333.27 447.41 333.42 447.26 333.27 447.41 333.13 z" clip-path="url(#p82ff4634b5)" style="fill: #d9d9d9"/></g><g id="patch_103"><path d="M 452.3 222.39 L 458.35 222.33 458.93 222.4 457.27 222.68 451.86 223.26 443.66 223.82 433.3 223.58 432.67 223.55 432.55 223.26 443.38 222.58 452.3 222.39 z M 421.2 257.78 L 423.79 257.74 428.98 258.08 440.78 259.13 448.85 260.06 458.06 260.68 458.93 260.99 457.2 261.27 450.86 261.61 446.83 261.47 440.78 261.02 435.31 260.28 427.24 258.97 422.27 258.11 421.2 257.78 z M 449.14 263.58 L 458.93 263.33 459.03 265.02 458.93 266.6 426.38 266.82 408.53 267.61 397.3 267.88 397.2 267.9 397.48 268.19 395.28 268.67 390.38 269.13 386.06 269.32 379.15 269.09 378.94 268.19 379.15 263.93 408.53 264.5 426.38 264.25 449.14 263.58 z M 458.64 269.34 L 458.93 269.33 458.93 270.95 433.3 271.13 426.45 271.07 427.77 270.78 436.61 270.2 458.64 269.34 z M 379.15 270.69 L 404.78 271.3 422.06 270.88 426.27 271.07 415.47 272.22 407.09 272.89 379.15 273.63 379.15 270.69 z" clip-path="url(#p82ff4634b5)" style="fill: #bfbfbf"/></g><g id="patch_104"><path d="M 431.28 258.94 L 433.67 258.97 440.78 259.51 450.68 260.7 452.04 260.99 447.41 261.07 440.5 260.62 433.53 259.55 432.09 259.26 431.08 258.97 431.28 258.94 z M 379.15 265.35 L 389.94 265.88 391.03 266.17 386.64 266.56 386.55 266.75 388.08 266.82 388.44 267.03 394.99 267.88 395.58 268.19 393.55 268.59 389.23 268.92 385.78 269.02 379.15 268.78 378.95 267.61 379.15 265.35 z" clip-path="url(#p82ff4634b5)" style="fill: #a6a6a6"/></g><g id="patch_105"><path d="M 379.15 266.55 L 386.06 266.89 393.14 267.9 393.75 268.19 390.96 268.61 386.06 268.79 379.15 268.56 378.98 267.61 379.15 266.55 z" clip-path="url(#p82ff4634b5)" style="fill: #8c8c8c"/></g><g id="patch_106"><path d="M 379.15 266.75 L 386.06 267.09 391.3 267.9 391.92 268.19 389.98 268.47 386.06 268.61 379.15 268.38 379.02 267.61 379.15 266.75 z" clip-path="url(#p82ff4634b5)" style="fill: #737373"/></g><g id="patch_107"><path d="M 379.15 266.91 L 386.06 267.25 389.83 267.9 390.07 268.19 386.06 268.44 379.15 268.21 379.05 267.61 379.15 266.91 z" clip-path="url(#p82ff4634b5)" style="fill: #595959"/></g><g id="patch_108"><path d="M 379.15 267.07 L 385.78 267.41 388.4 267.9 387.55 268.19 386.06 268.26 379.15 268.04 379.15 267.07 z" clip-path="url(#p82ff4634b5)" style="fill: #3f3f3f"/></g><g id="patch_109"><path d="M 379.15 267.25 L 385.78 267.6 386.78 267.9 385.78 268.03 379.15 267.86 379.15 267.25 z" clip-path="url(#p82ff4634b5)" style="fill: #262626"/></g><g id="matplotlib.axis_19"><g id="xtick_21"><g id="line2d_99"><g><use xlink:href="#m3f14504601" x="379.15" y="340.3" style="stroke: #000000; stroke-width: 0.84"/></g></g><g id="text_34"><text style="font-size: 8.4px; font-family: 'DejaVu Sans', sans-serif; text-anchor: middle" x="379.15" y="354.03" transform="rotate(-0 379.15 354.03)">0</text></g></g><g id="xtick_22"><g id="line2d_100"><g><use xlink:href="#m3f14504601" x="419.04" y="340.3" style="stroke: #000000; stroke-width: 0.84"/></g></g><g id="text_35"><text style="font-size: 8.4px; font-family: 'DejaVu Sans', sans-serif; text-anchor: middle" x="419.04" y="354.03" transform="rotate(-0 419.04 354.03)">0.5</text></g></g><g id="xtick_23"><g id="line2d_101"><g><use xlink:href="#m3f14504601" x="458.96" y="340.3" style="stroke: #000000; stroke-width: 0.84"/></g></g><g id="text_36"><text style="font-size: 8.4px; font-family: 'DejaVu Sans', sans-serif; text-anchor: middle" x="458.96" y="354.03" transform="rotate(-0 458.96 354.03)">1.0</text></g></g></g><g id="matplotlib.axis_20"/><g id="patch_110"><path d="M 379.15 340.3 L 379.15 208.28" style="fill: none; stroke: #000000; stroke-width: 0.84; stroke-linejoin: miter; stroke-linecap: square"/></g><g id="patch_111"><path d="M 458.96 340.3 L 458.96 208.28" style="fill: none; stroke: #000000; stroke-width: 0.84; stroke-linejoin: miter; stroke-linecap: square"/></g><g id="patch_112"><path d="M 379.15 340.3 L 458.96 340.3" style="fill: none; stroke: #000000; stroke-width: 0.84; stroke-linejoin: miter; stroke-linecap: square"/></g><g id="patch_113"><path d="M 379.15 208.28 L 458.96 208.28" style="fill: none; stroke: #000000; stroke-width: 0.84; stroke-linejoin: miter; stroke-linecap: square"/></g><g id="line2d_102"><path d="M 379.15 264.13 L 380.78 262.75 382.41 261.36 384.04 259.97 385.67 258.58 387.3 257.19 388.92 255.81 390.55 254.42 392.18 253.03 393.81 251.64 395.44 250.25 397.07 248.86 398.7 247.48 400.32 246.09 401.95 244.7 403.58 243.31 405.21 241.92 406.84 240.54 408.47 239.15 410.1 237.76 411.73 236.37 413.35 234.98 414.98 233.59 416.61 232.21 418.24 230.82 419.87 229.43 421.5 228.04 423.13 226.65 424.75 225.27 426.38 223.88 428.01 222.49 429.64 221.1 431.27 219.71 432.9 218.32 434.53 216.94 436.16 215.55 437.78 214.16 439.41 212.77 441.04 211.38 442.67 210 444.3 208.61 445.93 207.22 447.56 205.83 449.18 204.44 450.81 203.05 452.44 201.67 454.07 200.28 455.7 198.89 457.33 197.5 458.96 196.11" clip-path="url(#p82ff4634b5)" style="fill: none; stroke: #808080; stroke-width: 0.53; stroke-linecap: square"/></g><g id="line2d_103"><path d="M 409.91 373.96 L 410.1 373.8 411.73 372.41 413.35 371.02 414.98 369.64 416.61 368.25 418.24 366.86 419.87 365.47 421.5 364.08 423.13 362.7 424.75 361.31 426.38 359.92 428.01 358.53 429.64 357.14 431.27 355.75 432.9 354.37 434.53 352.98 436.16 351.59 437.78 350.2 439.41 348.81 441.04 347.43 442.67 346.04 444.3 344.65 445.93 343.26 447.56 341.87 449.18 340.48 450.81 339.1 452.44 337.71 454.07 336.32 455.7 334.93 457.33 333.54 458.96 332.16" clip-path="url(#p82ff4634b5)" style="fill: none; stroke: #808080; stroke-width: 0.53; stroke-linecap: square"/></g><g id="line2d_104"><path d="M 379.15 264.13 L 380.78 265.52 382.41 266.91 384.04 268.3 385.67 269.69 387.3 271.08 388.92 272.46 390.55 273.85 392.18 275.24 393.81 276.63 395.44 278.02 397.07 279.4 398.7 280.79 400.32 282.18 401.95 283.57 403.58 284.96 405.21 286.35 406.84 287.73 408.47 289.12 410.1 290.51 411.73 291.9 413.35 293.29 414.98 294.67 416.61 296.06 418.24 297.45 419.87 298.84 421.5 300.23 423.13 301.62 424.75 303 426.38 304.39 428.01 305.78 429.64 307.17 431.27 308.56 432.9 309.94 434.53 311.33 436.16 312.72 437.78 314.11 439.41 315.5 441.04 316.89 442.67 318.27 444.3 319.66 445.93 321.05 447.56 322.44 449.18 323.83 450.81 325.21 452.44 326.6 454.07 327.99 455.7 329.38 457.33 330.77 458.96 332.16" clip-path="url(#p82ff4634b5)" style="fill: none; stroke: #808080; stroke-width: 0.53; stroke-linecap: square"/></g><g id="line2d_105"><path d="M 379.44 223.49 L 416.45 207.94" clip-path="url(#p82ff4634b5)" style="fill: none; stroke: #1f77b4; stroke-width: 1.05; stroke-linecap: square"/></g><g id="line2d_106"><path d="M 379.44 223.49 L 458.78 258.62" clip-path="url(#p82ff4634b5)" style="fill: none; stroke: #1f77b4; stroke-width: 1.05; stroke-linecap: square"/></g><g id="line2d_107"><path d="M 458.78 258.62 L 379.44 296.35" clip-path="url(#p82ff4634b5)" style="fill: none; stroke: #1f77b4; stroke-width: 1.05; stroke-linecap: square"/></g><g id="line2d_108"><path d="M 379.44 296.35 L 400.61 307.3" clip-path="url(#p82ff4634b5)" style="fill: none; stroke: #1f77b4; stroke-width: 1.05; stroke-linecap: square"/></g><g id="line2d_109"><path d="M 405.22 207.94 L 406.59 208.39 407.96 208.84 409.33 209.29 410.7 209.75 412.07 210.2 413.44 210.65 414.81 211.11 416.18 211.56 417.55 212.02 418.92 212.47 420.29 212.93 421.66 213.39 423.02 213.85 424.39 214.31 425.76 214.77 427.13 215.24 428.49 215.7 429.86 216.17 431.23 216.63 432.59 217.1 433.96 217.57 435.33 218.03 436.69 218.49 438.06 218.95 439.43 219.41 440.8 219.86 442.18 220.3 443.55 220.74 444.93 221.17 446.31 221.6 447.69 222.02 449.07 222.43 450.46 222.84 451.84 223.24 453.23 223.64 454.62 224.04 456.01 224.43 457.39 224.82 458.78 225.22" clip-path="url(#p82ff4634b5)" style="fill: none; stroke-dasharray: 3.88,1.68; stroke-dashoffset: 0; stroke: #1f77b4; stroke-width: 1.05"/></g><g id="line2d_110"><path d="M 458.78 225.22 L 456.74 225.8 454.69 226.39 452.65 226.97 450.6 227.56 448.56 228.15 446.52 228.74 444.47 229.34 442.43 229.94 440.39 230.54 438.35 231.15 436.32 231.76 434.28 232.38 432.25 233 430.22 233.63 428.19 234.27 426.16 234.92 424.14 235.57 422.12 236.23 420.09 236.89 418.07 237.55 416.05 238.22 414.03 238.88 412.01 239.54 409.99 240.2 407.96 240.86 405.94 241.51 403.91 242.15 401.88 242.78 399.85 243.41 397.81 244.03 395.78 244.64 393.74 245.25 391.7 245.85 389.66 246.45 387.62 247.05 385.57 247.64 383.53 248.23 381.48 248.82 379.44 249.41" clip-path="url(#p82ff4634b5)" style="fill: none; stroke-dasharray: 3.88,1.68; stroke-dashoffset: 0; stroke: #1f77b4; stroke-width: 1.05"/></g><g id="line2d_111"><path d="M 379.44 249.41 L 381.44 250.02 383.44 250.64 385.44 251.25 387.45 251.86 389.45 252.47 391.45 253.07 393.46 253.67 395.47 254.27 397.47 254.86 399.48 255.44 401.5 256.02 403.51 256.58 405.53 257.14 407.55 257.69 409.57 258.23 411.59 258.76 413.62 259.28 415.65 259.8 417.68 260.3 419.72 260.8 421.75 261.28 423.79 261.76 425.83 262.24 427.87 262.7 429.92 263.15 431.96 263.6 434.01 264.03 436.06 264.46 438.11 264.87 440.17 265.26 442.23 265.64 444.29 266 446.35 266.34 448.42 266.66 450.49 266.97 452.56 267.27 454.64 267.56 456.71 267.85 458.78 268.13" clip-path="url(#p82ff4634b5)" style="fill: none; stroke-dasharray: 3.88,1.68; stroke-dashoffset: 0; stroke: #1f77b4; stroke-width: 1.05"/></g><g id="line2d_112"><path d="M 458.78 268.13 L 456.79 268.42 454.8 268.71 452.81 269 450.81 269.29 448.82 269.58 446.83 269.87 444.84 270.15 442.84 270.43 440.85 270.71 438.85 270.99 436.86 271.26 434.86 271.52 432.87 271.79 430.87 272.05 428.87 272.3 426.87 272.55 424.87 272.79 422.87 273.02 420.87 273.24 418.87 273.46 416.87 273.65 414.86 273.84 412.85 274 410.84 274.15 408.83 274.28 406.82 274.38 404.81 274.46 402.79 274.51 400.77 274.55 398.75 274.59 396.74 274.62 394.72 274.67 392.71 274.75 390.7 274.86 388.7 275.02 386.7 275.23 384.71 275.5 382.72 275.83 380.74 276.19" clip-path="url(#p82ff4634b5)" style="fill: none; stroke-dasharray: 3.88,1.68; stroke-dashoffset: 0; stroke: #1f77b4; stroke-width: 1.05"/></g><g id="line2d_113"><path d="M 379.73 276.48 L 379.73 307.01" clip-path="url(#p82ff4634b5)" style="fill: none; stroke-dasharray: 3.88,1.68; stroke-dashoffset: 0; stroke: #1f77b4; stroke-width: 1.05"/></g></g><g id="axes_11"><g id="patch_114"><path d="M 352.68 12.84 L 408.01 12.84 408.01 9.13 352.68 9.13 352.68 12.84 z" style="fill: none"/></g><g id="matplotlib.axis_21"/><g id="matplotlib.axis_22"/><g id="patch_115"><path d="M 352.68 12.84 L 352.68 9.13" style="fill: none; stroke: #000000; stroke-width: 0.84; stroke-linejoin: miter; stroke-linecap: square"/></g><g id="patch_116"><path d="M 408.01 12.84 L 408.01 9.13" style="fill: none; stroke: #000000; stroke-width: 0.84; stroke-linejoin: miter; stroke-linecap: square"/></g><g id="patch_117"><path d="M 352.68 12.84 L 408.01 12.84" style="fill: none; stroke: #000000; stroke-width: 0.84; stroke-linejoin: miter; stroke-linecap: square"/></g><g id="patch_118"><path d="M 352.68 9.13 L 408.01 9.13" style="fill: none; stroke: #000000; stroke-width: 0.84; stroke-linejoin: miter; stroke-linecap: square"/></g></g><g id="axes_12"><g id="patch_119"><path d="M 102.01 201.6 L 158.17 201.6 158.17 197.71 102.01 197.71 102.01 201.6 z" style="fill: none"/></g><g id="matplotlib.axis_23"/><g id="matplotlib.axis_24"/><g id="patch_120"><path d="M 102.01 201.6 L 102.01 197.71" style="fill: none; stroke: #000000; stroke-width: 0.84; stroke-linejoin: miter; stroke-linecap: square"/></g><g id="patch_121"><path d="M 158.17 201.6 L 158.17 197.71" style="fill: none; stroke: #000000; stroke-width: 0.84; stroke-linejoin: miter; stroke-linecap: square"/></g><g id="patch_122"><path d="M 102.01 201.6 L 158.17 201.6" style="fill: none; stroke: #000000; stroke-width: 0.84; stroke-linejoin: miter; stroke-linecap: square"/></g><g id="patch_123"><path d="M 102.01 197.71 L 158.17 197.71" style="fill: none; stroke: #000000; stroke-width: 0.84; stroke-linejoin: miter; stroke-linecap: square"/></g></g><g id="axes_13"><g id="patch_124"><path d="M 351.48 201.6 L 407.55 201.6 407.55 197.71 351.48 197.71 351.48 201.6 z" style="fill: none"/></g><g id="matplotlib.axis_25"/><g id="matplotlib.axis_26"/><g id="patch_125"><path d="M 351.48 201.6 L 351.48 197.71" style="fill: none; stroke: #000000; stroke-width: 0.84; stroke-linejoin: miter; stroke-linecap: square"/></g><g id="patch_126"><path d="M 407.55 201.6 L 407.55 197.71" style="fill: none; stroke: #000000; stroke-width: 0.84; stroke-linejoin: miter; stroke-linecap: square"/></g><g id="patch_127"><path d="M 351.48 201.6 L 407.55 201.6" style="fill: none; stroke: #000000; stroke-width: 0.84; stroke-linejoin: miter; stroke-linecap: square"/></g><g id="patch_128"><path d="M 351.48 197.71 L 407.55 197.71" style="fill: none; stroke: #000000; stroke-width: 0.84; stroke-linejoin: miter; stroke-linecap: square"/></g></g><g id="text_37"><text style="font-weight: 700; font-size: 10.5px; font-family: 'DejaVu Sans', sans-serif; text-anchor: start" x="51.64" y="13.22" transform="rotate(-0 51.64 13.22)">(a)</text></g><g id="text_38"><text style="font-weight: 700; font-size: 10.5px; font-family: 'DejaVu Sans', sans-serif; text-anchor: start" x="51.61" y="70.56" transform="rotate(-0 51.61 70.56)">(b)</text></g><g id="text_39"><text style="font-weight: 700; font-size: 10.5px; font-family: 'DejaVu Sans', sans-serif; text-anchor: start" x="187.2" y="154.51" transform="rotate(-0 187.2 154.51)">(c)</text></g><g id="text_40"><text style="font-weight: 700; font-size: 10.5px; font-family: 'DejaVu Sans', sans-serif; text-anchor: start" x="268.33" y="10.89" transform="rotate(-0 268.33 10.89)">(d)</text></g><g id="text_41"><text style="font-weight: 700; font-size: 10.5px; font-family: 'DejaVu Sans', sans-serif; text-anchor: start" x="17.42" y="199.44" transform="rotate(-0 17.42 199.44)">(e)</text></g><g id="text_42"><text style="font-weight: 700; font-size: 10.5px; font-family: 'DejaVu Sans', sans-serif; text-anchor: start" x="269.14" y="199.44" transform="rotate(-0 269.14 199.44)">(f)</text></g><g id="text_43"><text style="font-size: 10.5px; font-family: 'DejaVu Sans', sans-serif; text-anchor: middle" x="93.23" y="11.52" transform="rotate(-0 93.23 11.52)">F</text></g><g id="text_44"><text style="font-size: 10.5px; font-family: 'DejaVu Sans', sans-serif; text-anchor: middle" x="128.74" y="43.08" transform="rotate(-0 128.74 43.08)">E</text></g><g id="text_45"><text style="font-size: 8.4px; font-family: 'DejaVu Sans', sans-serif; text-anchor: start" x="174.24" y="8.01" transform="rotate(-0 174.24 8.01)">575</text></g><g id="text_46"><text style="font-size: 8.4px; font-family: 'DejaVu Sans', sans-serif; text-anchor: start" x="174.24" y="51.29" transform="rotate(-0 174.24 51.29)">0</text></g><g id="text_47"><g transform="translate(177.93 24.85)"><text><tspan x="0" y="-0.59" style="font-size: 10.5px; font-family: 'DejaVu Sans', sans-serif">|</tspan><tspan x="10.17" y="-0.59" style="font-size: 10.5px; font-family: 'DejaVu Sans', sans-serif">/</tspan><tspan x="25.32" y="-0.59" style="font-size: 10.5px; font-family: 'DejaVu Sans', sans-serif">|</tspan><tspan x="3.54" y="-0.59" style="font-style: oblique; font-size: 10.5px; font-family: 'DejaVu Sans', sans-serif">E</tspan><tspan x="13.71" y="-0.59" style="font-style: oblique; font-size: 10.5px; font-family: 'DejaVu Sans', sans-serif">E</tspan><tspan x="20.34" y="1.21" style="font-size: 7.35px; font-family: 'DejaVu Sans', sans-serif">0</tspan></text></g></g><g id="text_48"><text style="font-size: 8.4px; font-family: 'DejaVu Sans', sans-serif; text-anchor: middle" x="352.63" y="5.96" transform="rotate(-0 352.63 5.96)">0</text></g><g id="text_49"><text style="font-size: 8.4px; font-family: 'DejaVu Sans', sans-serif; text-anchor: middle" x="402.8" y="5.96" transform="rotate(-0 402.8 5.96)">410</text></g><g id="text_50"><text style="font-size: 8.4px; font-family: 'DejaVu Sans', sans-serif; text-anchor: middle" x="102.15" y="194.92" transform="rotate(-0 102.15 194.92)">0</text></g><g id="text_51"><text style="font-size: 8.4px; font-family: 'DejaVu Sans', sans-serif; text-anchor: middle" x="157.59" y="194.92" transform="rotate(-0 157.59 194.92)">595</text></g><g id="text_52"><text style="font-size: 8.4px; font-family: 'DejaVu Sans', sans-serif; text-anchor: middle" x="351.48" y="194.92" transform="rotate(-0 351.48 194.92)">0</text></g><g id="text_53"><text style="font-size: 8.4px; font-family: 'DejaVu Sans', sans-serif; text-anchor: middle" x="405.45" y="194.92" transform="rotate(-0 405.45 194.92)">580</text></g><g id="text_54"><g transform="translate(423.56 10.43)"><text><tspan x="0" y="-0.89" style="font-size: 8.4px; font-family: 'DejaVu Sans', sans-serif">|</tspan><tspan x="8.11" y="-0.89" style="font-size: 8.4px; font-family: 'DejaVu Sans', sans-serif">/</tspan><tspan x="20.18" y="-0.89" style="font-size: 8.4px; font-family: 'DejaVu Sans', sans-serif">|</tspan><tspan x="2.82" y="-0.89" style="font-style: oblique; font-size: 8.4px; font-family: 'DejaVu Sans', sans-serif">E</tspan><tspan x="10.93" y="-0.89" style="font-style: oblique; font-size: 8.4px; font-family: 'DejaVu Sans', sans-serif">E</tspan><tspan x="16.23" y="0.42" style="font-size: 5.88px; font-family: 'DejaVu Sans', sans-serif">0</tspan></text></g></g><g id="text_55"><g transform="translate(173.95 199.27)"><text><tspan x="0" y="-0.89" style="font-size: 8.4px; font-family: 'DejaVu Sans', sans-serif">|</tspan><tspan x="8.11" y="-0.89" style="font-size: 8.4px; font-family: 'DejaVu Sans', sans-serif">/</tspan><tspan x="20.18" y="-0.89" style="font-size: 8.4px; font-family: 'DejaVu Sans', sans-serif">|</tspan><tspan x="2.82" y="-0.89" style="font-style: oblique; font-size: 8.4px; font-family: 'DejaVu Sans', sans-serif">E</tspan><tspan x="10.93" y="-0.89" style="font-style: oblique; font-size: 8.4px; font-family: 'DejaVu Sans', sans-serif">E</tspan><tspan x="16.23" y="0.42" style="font-size: 5.88px; font-family: 'DejaVu Sans', sans-serif">0</tspan></text></g></g><g id="text_56"><g transform="translate(422.96 199.27)"><text><tspan x="0" y="-0.89" style="font-size: 8.4px; font-family: 'DejaVu Sans', sans-serif">|</tspan><tspan x="8.11" y="-0.89" style="font-size: 8.4px; font-family: 'DejaVu Sans', sans-serif">/</tspan><tspan x="20.18" y="-0.89" style="font-size: 8.4px; font-family: 'DejaVu Sans', sans-serif">|</tspan><tspan x="2.82" y="-0.89" style="font-style: oblique; font-size: 8.4px; font-family: 'DejaVu Sans', sans-serif">E</tspan><tspan x="10.93" y="-0.89" style="font-style: oblique; font-size: 8.4px; font-family: 'DejaVu Sans', sans-serif">E</tspan><tspan x="16.23" y="0.42" style="font-size: 5.88px; font-family: 'DejaVu Sans', sans-serif">0</tspan></text></g></g><g id="text_57"><g transform="translate(79.94 181.3)"><text><tspan x="0" y="-0.92" style="font-size: 8.4px; font-family: 'DejaVu Sans', sans-serif">Λ</tspan><tspan x="9.1" y="-0.92" style="font-size: 8.4px; font-family: 'DejaVu Sans', sans-serif"></tspan><tspan x="11.76" y="-0.92" style="font-size: 8.4px; font-family: 'DejaVu Sans', sans-serif">(</tspan><tspan x="15.03" y="-0.92" style="font-size: 8.4px; font-family: 'DejaVu Sans', sans-serif">n</tspan><tspan x="20.34" y="-0.92" style="font-size: 8.4px; font-family: 'DejaVu Sans', sans-serif">m</tspan><tspan x="28.5" y="-0.92" style="font-size: 8.4px; font-family: 'DejaVu Sans', sans-serif">)</tspan><tspan x="5.81" y="0.39" style="font-style: oblique; font-size: 5.88px; font-family: 'DejaVu Sans', sans-serif">z</tspan></text></g></g><g id="text_58"><g transform="translate(25.79 128.49) rotate(-90)"><text><tspan x="0" y="-0.92" style="font-size: 8.4px; font-family: 'DejaVu Sans', sans-serif">Λ</tspan><tspan x="9.49" y="-0.92" style="font-size: 8.4px; font-family: 'DejaVu Sans', sans-serif"></tspan><tspan x="12.16" y="-0.92" style="font-size: 8.4px; font-family: 'DejaVu Sans', sans-serif">(</tspan><tspan x="15.42" y="-0.92" style="font-size: 8.4px; font-family: 'DejaVu Sans', sans-serif">n</tspan><tspan x="20.73" y="-0.92" style="font-size: 8.4px; font-family: 'DejaVu Sans', sans-serif">m</tspan><tspan x="28.89" y="-0.92" style="font-size: 8.4px; font-family: 'DejaVu Sans', sans-serif">)</tspan><tspan x="5.81" y="0.39" style="font-style: oblique; font-size: 5.88px; font-family: 'DejaVu Sans', sans-serif">y</tspan></text></g></g><g id="text_59"><g transform="translate(316.51 178.56)"><text><tspan x="0" y="-0.27" style="font-style: oblique; font-size: 8.4px; font-family: 'DejaVu Sans', sans-serif">k</tspan><tspan x="4.85" y="1.04" style="font-style: oblique; font-size: 5.88px; font-family: 'DejaVu Sans', sans-serif">z</tspan><tspan x="15.24" y="-3.94" style="font-style: oblique; font-size: 5.88px; font-family: 'DejaVu Sans', sans-serif">π</tspan><tspan x="8.15" y="-0.27" style="font-size: 8.4px; font-family: 'DejaVu Sans', sans-serif">/</tspan><tspan x="10.97" y="-0.27" style="font-size: 8.4px; font-family: 'DejaVu Sans', sans-serif">(</tspan><tspan x="21.66" y="-0.27" style="font-size: 8.4px; font-family: 'DejaVu Sans', sans-serif">)</tspan><tspan x="14.24" y="2.88" style="font-size: 5.88px; font-family: 'DejaVu Sans', sans-serif">Λ</tspan><tspan x="18.3" y="3.8" style="font-style: oblique; font-size: 4.12px; font-family: 'DejaVu Sans', sans-serif">z</tspan></text><rect x="14.24" y="-2.73" width="6.37" height="0.53"/></g></g><g id="text_60"><g transform="translate(406.68 178.56)"><text><tspan x="0" y="-0.27" style="font-style: oblique; font-size: 8.4px; font-family: 'DejaVu Sans', sans-serif">k</tspan><tspan x="4.85" y="1.04" style="font-style: oblique; font-size: 5.88px; font-family: 'DejaVu Sans', sans-serif">y</tspan><tspan x="16.63" y="-3.94" style="font-style: oblique; font-size: 5.88px; font-family: 'DejaVu Sans', sans-serif">π</tspan><tspan x="8.54" y="-0.27" style="font-size: 8.4px; font-family: 'DejaVu Sans', sans-serif">/</tspan><tspan x="11.36" y="-0.27" style="font-size: 8.4px; font-family: 'DejaVu Sans', sans-serif">(</tspan><tspan x="22.32" y="-0.27" style="font-size: 8.4px; font-family: 'DejaVu Sans', sans-serif">)</tspan><tspan x="14.63" y="2.88" style="font-size: 5.88px; font-family: 'DejaVu Sans', sans-serif">Λ</tspan><tspan x="18.69" y="3.8" style="font-style: oblique; font-size: 4.12px; font-family: 'DejaVu Sans', sans-serif">y</tspan></text><rect x="14.63" y="-2.73" width="6.65" height="0.53"/></g></g><g id="text_61"><g transform="translate(65.65 367.2)"><text><tspan x="0" y="-0.27" style="font-style: oblique; font-size: 8.4px; font-family: 'DejaVu Sans', sans-serif">k</tspan><tspan x="4.85" y="1.04" style="font-style: oblique; font-size: 5.88px; font-family: 'DejaVu Sans', sans-serif">z</tspan><tspan x="15.24" y="-3.94" style="font-style: oblique; font-size: 5.88px; font-family: 'DejaVu Sans', sans-serif">π</tspan><tspan x="8.15" y="-0.27" style="font-size: 8.4px; font-family: 'DejaVu Sans', sans-serif">/</tspan><tspan x="10.97" y="-0.27" style="font-size: 8.4px; font-family: 'DejaVu Sans', sans-serif">(</tspan><tspan x="21.66" y="-0.27" style="font-size: 8.4px; font-family: 'DejaVu Sans', sans-serif">)</tspan><tspan x="14.24" y="2.88" style="font-size: 5.88px; font-family: 'DejaVu Sans', sans-serif">Λ</tspan><tspan x="18.3" y="3.8" style="font-style: oblique; font-size: 4.12px; font-family: 'DejaVu Sans', sans-serif">z</tspan></text><rect x="14.24" y="-2.73" width="6.37" height="0.53"/></g></g><g id="text_62"><g transform="translate(156.82 367.2)"><text><tspan x="0" y="-0.27" style="font-style: oblique; font-size: 8.4px; font-family: 'DejaVu Sans', sans-serif">k</tspan><tspan x="4.85" y="1.04" style="font-style: oblique; font-size: 5.88px; font-family: 'DejaVu Sans', sans-serif">y</tspan><tspan x="16.63" y="-3.94" style="font-style: oblique; font-size: 5.88px; font-family: 'DejaVu Sans', sans-serif">π</tspan><tspan x="8.54" y="-0.27" style="font-size: 8.4px; font-family: 'DejaVu Sans', sans-serif">/</tspan><tspan x="11.36" y="-0.27" style="font-size: 8.4px; font-family: 'DejaVu Sans', sans-serif">(</tspan><tspan x="22.32" y="-0.27" style="font-size: 8.4px; font-family: 'DejaVu Sans', sans-serif">)</tspan><tspan x="14.63" y="2.88" style="font-size: 5.88px; font-family: 'DejaVu Sans', sans-serif">Λ</tspan><tspan x="18.69" y="3.8" style="font-style: oblique; font-size: 4.12px; font-family: 'DejaVu Sans', sans-serif">y</tspan></text><rect x="14.63" y="-2.73" width="6.65" height="0.53"/></g></g><g id="text_63"><g transform="translate(314.93 367.2)"><text><tspan x="0" y="-0.27" style="font-style: oblique; font-size: 8.4px; font-family: 'DejaVu Sans', sans-serif">k</tspan><tspan x="4.85" y="1.04" style="font-style: oblique; font-size: 5.88px; font-family: 'DejaVu Sans', sans-serif">z</tspan><tspan x="15.24" y="-3.94" style="font-style: oblique; font-size: 5.88px; font-family: 'DejaVu Sans', sans-serif">π</tspan><tspan x="8.15" y="-0.27" style="font-size: 8.4px; font-family: 'DejaVu Sans', sans-serif">/</tspan><tspan x="10.97" y="-0.27" style="font-size: 8.4px; font-family: 'DejaVu Sans', sans-serif">(</tspan><tspan x="21.66" y="-0.27" style="font-size: 8.4px; font-family: 'DejaVu Sans', sans-serif">)</tspan><tspan x="14.24" y="2.88" style="font-size: 5.88px; font-family: 'DejaVu Sans', sans-serif">Λ</tspan><tspan x="18.3" y="3.8" style="font-style: oblique; font-size: 4.12px; font-family: 'DejaVu Sans', sans-serif">z</tspan></text><rect x="14.24" y="-2.73" width="6.37" height="0.53"/></g></g><g id="text_64"><g transform="translate(406.2 367.2)"><text><tspan x="0" y="-0.27" style="font-style: oblique; font-size: 8.4px; font-family: 'DejaVu Sans', sans-serif">k</tspan><tspan x="4.85" y="1.04" style="font-style: oblique; font-size: 5.88px; font-family: 'DejaVu Sans', sans-serif">y</tspan><tspan x="16.63" y="-3.94" style="font-style: oblique; font-size: 5.88px; font-family: 'DejaVu Sans', sans-serif">π</tspan><tspan x="8.54" y="-0.27" style="font-size: 8.4px; font-family: 'DejaVu Sans', sans-serif">/</tspan><tspan x="11.36" y="-0.27" style="font-size: 8.4px; font-family: 'DejaVu Sans', sans-serif">(</tspan><tspan x="22.32" y="-0.27" style="font-size: 8.4px; font-family: 'DejaVu Sans', sans-serif">)</tspan><tspan x="14.63" y="2.88" style="font-size: 5.88px; font-family: 'DejaVu Sans', sans-serif">Λ</tspan><tspan x="18.69" y="3.8" style="font-style: oblique; font-size: 4.12px; font-family: 'DejaVu Sans', sans-serif">y</tspan></text><rect x="14.63" y="-2.73" width="6.65" height="0.53"/></g></g><g id="text_65"><g transform="translate(259.11 104.72)"><text><tspan x="0" y="1.84" style="font-style: oblique; font-size: 7.42px; font-family: 'DejaVu Sans', sans-serif">ω</tspan><tspan x="3" y="-5.79" style="font-style: oblique; font-size: 7.42px; font-family: 'DejaVu Sans', sans-serif">ω</tspan><tspan x="6.23" y="3.11" style="font-size: 5.19px; font-family: 'DejaVu Sans', sans-serif">t</tspan><tspan x="8.27" y="3.11" style="font-size: 5.19px; font-family: 'DejaVu Sans', sans-serif">g</tspan></text><rect x="0" y="-4.03" width="11.78" height="0.66"/></g></g><g id="text_66"><g transform="translate(7.54 293.42)"><text><tspan x="0" y="1.84" style="font-style: oblique; font-size: 7.42px; font-family: 'DejaVu Sans', sans-serif">ω</tspan><tspan x="3" y="-5.79" style="font-style: oblique; font-size: 7.42px; font-family: 'DejaVu Sans', sans-serif">ω</tspan><tspan x="6.23" y="3.11" style="font-size: 5.19px; font-family: 'DejaVu Sans', sans-serif">t</tspan><tspan x="8.27" y="3.11" style="font-size: 5.19px; font-family: 'DejaVu Sans', sans-serif">g</tspan></text><rect x="0" y="-4.03" width="11.78" height="0.66"/></g></g><g id="text_67"><g transform="translate(256.78 293.36)"><text><tspan x="0" y="1.84" style="font-style: oblique; font-size: 7.42px; font-family: 'DejaVu Sans', sans-serif">ω</tspan><tspan x="3" y="-5.79" style="font-style: oblique; font-size: 7.42px; font-family: 'DejaVu Sans', sans-serif">ω</tspan><tspan x="6.23" y="3.11" style="font-size: 5.19px; font-family: 'DejaVu Sans', sans-serif">t</tspan><tspan x="8.27" y="3.11" style="font-size: 5.19px; font-family: 'DejaVu Sans', sans-serif">g</tspan></text><rect x="0" y="-4.03" width="11.78" height="0.66"/></g></g><g id="text_68"><g style="fill: #ff7f0e" transform="translate(306.86 16.53)"><text><tspan x="0" y="-0.98" style="font-size: 8.4px; font-family: 'DejaVu Sans', sans-serif; fill: #ff7f0e">T</tspan><tspan x="5.12" y="-0.98" style="font-size: 8.4px; font-family: 'DejaVu Sans', sans-serif; fill: #ff7f0e">E</tspan><tspan x="10.48" y="-4.75" style="font-size: 5.88px; font-family: 'DejaVu Sans', sans-serif; fill: #ff7f0e">(</tspan><tspan x="10.48" y="1.2" style="font-size: 5.88px; font-family: 'DejaVu Sans', sans-serif; fill: #ff7f0e">0</tspan><tspan x="12.77" y="-4.75" style="font-size: 5.88px; font-family: 'DejaVu Sans', sans-serif; fill: #ff7f0e">0</tspan><tspan x="16.5" y="-4.75" style="font-size: 5.88px; font-family: 'DejaVu Sans', sans-serif; fill: #ff7f0e">,</tspan><tspan x="23.22" y="-4.75" style="font-size: 5.88px; font-family: 'DejaVu Sans', sans-serif; fill: #ff7f0e">)</tspan><tspan x="19.51" y="-4.75" style="font-style: oblique; font-size: 5.88px; font-family: 'DejaVu Sans', sans-serif; fill: #ff7f0e">n</tspan></text></g></g><g id="text_69"><g style="fill: #ff7f0e" transform="translate(257.17 41.73)"><text><tspan x="0" y="-0.98" style="font-size: 8.4px; font-family: 'DejaVu Sans', sans-serif; fill: #ff7f0e">T</tspan><tspan x="5.12" y="-0.98" style="font-size: 8.4px; font-family: 'DejaVu Sans', sans-serif; fill: #ff7f0e">E</tspan><tspan x="10.48" y="-4.75" style="font-size: 5.88px; font-family: 'DejaVu Sans', sans-serif; fill: #ff7f0e">(</tspan><tspan x="10.48" y="1.2" style="font-size: 5.88px; font-family: 'DejaVu Sans', sans-serif; fill: #ff7f0e">0</tspan><tspan x="12.77" y="-4.75" style="font-size: 5.88px; font-family: 'DejaVu Sans', sans-serif; fill: #ff7f0e">±</tspan><tspan x="17.68" y="-4.75" style="font-size: 5.88px; font-family: 'DejaVu Sans', sans-serif; fill: #ff7f0e">1</tspan><tspan x="21.41" y="-4.75" style="font-size: 5.88px; font-family: 'DejaVu Sans', sans-serif; fill: #ff7f0e">,</tspan><tspan x="28.13" y="-4.75" style="font-size: 5.88px; font-family: 'DejaVu Sans', sans-serif; fill: #ff7f0e">)</tspan><tspan x="24.42" y="-4.75" style="font-style: oblique; font-size: 5.88px; font-family: 'DejaVu Sans', sans-serif; fill: #ff7f0e">n</tspan></text></g></g><g id="text_70"><g style="fill: #1f77b4" transform="translate(255.24 69.72)"><text><tspan x="0" y="-0.98" style="font-size: 8.4px; font-family: 'DejaVu Sans', sans-serif; fill: #1f77b4">T</tspan><tspan x="5.12" y="-0.98" style="font-size: 8.4px; font-family: 'DejaVu Sans', sans-serif; fill: #1f77b4">M</tspan><tspan x="12.42" y="-4.75" style="font-size: 5.88px; font-family: 'DejaVu Sans', sans-serif; fill: #1f77b4">(</tspan><tspan x="12.42" y="1.2" style="font-size: 5.88px; font-family: 'DejaVu Sans', sans-serif; fill: #1f77b4">0</tspan><tspan x="14.71" y="-4.75" style="font-size: 5.88px; font-family: 'DejaVu Sans', sans-serif; fill: #1f77b4">±</tspan><tspan x="19.62" y="-4.75" style="font-size: 5.88px; font-family: 'DejaVu Sans', sans-serif; fill: #1f77b4">1</tspan><tspan x="23.35" y="-4.75" style="font-size: 5.88px; font-family: 'DejaVu Sans', sans-serif; fill: #1f77b4">,</tspan><tspan x="30.07" y="-4.75" style="font-size: 5.88px; font-family: 'DejaVu Sans', sans-serif; fill: #1f77b4">)</tspan><tspan x="26.35" y="-4.75" style="font-style: oblique; font-size: 5.88px; font-family: 'DejaVu Sans', sans-serif; fill: #1f77b4">n</tspan></text></g></g><g id="text_71"><g style="fill: #1f77b4" transform="translate(460.63 33.78)"><text><tspan x="0" y="-0.98" style="font-size: 8.4px; font-family: 'DejaVu Sans', sans-serif; fill: #1f77b4">T</tspan><tspan x="5.12" y="-0.98" style="font-size: 8.4px; font-family: 'DejaVu Sans', sans-serif; fill: #1f77b4">M</tspan><tspan x="12.42" y="-4.75" style="font-size: 5.88px; font-family: 'DejaVu Sans', sans-serif; fill: #1f77b4">(</tspan><tspan x="12.42" y="1.2" style="font-size: 5.88px; font-family: 'DejaVu Sans', sans-serif; fill: #1f77b4">0</tspan><tspan x="20.42" y="-4.75" style="font-size: 5.88px; font-family: 'DejaVu Sans', sans-serif; fill: #1f77b4">,</tspan><tspan x="23.42" y="-4.75" style="font-size: 5.88px; font-family: 'DejaVu Sans', sans-serif; fill: #1f77b4">0</tspan><tspan x="27.15" y="-4.75" style="font-size: 5.88px; font-family: 'DejaVu Sans', sans-serif; fill: #1f77b4">)</tspan><tspan x="14.71" y="-4.75" style="font-style: oblique; font-size: 5.88px; font-family: 'DejaVu Sans', sans-serif; fill: #1f77b4">m</tspan></text></g></g><g id="text_72"><g style="fill: #1f77b4" transform="translate(460.63 75.97)"><text><tspan x="0" y="-0.98" style="font-size: 8.4px; font-family: 'DejaVu Sans', sans-serif; fill: #1f77b4">T</tspan><tspan x="5.12" y="-0.98" style="font-size: 8.4px; font-family: 'DejaVu Sans', sans-serif; fill: #1f77b4">M</tspan><tspan x="12.42" y="-4.75" style="font-size: 5.88px; font-family: 'DejaVu Sans', sans-serif; fill: #1f77b4">(</tspan><tspan x="12.42" y="1.2" style="font-size: 5.88px; font-family: 'DejaVu Sans', sans-serif; fill: #1f77b4">0</tspan><tspan x="20.42" y="-4.75" style="font-size: 5.88px; font-family: 'DejaVu Sans', sans-serif; fill: #1f77b4">,</tspan><tspan x="24.56" y="-4.75" style="font-size: 5.88px; font-family: 'DejaVu Sans', sans-serif; fill: #1f77b4">±</tspan><tspan x="30.62" y="-4.75" style="font-size: 5.88px; font-family: 'DejaVu Sans', sans-serif; fill: #1f77b4">1</tspan><tspan x="34.35" y="-4.75" style="font-size: 5.88px; font-family: 'DejaVu Sans', sans-serif; fill: #1f77b4">)</tspan><tspan x="14.71" y="-4.75" style="font-style: oblique; font-size: 5.88px; font-family: 'DejaVu Sans', sans-serif; fill: #1f77b4">m</tspan></text></g></g><g id="text_73"><g style="fill: #ff7f0e" transform="translate(11.22 230.34)"><text><tspan x="0" y="-0.98" style="font-size: 8.4px; font-family: 'DejaVu Sans', sans-serif; fill: #ff7f0e">T</tspan><tspan x="5.12" y="-0.98" style="font-size: 8.4px; font-family: 'DejaVu Sans', sans-serif; fill: #ff7f0e">E</tspan><tspan x="10.48" y="-4.75" style="font-size: 5.88px; font-family: 'DejaVu Sans', sans-serif; fill: #ff7f0e">(</tspan><tspan x="10.48" y="1.2" style="font-size: 5.88px; font-family: 'DejaVu Sans', sans-serif; fill: #ff7f0e">0</tspan><tspan x="12.77" y="-4.75" style="font-size: 5.88px; font-family: 'DejaVu Sans', sans-serif; fill: #ff7f0e">0</tspan><tspan x="16.5" y="-4.75" style="font-size: 5.88px; font-family: 'DejaVu Sans', sans-serif; fill: #ff7f0e">,</tspan><tspan x="23.22" y="-4.75" style="font-size: 5.88px; font-family: 'DejaVu Sans', sans-serif; fill: #ff7f0e">)</tspan><tspan x="19.51" y="-4.75" style="font-style: oblique; font-size: 5.88px; font-family: 'DejaVu Sans', sans-serif; fill: #ff7f0e">n</tspan></text></g></g><g id="text_74"><g style="fill: #ff7f0e" transform="translate(6.01 260.67)"><text><tspan x="0" y="-0.98" style="font-size: 8.4px; font-family: 'DejaVu Sans', sans-serif; fill: #ff7f0e">T</tspan><tspan x="5.12" y="-0.98" style="font-size: 8.4px; font-family: 'DejaVu Sans', sans-serif; fill: #ff7f0e">E</tspan><tspan x="10.48" y="-4.75" style="font-size: 5.88px; font-family: 'DejaVu Sans', sans-serif; fill: #ff7f0e">(</tspan><tspan x="10.48" y="1.2" style="font-size: 5.88px; font-family: 'DejaVu Sans', sans-serif; fill: #ff7f0e">0</tspan><tspan x="12.77" y="-4.75" style="font-size: 5.88px; font-family: 'DejaVu Sans', sans-serif; fill: #ff7f0e">±</tspan><tspan x="17.68" y="-4.75" style="font-size: 5.88px; font-family: 'DejaVu Sans', sans-serif; fill: #ff7f0e">1</tspan><tspan x="21.41" y="-4.75" style="font-size: 5.88px; font-family: 'DejaVu Sans', sans-serif; fill: #ff7f0e">,</tspan><tspan x="28.13" y="-4.75" style="font-size: 5.88px; font-family: 'DejaVu Sans', sans-serif; fill: #ff7f0e">)</tspan><tspan x="24.42" y="-4.75" style="font-style: oblique; font-size: 5.88px; font-family: 'DejaVu Sans', sans-serif; fill: #ff7f0e">n</tspan></text></g></g><g id="text_75"><g style="fill: #1f77b4" transform="translate(83.81 308.53)"><text><tspan x="0" y="-0.98" style="font-size: 8.4px; font-family: 'DejaVu Sans', sans-serif; fill: #1f77b4">T</tspan><tspan x="5.12" y="-0.98" style="font-size: 8.4px; font-family: 'DejaVu Sans', sans-serif; fill: #1f77b4">M</tspan><tspan x="12.42" y="-4.75" style="font-size: 5.88px; font-family: 'DejaVu Sans', sans-serif; fill: #1f77b4">(</tspan><tspan x="12.42" y="1.2" style="font-size: 5.88px; font-family: 'DejaVu Sans', sans-serif; fill: #1f77b4">0</tspan><tspan x="14.71" y="-4.75" style="font-size: 5.88px; font-family: 'DejaVu Sans', sans-serif; fill: #1f77b4">±</tspan><tspan x="19.62" y="-4.75" style="font-size: 5.88px; font-family: 'DejaVu Sans', sans-serif; fill: #1f77b4">1</tspan><tspan x="23.35" y="-4.75" style="font-size: 5.88px; font-family: 'DejaVu Sans', sans-serif; fill: #1f77b4">,</tspan><tspan x="30.07" y="-4.75" style="font-size: 5.88px; font-family: 'DejaVu Sans', sans-serif; fill: #1f77b4">)</tspan><tspan x="26.35" y="-4.75" style="font-style: oblique; font-size: 5.88px; font-family: 'DejaVu Sans', sans-serif; fill: #1f77b4">n</tspan></text></g></g><g id="text_76"><g style="fill: #1f77b4" transform="translate(211.13 263.17)"><text><tspan x="0" y="-0.98" style="font-size: 8.4px; font-family: 'DejaVu Sans', sans-serif; fill: #1f77b4">T</tspan><tspan x="5.12" y="-0.98" style="font-size: 8.4px; font-family: 'DejaVu Sans', sans-serif; fill: #1f77b4">M</tspan><tspan x="12.42" y="-4.75" style="font-size: 5.88px; font-family: 'DejaVu Sans', sans-serif; fill: #1f77b4">(</tspan><tspan x="12.42" y="1.2" style="font-size: 5.88px; font-family: 'DejaVu Sans', sans-serif; fill: #1f77b4">0</tspan><tspan x="20.42" y="-4.75" style="font-size: 5.88px; font-family: 'DejaVu Sans', sans-serif; fill: #1f77b4">,</tspan><tspan x="23.42" y="-4.75" style="font-size: 5.88px; font-family: 'DejaVu Sans', sans-serif; fill: #1f77b4">0</tspan><tspan x="27.15" y="-4.75" style="font-size: 5.88px; font-family: 'DejaVu Sans', sans-serif; fill: #1f77b4">)</tspan><tspan x="14.71" y="-4.75" style="font-style: oblique; font-size: 5.88px; font-family: 'DejaVu Sans', sans-serif; fill: #1f77b4">m</tspan></text></g></g><g id="text_77"><g style="fill: #1f77b4" transform="translate(211.13 290.97)"><text><tspan x="0" y="-0.98" style="font-size: 8.4px; font-family: 'DejaVu Sans', sans-serif; fill: #1f77b4">T</tspan><tspan x="5.12" y="-0.98" style="font-size: 8.4px; font-family: 'DejaVu Sans', sans-serif; fill: #1f77b4">M</tspan><tspan x="12.42" y="-4.75" style="font-size: 5.88px; font-family: 'DejaVu Sans', sans-serif; fill: #1f77b4">(</tspan><tspan x="12.42" y="1.2" style="font-size: 5.88px; font-family: 'DejaVu Sans', sans-serif; fill: #1f77b4">0</tspan><tspan x="20.42" y="-4.75" style="font-size: 5.88px; font-family: 'DejaVu Sans', sans-serif; fill: #1f77b4">,</tspan><tspan x="24.56" y="-4.75" style="font-size: 5.88px; font-family: 'DejaVu Sans', sans-serif; fill: #1f77b4">±</tspan><tspan x="30.62" y="-4.75" style="font-size: 5.88px; font-family: 'DejaVu Sans', sans-serif; fill: #1f77b4">1</tspan><tspan x="34.35" y="-4.75" style="font-size: 5.88px; font-family: 'DejaVu Sans', sans-serif; fill: #1f77b4">)</tspan><tspan x="14.71" y="-4.75" style="font-style: oblique; font-size: 5.88px; font-family: 'DejaVu Sans', sans-serif; fill: #1f77b4">m</tspan></text></g></g><g id="text_78"><g style="fill: #ff7f0e" transform="translate(312.54 205.2)"><text><tspan x="0" y="-0.98" style="font-size: 8.4px; font-family: 'DejaVu Sans', sans-serif; fill: #ff7f0e">T</tspan><tspan x="5.12" y="-0.98" style="font-size: 8.4px; font-family: 'DejaVu Sans', sans-serif; fill: #ff7f0e">E</tspan><tspan x="10.48" y="-4.75" style="font-size: 5.88px; font-family: 'DejaVu Sans', sans-serif; fill: #ff7f0e">(</tspan><tspan x="10.48" y="1.2" style="font-size: 5.88px; font-family: 'DejaVu Sans', sans-serif; fill: #ff7f0e">0</tspan><tspan x="12.77" y="-4.75" style="font-size: 5.88px; font-family: 'DejaVu Sans', sans-serif; fill: #ff7f0e">0</tspan><tspan x="16.5" y="-4.75" style="font-size: 5.88px; font-family: 'DejaVu Sans', sans-serif; fill: #ff7f0e">,</tspan><tspan x="23.22" y="-4.75" style="font-size: 5.88px; font-family: 'DejaVu Sans', sans-serif; fill: #ff7f0e">)</tspan><tspan x="19.51" y="-4.75" style="font-style: oblique; font-size: 5.88px; font-family: 'DejaVu Sans', sans-serif; fill: #ff7f0e">n</tspan></text></g></g><g id="text_79"><g style="fill: #ff7f0e" transform="translate(255.36 254.07)"><text><tspan x="0" y="-0.98" style="font-size: 8.4px; font-family: 'DejaVu Sans', sans-serif; fill: #ff7f0e">T</tspan><tspan x="5.12" y="-0.98" style="font-size: 8.4px; font-family: 'DejaVu Sans', sans-serif; fill: #ff7f0e">E</tspan><tspan x="10.48" y="-4.75" style="font-size: 5.88px; font-family: 'DejaVu Sans', sans-serif; fill: #ff7f0e">(</tspan><tspan x="10.48" y="1.2" style="font-size: 5.88px; font-family: 'DejaVu Sans', sans-serif; fill: #ff7f0e">0</tspan><tspan x="12.77" y="-4.75" style="font-size: 5.88px; font-family: 'DejaVu Sans', sans-serif; fill: #ff7f0e">±</tspan><tspan x="17.68" y="-4.75" style="font-size: 5.88px; font-family: 'DejaVu Sans', sans-serif; fill: #ff7f0e">1</tspan><tspan x="21.41" y="-4.75" style="font-size: 5.88px; font-family: 'DejaVu Sans', sans-serif; fill: #ff7f0e">,</tspan><tspan x="28.13" y="-4.75" style="font-size: 5.88px; font-family: 'DejaVu Sans', sans-serif; fill: #ff7f0e">)</tspan><tspan x="24.42" y="-4.75" style="font-style: oblique; font-size: 5.88px; font-family: 'DejaVu Sans', sans-serif; fill: #ff7f0e">n</tspan></text></g></g><g id="text_80"><g style="fill: #1f77b4" transform="translate(333.22 307.09)"><text><tspan x="0" y="-0.98" style="font-size: 8.4px; font-family: 'DejaVu Sans', sans-serif; fill: #1f77b4">T</tspan><tspan x="5.12" y="-0.98" style="font-size: 8.4px; font-family: 'DejaVu Sans', sans-serif; fill: #1f77b4">M</tspan><tspan x="12.42" y="-4.75" style="font-size: 5.88px; font-family: 'DejaVu Sans', sans-serif; fill: #1f77b4">(</tspan><tspan x="12.42" y="1.2" style="font-size: 5.88px; font-family: 'DejaVu Sans', sans-serif; fill: #1f77b4">0</tspan><tspan x="14.71" y="-4.75" style="font-size: 5.88px; font-family: 'DejaVu Sans', sans-serif; fill: #1f77b4">±</tspan><tspan x="19.62" y="-4.75" style="font-size: 5.88px; font-family: 'DejaVu Sans', sans-serif; fill: #1f77b4">1</tspan><tspan x="23.35" y="-4.75" style="font-size: 5.88px; font-family: 'DejaVu Sans', sans-serif; fill: #1f77b4">,</tspan><tspan x="30.07" y="-4.75" style="font-size: 5.88px; font-family: 'DejaVu Sans', sans-serif; fill: #1f77b4">)</tspan><tspan x="26.35" y="-4.75" style="font-style: oblique; font-size: 5.88px; font-family: 'DejaVu Sans', sans-serif; fill: #1f77b4">n</tspan></text></g></g><g id="text_81"><g style="fill: #1f77b4" transform="translate(460.63 228.76)"><text><tspan x="0" y="-0.98" style="font-size: 8.4px; font-family: 'DejaVu Sans', sans-serif; fill: #1f77b4">T</tspan><tspan x="5.12" y="-0.98" style="font-size: 8.4px; font-family: 'DejaVu Sans', sans-serif; fill: #1f77b4">M</tspan><tspan x="12.42" y="-4.75" style="font-size: 5.88px; font-family: 'DejaVu Sans', sans-serif; fill: #1f77b4">(</tspan><tspan x="12.42" y="1.2" style="font-size: 5.88px; font-family: 'DejaVu Sans', sans-serif; fill: #1f77b4">0</tspan><tspan x="20.42" y="-4.75" style="font-size: 5.88px; font-family: 'DejaVu Sans', sans-serif; fill: #1f77b4">,</tspan><tspan x="24.56" y="-4.75" style="font-size: 5.88px; font-family: 'DejaVu Sans', sans-serif; fill: #1f77b4">±</tspan><tspan x="30.62" y="-4.75" style="font-size: 5.88px; font-family: 'DejaVu Sans', sans-serif; fill: #1f77b4">1</tspan><tspan x="34.35" y="-4.75" style="font-size: 5.88px; font-family: 'DejaVu Sans', sans-serif; fill: #1f77b4">)</tspan><tspan x="14.71" y="-4.75" style="font-style: oblique; font-size: 5.88px; font-family: 'DejaVu Sans', sans-serif; fill: #1f77b4">m</tspan></text></g></g><g id="text_82"><g style="fill: #1f77b4" transform="translate(460.63 261.76)"><text><tspan x="0" y="-0.98" style="font-size: 8.4px; font-family: 'DejaVu Sans', sans-serif; fill: #1f77b4">T</tspan><tspan x="5.12" y="-0.98" style="font-size: 8.4px; font-family: 'DejaVu Sans', sans-serif; fill: #1f77b4">M</tspan><tspan x="12.42" y="-4.75" style="font-size: 5.88px; font-family: 'DejaVu Sans', sans-serif; fill: #1f77b4">(</tspan><tspan x="12.42" y="1.2" style="font-size: 5.88px; font-family: 'DejaVu Sans', sans-serif; fill: #1f77b4">0</tspan><tspan x="20.42" y="-4.75" style="font-size: 5.88px; font-family: 'DejaVu Sans', sans-serif; fill: #1f77b4">,</tspan><tspan x="23.42" y="-4.75" style="font-size: 5.88px; font-family: 'DejaVu Sans', sans-serif; fill: #1f77b4">0</tspan><tspan x="27.15" y="-4.75" style="font-size: 5.88px; font-family: 'DejaVu Sans', sans-serif; fill: #1f77b4">)</tspan><tspan x="14.71" y="-4.75" style="font-style: oblique; font-size: 5.88px; font-family: 'DejaVu Sans', sans-serif; fill: #1f77b4">m</tspan></text></g></g><g id="text_83"><text style="font-size: 8.4px; font-family: 'DejaVu Sans', sans-serif; fill: #808080" transform="translate(309.89 135.17)">vacuum</text><text style="font-size: 8.4px; font-family: 'DejaVu Sans', sans-serif; fill: #808080" transform="translate(309.89 144.58)">light line</text></g><g id="text_84"><text style="font-size: 8.4px; font-family: 'DejaVu Sans', sans-serif; fill: #808080" transform="translate(405.79 131.43)">vacuum</text><text style="font-size: 8.4px; font-family: 'DejaVu Sans', sans-serif; fill: #808080" transform="translate(405.79 140.83)">light line</text></g><g id="text_85"><text style="font-size: 8.4px; font-family: 'DejaVu Sans', sans-serif; fill: #808080" transform="translate(50.69 326.69)">vacuum</text><text style="font-size: 8.4px; font-family: 'DejaVu Sans', sans-serif; fill: #808080" transform="translate(50.69 336.1)">light line</text></g><g id="text_86"><text style="font-size: 8.4px; font-family: 'DejaVu Sans', sans-serif; fill: #808080" transform="translate(190.08 304.23)">vacuum</text><text style="font-size: 8.4px; font-family: 'DejaVu Sans', sans-serif; fill: #808080" transform="translate(190.08 313.63)">light line</text></g><g id="text_87"><text style="font-size: 8.4px; font-family: 'DejaVu Sans', sans-serif; fill: #808080" transform="translate(307.87 324.1)">vacuum</text><text style="font-size: 8.4px; font-family: 'DejaVu Sans', sans-serif; fill: #808080" transform="translate(307.87 333.5)">light line</text></g><g id="text_88"><text style="font-size: 8.4px; font-family: 'DejaVu Sans', sans-serif; fill: #808080" transform="translate(423.36 291.27)">vacuum</text><text style="font-size: 8.4px; font-family: 'DejaVu Sans', sans-serif; fill: #808080" transform="translate(423.36 300.67)">light line</text></g><g id="text_89"><text style="font-size: 10.5px; font-family: 'DejaVu Sans', sans-serif; text-anchor: middle" x="198.43" y="80.93" transform="rotate(-0 198.43 80.93)">F</text></g><g id="text_90"><text style="font-size: 10.5px; font-family: 'DejaVu Sans', sans-serif; text-anchor: middle" x="170.21" y="127.76" transform="rotate(-0 170.21 127.76)">D</text></g><g id="axes_14"><g id="patch_129"><path d="M 114.64 78.02 L 114.64 62.99 110.23 62.99 116.67 50.28 123.11 62.99 118.7 62.99 118.7 78.02 z" clip-path="url(#p53b1e0c81c)" style="fill: #808080; fill-opacity: 0.6; stroke: #000000; stroke-opacity: 0.6; stroke-width: 1.05"/></g><g id="patch_130"><path d="M 93.17 145.47 L 144.92 145.47 144.92 141.38 157.65 147.63 144.92 153.88 144.92 149.79 93.17 149.79 z" clip-path="url(#p53b1e0c81c)" style="fill: #808080; fill-opacity: 0.6; stroke: #000000; stroke-opacity: 0.6; stroke-width: 1.05"/></g><g id="patch_131"><path d="M 160.13 44.37 L 171.07 44.37 171.07 48.15 160.13 48.15 z" clip-path="url(#p53b1e0c81c)" style="fill: #f6e826"/></g><g id="patch_132"><path d="M 160.13 40.59 L 171.07 40.59 171.07 44.66 160.13 44.66 z" clip-path="url(#p53b1e0c81c)" style="fill: #fdc328"/></g><g id="patch_133"><path d="M 160.13 36.81 L 171.07 36.81 171.07 40.88 160.13 40.88 z" clip-path="url(#p53b1e0c81c)" style="fill: #fca338"/></g><g id="patch_134"><path d="M 160.13 33.03 L 171.07 33.03 171.07 37.1 160.13 37.1 z" clip-path="url(#p53b1e0c81c)" style="fill: #f3874a"/></g><g id="patch_135"><path d="M 160.13 29.25 L 171.07 29.25 171.07 33.32 160.13 33.32 z" clip-path="url(#p53b1e0c81c)" style="fill: #e56b5d"/></g><g id="patch_136"><path d="M 160.13 25.47 L 171.07 25.47 171.07 29.54 160.13 29.54 z" clip-path="url(#p53b1e0c81c)" style="fill: #d5536f"/></g><g id="patch_137"><path d="M 160.13 21.69 L 171.07 21.69 171.07 25.76 160.13 25.76 z" clip-path="url(#p53b1e0c81c)" style="fill: #c13b82"/></g><g id="patch_138"><path d="M 160.13 17.91 L 171.07 17.91 171.07 21.98 160.13 21.98 z" clip-path="url(#p53b1e0c81c)" style="fill: #a82296"/></g><g id="patch_139"><path d="M 160.13 14.13 L 171.07 14.13 171.07 18.2 160.13 18.2 z" clip-path="url(#p53b1e0c81c)" style="fill: #8d0ba5"/></g><g id="patch_140"><path d="M 160.13 10.35 L 171.07 10.35 171.07 14.42 160.13 14.42 z" clip-path="url(#p53b1e0c81c)" style="fill: #6e00a8"/></g><g id="patch_141"><path d="M 160.13 6.57 L 171.07 6.57 171.07 10.64 160.13 10.64 z" clip-path="url(#p53b1e0c81c)" style="fill: #4b03a1"/></g><g id="patch_142"><path d="M 160.13 2.79 L 171.07 2.79 171.07 6.86 160.13 6.86 z" clip-path="url(#p53b1e0c81c)" style="fill: #260591"/></g><g id="patch_143"><path d="M 352.68 9.13 L 358.83 9.13 358.83 12.84 352.68 12.84 z" clip-path="url(#p53b1e0c81c)" style="fill: #f1f1f1"/></g><g id="patch_144"><path d="M 358.54 9.13 L 364.98 9.13 364.98 12.84 358.54 12.84 z" clip-path="url(#p53b1e0c81c)" style="fill: #d5d5d5"/></g><g id="patch_145"><path d="M 364.69 9.13 L 371.13 9.13 371.13 12.84 364.69 12.84 z" clip-path="url(#p53b1e0c81c)" style="fill: #b8b8b8"/></g><g id="patch_146"><path d="M 370.84 9.13 L 377.27 9.13 377.27 12.84 370.84 12.84 z" clip-path="url(#p53b1e0c81c)" style="fill: #9c9c9c"/></g><g id="patch_147"><path d="M 376.99 9.13 L 383.42 9.13 383.42 12.84 376.99 12.84 z" clip-path="url(#p53b1e0c81c)" style="fill: #7f7f7f"/></g><g id="patch_148"><path d="M 383.13 9.13 L 389.57 9.13 389.57 12.84 383.13 12.84 z" clip-path="url(#p53b1e0c81c)" style="fill: #636363"/></g><g id="patch_149"><path d="M 389.28 9.13 L 395.72 9.13 395.72 12.84 389.28 12.84 z" clip-path="url(#p53b1e0c81c)" style="fill: #474747"/></g><g id="patch_150"><path d="M 395.43 9.13 L 401.86 9.13 401.86 12.84 395.43 12.84 z" clip-path="url(#p53b1e0c81c)" style="fill: #2a2a2a"/></g><g id="patch_151"><path d="M 401.57 9.13 L 408.01 9.13 408.01 12.84 401.57 12.84 z" clip-path="url(#p53b1e0c81c)" style="fill: #0e0e0e"/></g><g id="patch_152"><path d="M 102.01 197.71 L 107.63 197.71 107.63 201.6 102.01 201.6 z" clip-path="url(#p53b1e0c81c)" style="fill: #f3f3f3"/></g><g id="patch_153"><path d="M 107.34 197.71 L 113.24 197.71 113.24 201.6 107.34 201.6 z" clip-path="url(#p53b1e0c81c)" style="fill: #d9d9d9"/></g><g id="patch_154"><path d="M 112.95 197.71 L 118.86 197.71 118.86 201.6 112.95 201.6 z" clip-path="url(#p53b1e0c81c)" style="fill: #bfbfbf"/></g><g id="patch_155"><path d="M 118.57 197.71 L 124.47 197.71 124.47 201.6 118.57 201.6 z" clip-path="url(#p53b1e0c81c)" style="fill: #a6a6a6"/></g><g id="patch_156"><path d="M 124.19 197.71 L 130.09 197.71 130.09 201.6 124.19 201.6 z" clip-path="url(#p53b1e0c81c)" style="fill: #8c8c8c"/></g><g id="patch_157"><path d="M 129.8 197.71 L 135.71 197.71 135.71 201.6 129.8 201.6 z" clip-path="url(#p53b1e0c81c)" style="fill: #737373"/></g><g id="patch_158"><path d="M 135.42 197.71 L 141.32 197.71 141.32 201.6 135.42 201.6 z" clip-path="url(#p53b1e0c81c)" style="fill: #595959"/></g><g id="patch_159"><path d="M 141.03 197.71 L 146.94 197.71 146.94 201.6 141.03 201.6 z" clip-path="url(#p53b1e0c81c)" style="fill: #3f3f3f"/></g><g id="patch_160"><path d="M 146.65 197.71 L 152.55 197.71 152.55 201.6 146.65 201.6 z" clip-path="url(#p53b1e0c81c)" style="fill: #262626"/></g><g id="patch_161"><path d="M 152.27 197.71 L 158.17 197.71 158.17 201.6 152.27 201.6 z" clip-path="url(#p53b1e0c81c)" style="fill: #0c0c0c"/></g><g id="patch_162"><path d="M 351.48 197.71 L 357.08 197.71 357.08 201.6 351.48 201.6 z" clip-path="url(#p53b1e0c81c)" style="fill: #f3f3f3"/></g><g id="patch_163"><path d="M 356.79 197.71 L 362.69 197.71 362.69 201.6 356.79 201.6 z" clip-path="url(#p53b1e0c81c)" style="fill: #d9d9d9"/></g><g id="patch_164"><path d="M 362.4 197.71 L 368.3 197.71 368.3 201.6 362.4 201.6 z" clip-path="url(#p53b1e0c81c)" style="fill: #bfbfbf"/></g><g id="patch_165"><path d="M 368.01 197.71 L 373.9 197.71 373.9 201.6 368.01 201.6 z" clip-path="url(#p53b1e0c81c)" style="fill: #a6a6a6"/></g><g id="patch_166"><path d="M 373.62 197.71 L 379.51 197.71 379.51 201.6 373.62 201.6 z" clip-path="url(#p53b1e0c81c)" style="fill: #8c8c8c"/></g><g id="patch_167"><path d="M 379.22 197.71 L 385.12 197.71 385.12 201.6 379.22 201.6 z" clip-path="url(#p53b1e0c81c)" style="fill: #737373"/></g><g id="patch_168"><path d="M 384.83 197.71 L 390.73 197.71 390.73 201.6 384.83 201.6 z" clip-path="url(#p53b1e0c81c)" style="fill: #595959"/></g><g id="patch_169"><path d="M 390.44 197.71 L 396.33 197.71 396.33 201.6 390.44 201.6 z" clip-path="url(#p53b1e0c81c)" style="fill: #3f3f3f"/></g><g id="patch_170"><path d="M 396.05 197.71 L 401.94 197.71 401.94 201.6 396.05 201.6 z" clip-path="url(#p53b1e0c81c)" style="fill: #262626"/></g><g id="patch_171"><path d="M 401.65 197.71 L 407.55 197.71 407.55 201.6 401.65 201.6 z" clip-path="url(#p53b1e0c81c)" style="fill: #0c0c0c"/></g><g id="patch_172"><path d="M 160.13 2.79 L 171.07 2.79 171.07 48.15 160.13 48.15 160.13 2.79 z" clip-path="url(#p53b1e0c81c)" style="fill: none; stroke: #000000; stroke-width: 0.84; stroke-linejoin: miter"/></g><g id="patch_173"><path d="M 352.68 9.13 L 408.01 9.13 408.01 12.84 352.68 12.84 352.68 9.13 z" clip-path="url(#p53b1e0c81c)" style="fill: none; stroke: #000000; stroke-width: 0.84; stroke-linejoin: miter"/></g><g id="patch_174"><path d="M 102.01 197.71 L 158.17 197.71 158.17 201.6 102.01 201.6 102.01 197.71 z" clip-path="url(#p53b1e0c81c)" style="fill: none; stroke: #000000; stroke-width: 0.84; stroke-linejoin: miter"/></g><g id="patch_175"><path d="M 351.48 197.71 L 407.55 197.71 407.55 201.6 351.48 201.6 351.48 197.71 z" clip-path="url(#p53b1e0c81c)" style="fill: none; stroke: #000000; stroke-width: 0.84; stroke-linejoin: miter"/></g></g></g><defs><clipPath id="pc8ce5147f1"><rect x="49.39" y="2.79" width="100.8" height="45.36"/></clipPath><clipPath id="p224a8b85fa"><rect x="49.42" y="57.54" width="101.43" height="101.15"/></clipPath><clipPath id="pe16f4d7ecf"><rect x="160.19" y="58.06" width="45.3" height="100.63"/></clipPath><clipPath id="p5f57fae615"><rect x="289.7" y="19.58" width="78.65" height="132.05"/></clipPath><clipPath id="p3cb20e0768"><rect x="380.16" y="19.58" width="78.74" height="132.05"/></clipPath><clipPath id="pf8c3f317d9"><rect x="38.3" y="208.34" width="79.72" height="131.99"/></clipPath><clipPath id="pe54c856542"><rect x="129.74" y="208.34" width="79.86" height="131.99"/></clipPath><clipPath id="p68291be35b"><rect x="287.54" y="208.28" width="79.8" height="132.02"/></clipPath><clipPath id="p82ff4634b5"><rect x="379.15" y="208.28" width="79.8" height="132.02"/></clipPath><clipPath id="p53b1e0c81c"><rect x="0" y="0" width="496.8" height="372.96"/></clipPath></defs></svg>

</body></html>
